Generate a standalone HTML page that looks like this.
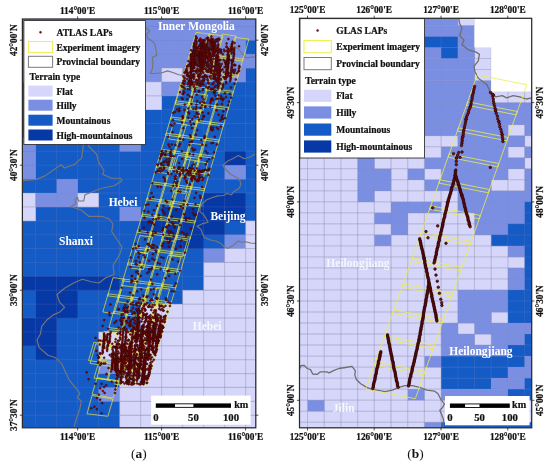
<!DOCTYPE html>
<html lang="en">
<head>
<meta charset="utf-8">
<title>Terrain type maps with ATLAS and GLAS LAPs</title>
<style>
html,body{margin:0;padding:0;background:#ffffff;}
body{width:550px;height:465px;overflow:hidden;font-family:"Liberation Serif",serif;}
svg{display:block;}
</style>
</head>
<body>
<svg width="550" height="465" viewBox="0 0 550 465">
<rect x="0" y="0" width="550" height="465" fill="#ffffff"/>
<defs><clipPath id="ca"><rect x="22.4" y="19" width="233.4" height="408.8"/></clipPath>
<clipPath id="cb"><rect x="299.5" y="18.3" width="232.2" height="409.5"/></clipPath></defs>
<g clip-path="url(#ca)">
<rect x="22.4" y="19" width="233.4" height="408.8" fill="#155bc6"/>
<rect x="22.4" y="19" width="233.7" height="7.6" fill="#7a8ee2"/>
<rect x="22.4" y="26.3" width="233.7" height="14.2" fill="#7a8ee2"/>
<rect x="22.4" y="40.2" width="223.5" height="14.2" fill="#7a8ee2"/>
<rect x="22.4" y="54.1" width="233.7" height="14.2" fill="#7a8ee2"/>
<rect x="22.4" y="68" width="139.5" height="14.2" fill="#7a8ee2"/>
<rect x="161.6" y="68" width="21.3" height="14.2" fill="#d6d6fa"/>
<rect x="182.6" y="68" width="63.3" height="14.2" fill="#7a8ee2"/>
<rect x="140.6" y="81.9" width="21.3" height="14.2" fill="#d6d6fa"/>
<rect x="161.6" y="81.9" width="21.3" height="14.2" fill="#7a8ee2"/>
<rect x="140.6" y="95.8" width="21.3" height="14.2" fill="#d6d6fa"/>
<rect x="22.4" y="137.4" width="13.5" height="14.2" fill="#7a8ee2"/>
<rect x="119.6" y="137.4" width="21.3" height="14.2" fill="#7a8ee2"/>
<rect x="22.4" y="151.3" width="13.5" height="14.2" fill="#7a8ee2"/>
<rect x="224.6" y="151.3" width="21.3" height="14.2" fill="#0638a6"/>
<rect x="22.4" y="165.2" width="13.5" height="14.2" fill="#7a8ee2"/>
<rect x="224.6" y="165.2" width="21.3" height="14.2" fill="#7a8ee2"/>
<rect x="56.6" y="179.1" width="21.3" height="14.2" fill="#7a8ee2"/>
<rect x="22.4" y="193" width="13.5" height="14.2" fill="#d6d6fa"/>
<rect x="35.6" y="193" width="42.3" height="14.2" fill="#7a8ee2"/>
<rect x="77.6" y="193" width="21.3" height="14.2" fill="#d6d6fa"/>
<rect x="203.6" y="193" width="42.3" height="14.2" fill="#0638a6"/>
<rect x="22.4" y="206.9" width="13.5" height="14.2" fill="#d6d6fa"/>
<rect x="119.6" y="206.9" width="21.3" height="14.2" fill="#7a8ee2"/>
<rect x="161.6" y="206.9" width="84.3" height="14.2" fill="#0638a6"/>
<rect x="140.6" y="220.8" width="84.3" height="14.2" fill="#0638a6"/>
<rect x="245.6" y="220.8" width="10.5" height="14.2" fill="#d6d6fa"/>
<rect x="161.6" y="234.7" width="42.3" height="14.2" fill="#0638a6"/>
<rect x="224.6" y="234.7" width="21.3" height="14.2" fill="#7a8ee2"/>
<rect x="245.6" y="234.7" width="10.5" height="14.2" fill="#d6d6fa"/>
<rect x="203.6" y="248.5" width="21.3" height="14.2" fill="#7a8ee2"/>
<rect x="224.6" y="248.5" width="31.5" height="14.2" fill="#d6d6fa"/>
<rect x="203.6" y="262.4" width="52.5" height="14.2" fill="#d6d6fa"/>
<rect x="22.4" y="276.3" width="97.5" height="14.2" fill="#0638a6"/>
<rect x="203.6" y="276.3" width="52.5" height="14.2" fill="#d6d6fa"/>
<rect x="35.6" y="290.2" width="42.3" height="14.2" fill="#0638a6"/>
<rect x="182.6" y="290.2" width="73.5" height="14.2" fill="#d6d6fa"/>
<rect x="35.6" y="304.1" width="42.3" height="14.2" fill="#0638a6"/>
<rect x="140.6" y="304.1" width="115.5" height="14.2" fill="#d6d6fa"/>
<rect x="22.4" y="318" width="34.5" height="14.2" fill="#0638a6"/>
<rect x="140.6" y="318" width="115.5" height="14.2" fill="#d6d6fa"/>
<rect x="22.4" y="331.9" width="34.5" height="14.2" fill="#0638a6"/>
<rect x="98.6" y="331.9" width="157.5" height="14.2" fill="#d6d6fa"/>
<rect x="35.6" y="345.8" width="21.3" height="14.2" fill="#0638a6"/>
<rect x="98.6" y="345.8" width="157.5" height="14.2" fill="#d6d6fa"/>
<rect x="98.6" y="359.7" width="21.3" height="14.2" fill="#7a8ee2"/>
<rect x="119.6" y="359.7" width="136.5" height="14.2" fill="#d6d6fa"/>
<rect x="119.6" y="373.6" width="136.5" height="14.2" fill="#d6d6fa"/>
<rect x="98.6" y="387.4" width="21.3" height="14.2" fill="#7a8ee2"/>
<rect x="119.6" y="387.4" width="136.5" height="14.2" fill="#d6d6fa"/>
<rect x="119.6" y="401.3" width="136.5" height="14.2" fill="#d6d6fa"/>
<rect x="119.6" y="415.2" width="136.5" height="12.9" fill="#d6d6fa"/>
<path d="M35.6 19V427.8M56.6 19V427.8M77.6 19V427.8M98.6 19V427.8M119.6 19V427.8M140.6 19V427.8M161.6 19V427.8M182.6 19V427.8M203.6 19V427.8M224.6 19V427.8M245.6 19V427.8M22.4 26.3H255.8M22.4 40.2H255.8M22.4 54.1H255.8M22.4 68H255.8M22.4 81.9H255.8M22.4 95.8H255.8M22.4 109.6H255.8M22.4 123.5H255.8M22.4 137.4H255.8M22.4 151.3H255.8M22.4 165.2H255.8M22.4 179.1H255.8M22.4 193H255.8M22.4 206.9H255.8M22.4 220.8H255.8M22.4 234.7H255.8M22.4 248.5H255.8M22.4 262.4H255.8M22.4 276.3H255.8M22.4 290.2H255.8M22.4 304.1H255.8M22.4 318H255.8M22.4 331.9H255.8M22.4 345.8H255.8M22.4 359.7H255.8M22.4 373.6H255.8M22.4 387.4H255.8M22.4 401.3H255.8M22.4 415.2H255.8" fill="none" stroke="#8e8eb0" stroke-opacity="0.28" stroke-width="0.7"/>
<path d="M161.6 68H182.6V81.9H161.6ZM140.6 81.9H161.6V95.8H140.6ZM140.6 95.8H161.6V109.6H140.6ZM22.4 193H35.6V206.9H22.4ZM77.6 193H98.6V206.9H77.6ZM22.4 206.9H35.6V220.8H22.4ZM245.6 220.8H255.8V234.7H245.6ZM245.6 234.7H255.8V248.5H245.6ZM224.6 248.5H245.6V262.4H224.6ZM245.6 248.5H255.8V262.4H245.6ZM203.6 262.4H224.6V276.3H203.6ZM224.6 262.4H245.6V276.3H224.6ZM245.6 262.4H255.8V276.3H245.6ZM203.6 276.3H224.6V290.2H203.6ZM224.6 276.3H245.6V290.2H224.6ZM245.6 276.3H255.8V290.2H245.6ZM182.6 290.2H203.6V304.1H182.6ZM203.6 290.2H224.6V304.1H203.6ZM224.6 290.2H245.6V304.1H224.6ZM245.6 290.2H255.8V304.1H245.6ZM140.6 304.1H161.6V318H140.6ZM161.6 304.1H182.6V318H161.6ZM182.6 304.1H203.6V318H182.6ZM203.6 304.1H224.6V318H203.6ZM224.6 304.1H245.6V318H224.6ZM245.6 304.1H255.8V318H245.6ZM140.6 318H161.6V331.9H140.6ZM161.6 318H182.6V331.9H161.6ZM182.6 318H203.6V331.9H182.6ZM203.6 318H224.6V331.9H203.6ZM224.6 318H245.6V331.9H224.6ZM245.6 318H255.8V331.9H245.6ZM98.6 331.9H119.6V345.8H98.6ZM119.6 331.9H140.6V345.8H119.6ZM140.6 331.9H161.6V345.8H140.6ZM161.6 331.9H182.6V345.8H161.6ZM182.6 331.9H203.6V345.8H182.6ZM203.6 331.9H224.6V345.8H203.6ZM224.6 331.9H245.6V345.8H224.6ZM245.6 331.9H255.8V345.8H245.6ZM98.6 345.8H119.6V359.7H98.6ZM119.6 345.8H140.6V359.7H119.6ZM140.6 345.8H161.6V359.7H140.6ZM161.6 345.8H182.6V359.7H161.6ZM182.6 345.8H203.6V359.7H182.6ZM203.6 345.8H224.6V359.7H203.6ZM224.6 345.8H245.6V359.7H224.6ZM245.6 345.8H255.8V359.7H245.6ZM119.6 359.7H140.6V373.6H119.6ZM140.6 359.7H161.6V373.6H140.6ZM161.6 359.7H182.6V373.6H161.6ZM182.6 359.7H203.6V373.6H182.6ZM203.6 359.7H224.6V373.6H203.6ZM224.6 359.7H245.6V373.6H224.6ZM245.6 359.7H255.8V373.6H245.6ZM119.6 373.6H140.6V387.4H119.6ZM140.6 373.6H161.6V387.4H140.6ZM161.6 373.6H182.6V387.4H161.6ZM182.6 373.6H203.6V387.4H182.6ZM203.6 373.6H224.6V387.4H203.6ZM224.6 373.6H245.6V387.4H224.6ZM245.6 373.6H255.8V387.4H245.6ZM119.6 387.4H140.6V401.3H119.6ZM140.6 387.4H161.6V401.3H140.6ZM161.6 387.4H182.6V401.3H161.6ZM182.6 387.4H203.6V401.3H182.6ZM203.6 387.4H224.6V401.3H203.6ZM224.6 387.4H245.6V401.3H224.6ZM245.6 387.4H255.8V401.3H245.6ZM119.6 401.3H140.6V415.2H119.6ZM140.6 401.3H161.6V415.2H140.6ZM161.6 401.3H182.6V415.2H161.6ZM182.6 401.3H203.6V415.2H182.6ZM203.6 401.3H224.6V415.2H203.6ZM224.6 401.3H245.6V415.2H224.6ZM245.6 401.3H255.8V415.2H245.6ZM119.6 415.2H140.6V427.8H119.6ZM140.6 415.2H161.6V427.8H140.6ZM161.6 415.2H182.6V427.8H161.6ZM182.6 415.2H203.6V427.8H182.6ZM203.6 415.2H224.6V427.8H203.6ZM224.6 415.2H245.6V427.8H224.6ZM245.6 415.2H255.8V427.8H245.6Z" fill="none" stroke="#9a9aba" stroke-opacity="0.36" stroke-width="0.6"/>
<polyline points="83.2,143 83.2,146.4 81.7,157.8 74.8,164.2 64.6,168 60.8,164.7 45.5,175.6 36.6,179.4 22,180.7" fill="none" stroke="#777777" stroke-width="1.15" stroke-linejoin="round"/>
<polyline points="88.8,143 88.8,146.4 96.4,154 99,162.9 104,170.5 102.8,174.4 111.7,178.2 120.6,178.2 121.9,180.7 114.2,185.8 101.5,188.3 91.3,192.2 85,194.7 83.7,201 78.6,201 77.3,197.3 74.8,199.8 76,203.6 71,206.7 81.2,210 88.8,216.3 101.5,216.3 109.1,218.9 113,224 111.7,231.6 116.8,239.2 121.9,246.9 120.6,252 118,257.6 113,265.3 114.2,274.2 105.3,278 99,283 91.3,281.8 82.4,279.3 73.5,283 64.6,288.2 57,294.5 59.5,302.2 64.6,307.3 59.5,312.3 53.2,314.9 46.8,320 41.7,326.3 40.4,334 37,340 39.2,347.6 48,355.3 55.7,357.8 62,364.2 65.9,373 69.7,380.7 76,388.3 79.9,393.4 77.3,397.3 81.2,401 79.9,408.7 77.3,416.3 74.8,424 74,428" fill="none" stroke="#777777" stroke-width="1.15" stroke-linejoin="round"/>
<polyline points="144,26 145.8,27.7 149.7,30.9 146.5,34.8 147.7,38.6 151.6,40.6 154.8,43.8 156.1,50.3 156.8,55.4 152.3,57.4 152.9,63.2 152.3,69.6 150.3,73.5 155.5,73.5 161.9,72.8 167.7,70.9 173.5,72.8 178.7,74.8 183.9,75.4 192,78 202,80 212,74 222,64 229,52 234,46 238.5,49 242.6,54 245.8,57.6 250,57.4 257,56.6" fill="none" stroke="#777777" stroke-width="1.15" stroke-linejoin="round"/>
<polyline points="257,153 255.8,153.5 250.6,156.8 244.2,158.7 238.4,155.5 232.6,158.7 227.4,161.3 222.9,165.2 224.2,167.7 227.4,171 231.3,174.8 236.5,177.4 239.7,180 241,184.5 239,188.4 233.9,191.6 231.3,194.8 226.8,193.5 223.5,195.5 217.7,195.9 211.9,197.8 206.8,199.7 202.3,203.6 200.3,207.5 199.7,211.4 203.5,214.6 206.1,218.5 208.1,222.3 202.9,223.6 197.1,226.2 201,229.4 202.3,233.3 204.2,237.2 209.4,239.7 215.8,241 221,243.6 224.8,247.5 228.7,248.1 233.9,244.9 238.4,241 241.6,242.3 245.5,241.7 250.6,243 257,243.6" fill="none" stroke="#777777" stroke-width="1.15" stroke-linejoin="round"/>
<polygon points="113,277.6 124.4,279.1 119,297.3 107.6,295.8" fill="none" stroke="#e6e63c" stroke-width="0.7"/>
<polygon points="108.2,293.8 119.6,295.3 114.2,313.5 102.8,312" fill="none" stroke="#e6e63c" stroke-width="0.7"/>
<polygon points="93.8,342.4 105.2,343.9 99.9,362.1 88.5,360.6" fill="none" stroke="#e6e63c" stroke-width="0.7"/>
<polygon points="196,32.3 210.1,34.1 203.6,55.9 189.6,54.1" fill="none" stroke="#e6e63c" stroke-width="0.7"/>
<polygon points="190.2,52.2 204.2,54 198.9,72.1 184.8,70.3" fill="none" stroke="#e6e63c" stroke-width="0.7"/>
<polygon points="185.4,68.4 199.4,70.2 194.1,88.3 180,86.5" fill="none" stroke="#e6e63c" stroke-width="0.7"/>
<polygon points="180.6,84.6 194.7,86.4 189.3,104.5 175.2,102.7" fill="none" stroke="#e6e63c" stroke-width="0.7"/>
<polygon points="180,88 192.9,89.7 188.2,105.9 175.2,104.2" fill="none" stroke="#e6e63c" stroke-width="0.7"/>
<polygon points="175.8,100.8 189.9,102.6 184.5,120.7 170.5,118.9" fill="none" stroke="#e6e63c" stroke-width="0.7"/>
<polygon points="171,117 185.1,118.8 179.7,136.9 165.7,135.1" fill="none" stroke="#e6e63c" stroke-width="0.7"/>
<polygon points="173.5,122.8 186.4,124.5 181.7,140.7 168.7,139" fill="none" stroke="#e6e63c" stroke-width="0.7"/>
<polygon points="166.3,133.2 180.3,135 175,153.1 160.9,151.3" fill="none" stroke="#e6e63c" stroke-width="0.7"/>
<polygon points="161.5,149.4 175.5,151.2 170.2,169.3 156.1,167.5" fill="none" stroke="#e6e63c" stroke-width="0.7"/>
<polygon points="162.4,156.1 175.4,157.7 170.6,173.9 157.7,172.3" fill="none" stroke="#e6e63c" stroke-width="0.7"/>
<polygon points="156.7,165.6 170.8,167.4 165.4,185.5 151.3,183.7" fill="none" stroke="#e6e63c" stroke-width="0.7"/>
<polygon points="151.9,181.8 166,183.6 160.6,201.7 146.6,199.9" fill="none" stroke="#e6e63c" stroke-width="0.7"/>
<polygon points="147.1,198 161.2,199.8 155.8,217.9 141.8,216.1" fill="none" stroke="#e6e63c" stroke-width="0.7"/>
<polygon points="142.4,214.2 156.4,216 151.1,234.1 137,232.3" fill="none" stroke="#e6e63c" stroke-width="0.7"/>
<polygon points="137.6,230.4 151.6,232.2 146.3,250.3 132.2,248.5" fill="none" stroke="#e6e63c" stroke-width="0.7"/>
<polygon points="139.8,235.5 152.7,237.2 147.9,253.4 135,251.7" fill="none" stroke="#e6e63c" stroke-width="0.7"/>
<polygon points="132.8,246.6 146.9,248.4 141.5,266.5 127.5,264.7" fill="none" stroke="#e6e63c" stroke-width="0.7"/>
<polygon points="135.2,251.8 148.1,253.5 143.4,269.7 130.4,268" fill="none" stroke="#e6e63c" stroke-width="0.7"/>
<polygon points="128,262.8 142.1,264.6 136.7,282.7 122.7,280.9" fill="none" stroke="#e6e63c" stroke-width="0.7"/>
<polygon points="123.3,279 137.3,280.8 131.9,298.9 117.9,297.1" fill="none" stroke="#e6e63c" stroke-width="0.7"/>
<polygon points="122.4,285.5 135.4,287.2 130.6,303.4 117.7,301.7" fill="none" stroke="#e6e63c" stroke-width="0.7"/>
<polygon points="118.5,295.2 132.5,297 127.2,315.1 113.1,313.3" fill="none" stroke="#e6e63c" stroke-width="0.7"/>
<polygon points="113.7,311.4 127.7,313.2 122.4,331.3 108.3,329.5" fill="none" stroke="#e6e63c" stroke-width="0.7"/>
<polygon points="108.9,327.6 123,329.4 117.6,347.5 103.6,345.7" fill="none" stroke="#e6e63c" stroke-width="0.7"/>
<polygon points="104,331.3 117,333 112.2,349.2 99.3,347.5" fill="none" stroke="#e6e63c" stroke-width="0.7"/>
<polygon points="104.1,343.8 118.2,345.6 112.8,363.7 98.8,361.9" fill="none" stroke="#e6e63c" stroke-width="0.7"/>
<polygon points="99.4,360 113.4,361.8 108.1,379.9 94,378.1" fill="none" stroke="#e6e63c" stroke-width="0.7"/>
<polygon points="209,33.9 223,35.8 216.6,57.6 202.5,55.8" fill="none" stroke="#e6e63c" stroke-width="0.7"/>
<polygon points="203.1,53.8 217.2,55.7 211.8,73.8 197.8,72" fill="none" stroke="#e6e63c" stroke-width="0.7"/>
<polygon points="198.3,70 212.4,71.9 207,90 193,88.2" fill="none" stroke="#e6e63c" stroke-width="0.7"/>
<polygon points="193.6,86.2 207.6,88.1 202.2,106.2 188.2,104.4" fill="none" stroke="#e6e63c" stroke-width="0.7"/>
<polygon points="194.6,93.3 207.5,95 202.7,111.2 189.8,109.5" fill="none" stroke="#e6e63c" stroke-width="0.7"/>
<polygon points="188.8,102.4 202.8,104.3 197.5,122.4 183.4,120.6" fill="none" stroke="#e6e63c" stroke-width="0.7"/>
<polygon points="188.1,108.4 201,110.1 196.2,126.3 183.3,124.6" fill="none" stroke="#e6e63c" stroke-width="0.7"/>
<polygon points="184,118.6 198,120.5 192.7,138.6 178.6,136.8" fill="none" stroke="#e6e63c" stroke-width="0.7"/>
<polygon points="179.2,134.8 193.3,136.7 187.9,154.8 173.9,153" fill="none" stroke="#e6e63c" stroke-width="0.7"/>
<polygon points="174.4,151 188.5,152.9 183.1,171 169.1,169.2" fill="none" stroke="#e6e63c" stroke-width="0.7"/>
<polygon points="178,155.4 190.9,157.1 186.1,173.3 173.2,171.6" fill="none" stroke="#e6e63c" stroke-width="0.7"/>
<polygon points="169.7,167.2 183.7,169.1 178.3,187.2 164.3,185.4" fill="none" stroke="#e6e63c" stroke-width="0.7"/>
<polygon points="164.9,183.4 178.9,185.3 173.6,203.4 159.5,201.6" fill="none" stroke="#e6e63c" stroke-width="0.7"/>
<polygon points="160.1,199.6 174.1,201.5 168.8,219.6 154.7,217.8" fill="none" stroke="#e6e63c" stroke-width="0.7"/>
<polygon points="159.3,203.1 172.3,204.8 167.5,221 154.5,219.3" fill="none" stroke="#e6e63c" stroke-width="0.7"/>
<polygon points="155.3,215.8 169.4,217.7 164,235.8 150,234" fill="none" stroke="#e6e63c" stroke-width="0.7"/>
<polygon points="150.5,232 164.6,233.9 159.2,252 145.2,250.2" fill="none" stroke="#e6e63c" stroke-width="0.7"/>
<polygon points="145.8,248.2 159.8,250.1 154.5,268.2 140.4,266.4" fill="none" stroke="#e6e63c" stroke-width="0.7"/>
<polygon points="141,264.4 155,266.3 149.7,284.4 135.6,282.6" fill="none" stroke="#e6e63c" stroke-width="0.7"/>
<polygon points="136.2,280.6 150.3,282.5 144.9,300.6 130.8,298.8" fill="none" stroke="#e6e63c" stroke-width="0.7"/>
<polygon points="136.5,287.1 149.4,288.8 144.6,305 131.7,303.3" fill="none" stroke="#e6e63c" stroke-width="0.7"/>
<polygon points="131.4,296.8 145.5,298.7 140.1,316.8 126.1,315" fill="none" stroke="#e6e63c" stroke-width="0.7"/>
<polygon points="126.6,313 140.7,314.9 135.3,333 121.3,331.2" fill="none" stroke="#e6e63c" stroke-width="0.7"/>
<polygon points="121.9,329.2 135.9,331.1 130.6,349.2 116.5,347.4" fill="none" stroke="#e6e63c" stroke-width="0.7"/>
<polygon points="117.1,345.4 131.1,347.3 125.8,365.4 111.7,363.6" fill="none" stroke="#e6e63c" stroke-width="0.7"/>
<polygon points="112.3,361.6 126.4,363.5 121,381.6 107,379.8" fill="none" stroke="#e6e63c" stroke-width="0.7"/>
<polygon points="222.4,34.1 236.4,36 229.5,59.3 215.5,57.5" fill="none" stroke="#e6e63c" stroke-width="0.7"/>
<polygon points="216.1,55.5 230.1,57.4 224.8,75.5 210.7,73.7" fill="none" stroke="#e6e63c" stroke-width="0.7"/>
<polygon points="211.3,71.7 225.3,73.6 220,91.7 205.9,89.9" fill="none" stroke="#e6e63c" stroke-width="0.7"/>
<polygon points="206.5,87.9 220.6,89.8 215.2,107.9 201.1,106.1" fill="none" stroke="#e6e63c" stroke-width="0.7"/>
<polygon points="201.7,104.1 215.8,106 210.4,124.1 196.4,122.3" fill="none" stroke="#e6e63c" stroke-width="0.7"/>
<polygon points="196.9,120.3 211,122.2 205.6,140.3 191.6,138.5" fill="none" stroke="#e6e63c" stroke-width="0.7"/>
<polygon points="192.2,136.5 206.2,138.4 200.9,156.5 186.8,154.7" fill="none" stroke="#e6e63c" stroke-width="0.7"/>
<polygon points="189.5,143 202.5,144.7 197.7,160.9 184.8,159.2" fill="none" stroke="#e6e63c" stroke-width="0.7"/>
<polygon points="187.4,152.7 201.4,154.6 196.1,172.7 182,170.9" fill="none" stroke="#e6e63c" stroke-width="0.7"/>
<polygon points="186.2,156.8 199.1,158.4 194.3,174.6 181.4,173" fill="none" stroke="#e6e63c" stroke-width="0.7"/>
<polygon points="182.6,168.9 196.7,170.8 191.3,188.9 177.2,187.1" fill="none" stroke="#e6e63c" stroke-width="0.7"/>
<polygon points="176.9,175.5 189.8,177.2 185.1,193.4 172.1,191.7" fill="none" stroke="#e6e63c" stroke-width="0.7"/>
<polygon points="177.8,185.1 191.9,187 186.5,205.1 172.5,203.3" fill="none" stroke="#e6e63c" stroke-width="0.7"/>
<polygon points="174.4,190 187.3,191.7 182.5,207.9 169.6,206.2" fill="none" stroke="#e6e63c" stroke-width="0.7"/>
<polygon points="173,201.3 187.1,203.2 181.7,221.3 167.7,219.5" fill="none" stroke="#e6e63c" stroke-width="0.7"/>
<polygon points="168.3,217.5 182.3,219.4 177,237.5 162.9,235.7" fill="none" stroke="#e6e63c" stroke-width="0.7"/>
<polygon points="166.4,223.5 179.3,225.1 174.6,241.3 161.6,239.7" fill="none" stroke="#e6e63c" stroke-width="0.7"/>
<polygon points="163.5,233.7 177.5,235.6 172.2,253.7 158.1,251.9" fill="none" stroke="#e6e63c" stroke-width="0.7"/>
<polygon points="158.7,249.9 172.8,251.8 167.4,269.9 153.4,268.1" fill="none" stroke="#e6e63c" stroke-width="0.7"/>
<polygon points="153.9,266.1 168,268 162.6,286.1 148.6,284.3" fill="none" stroke="#e6e63c" stroke-width="0.7"/>
<polygon points="149.2,282.3 163.2,284.2 157.8,302.3 143.8,300.5" fill="none" stroke="#e6e63c" stroke-width="0.7"/>
<polygon points="147.2,287.3 160.2,288.9 155.4,305.1 142.5,303.5" fill="none" stroke="#e6e63c" stroke-width="0.7"/>
<polygon points="144.4,298.5 158.4,300.4 153.1,318.5 139,316.7" fill="none" stroke="#e6e63c" stroke-width="0.7"/>
<polygon points="139.6,314.7 153.6,316.6 148.3,334.7 134.2,332.9" fill="none" stroke="#e6e63c" stroke-width="0.7"/>
<polygon points="134.8,330.9 148.9,332.8 143.5,350.9 129.5,349.1" fill="none" stroke="#e6e63c" stroke-width="0.7"/>
<polygon points="130.9,334.9 143.9,336.6 139.1,352.8 126.2,351.1" fill="none" stroke="#e6e63c" stroke-width="0.7"/>
<polygon points="130,347.1 144.1,349 138.7,367.1 124.7,365.3" fill="none" stroke="#e6e63c" stroke-width="0.7"/>
<polygon points="128.4,353.3 141.4,355 136.6,371.2 123.6,369.5" fill="none" stroke="#e6e63c" stroke-width="0.7"/>
<polygon points="125.3,363.3 139.3,365.2 134,383.3 119.9,381.5" fill="none" stroke="#e6e63c" stroke-width="0.7"/>
<polygon points="119.6,368.1 132.5,369.8 127.7,386 114.8,384.3" fill="none" stroke="#e6e63c" stroke-width="0.7"/>
<polygon points="234.9,37.3 248.9,39.1 242.5,61 228.4,59.2" fill="none" stroke="#e6e63c" stroke-width="0.7"/>
<polygon points="229,57.2 243.1,59 237.7,77.2 223.7,75.4" fill="none" stroke="#e6e63c" stroke-width="0.7"/>
<polygon points="224.2,73.4 238.3,75.2 232.9,93.4 218.9,91.6" fill="none" stroke="#e6e63c" stroke-width="0.7"/>
<polygon points="219.5,89.6 233.5,91.4 228.1,109.6 214.1,107.8" fill="none" stroke="#e6e63c" stroke-width="0.7"/>
<polygon points="214.7,105.8 228.7,107.6 223.4,125.8 209.3,124" fill="none" stroke="#e6e63c" stroke-width="0.7"/>
<polygon points="209.9,122 223.9,123.8 218.6,142 204.5,140.2" fill="none" stroke="#e6e63c" stroke-width="0.7"/>
<polygon points="205.1,138.2 219.2,140 213.8,158.2 199.8,156.4" fill="none" stroke="#e6e63c" stroke-width="0.7"/>
<polygon points="200.3,154.4 214.4,156.2 209,174.4 195,172.6" fill="none" stroke="#e6e63c" stroke-width="0.7"/>
<polygon points="195,161.1 207.9,162.8 203.1,179 190.2,177.3" fill="none" stroke="#e6e63c" stroke-width="0.7"/>
<polygon points="195.6,170.6 209.6,172.4 204.2,190.6 190.2,188.8" fill="none" stroke="#e6e63c" stroke-width="0.7"/>
<polygon points="190.8,186.8 204.8,188.6 199.5,206.8 185.4,205" fill="none" stroke="#e6e63c" stroke-width="0.7"/>
<polygon points="186,203 200,204.8 194.7,223 180.6,221.2" fill="none" stroke="#e6e63c" stroke-width="0.7"/>
<polygon points="181.2,219.2 195.3,221 189.9,239.2 175.9,237.4" fill="none" stroke="#e6e63c" stroke-width="0.7"/>
<polygon points="176.4,235.4 190.5,237.2 185.1,255.4 171.1,253.6" fill="none" stroke="#e6e63c" stroke-width="0.7"/>
<polygon points="174.5,238.8 187.5,240.5 182.7,256.7 169.7,255" fill="none" stroke="#e6e63c" stroke-width="0.7"/>
<polygon points="171.7,251.6 185.7,253.4 180.4,271.6 166.3,269.8" fill="none" stroke="#e6e63c" stroke-width="0.7"/>
<polygon points="168.2,255.3 181.1,257 176.4,273.2 163.4,271.5" fill="none" stroke="#e6e63c" stroke-width="0.7"/>
<polygon points="166.9,267.8 180.9,269.6 175.6,287.8 161.5,286" fill="none" stroke="#e6e63c" stroke-width="0.7"/>
<polygon points="162.1,284 176.2,285.8 170.8,304 156.7,302.2" fill="none" stroke="#e6e63c" stroke-width="0.7"/>
<polygon points="156.8,287.4 169.7,289.1 164.9,305.3 152,303.6" fill="none" stroke="#e6e63c" stroke-width="0.7"/>
<polygon points="157.3,300.2 171.4,302 166,320.2 152,318.4" fill="none" stroke="#e6e63c" stroke-width="0.7"/>
<polygon points="155.4,303.4 168.4,305.1 163.6,321.3 150.7,319.6" fill="none" stroke="#e6e63c" stroke-width="0.7"/>
<polygon points="152.5,316.4 166.6,318.2 161.2,336.4 147.2,334.6" fill="none" stroke="#e6e63c" stroke-width="0.7"/>
<polygon points="147.8,332.6 161.8,334.4 156.5,352.6 142.4,350.8" fill="none" stroke="#e6e63c" stroke-width="0.7"/>
<polygon points="143,348.8 157,350.6 151.7,368.8 137.6,367" fill="none" stroke="#e6e63c" stroke-width="0.7"/>
<polygon points="139.6,353.5 152.6,355.2 147.8,371.4 134.9,369.7" fill="none" stroke="#e6e63c" stroke-width="0.7"/>
<polygon points="138.2,365 152.3,366.8 146.9,385 132.9,383.2" fill="none" stroke="#e6e63c" stroke-width="0.7"/>
<polygon points="92,395.5 113,399 107.9,416.3 87,413.8" fill="none" stroke="#e6e63c" stroke-width="0.7"/>
<polygon points="97,378.2 118.8,382 113,398 92.1,394.2" fill="none" stroke="#e6e63c" stroke-width="0.7"/>
<polygon points="101.6,361.6 121.9,365.4 118.8,380.7 97,377.7" fill="none" stroke="#e6e63c" stroke-width="0.7"/>
<polygon points="95.9,343.8 116.8,347.6 113,366.7 90.1,363.4" fill="none" stroke="#e6e63c" stroke-width="0.7"/>
<g fill="#8a0c0c" stroke="#2c0404" stroke-width="0.55">
<circle cx="167" cy="202" r="0.95"/>
<circle cx="196.3" cy="70.9" r="0.95"/>
<circle cx="108.2" cy="328.8" r="0.95"/>
<circle cx="118.8" cy="375.5" r="0.95"/>
<circle cx="146.3" cy="329.9" r="0.95"/>
<circle cx="153.4" cy="219.3" r="0.95"/>
<circle cx="200.1" cy="43.9" r="0.95"/>
<circle cx="160.9" cy="163.6" r="0.95"/>
<circle cx="144.1" cy="360" r="0.95"/>
<circle cx="167.6" cy="271.3" r="0.95"/>
<circle cx="136.7" cy="303.3" r="0.95"/>
<circle cx="131.8" cy="375.6" r="0.95"/>
<circle cx="124.5" cy="383.6" r="0.95"/>
<circle cx="163.5" cy="310.5" r="0.95"/>
<circle cx="153.1" cy="352.3" r="0.95"/>
<circle cx="192.9" cy="59.5" r="0.95"/>
<circle cx="162" cy="154.3" r="0.95"/>
<circle cx="152.2" cy="258.6" r="0.95"/>
<circle cx="191.1" cy="71.2" r="0.95"/>
<circle cx="169.9" cy="241.1" r="0.95"/>
<circle cx="192.8" cy="51.2" r="0.95"/>
<circle cx="199.3" cy="40.1" r="0.95"/>
<circle cx="142.7" cy="334.6" r="0.95"/>
<circle cx="164.8" cy="178.9" r="0.95"/>
<circle cx="152.3" cy="339.1" r="0.95"/>
<circle cx="175.4" cy="145" r="0.95"/>
<circle cx="196.3" cy="107.5" r="0.95"/>
<circle cx="117.5" cy="348.6" r="0.95"/>
<circle cx="131.4" cy="355.2" r="0.95"/>
<circle cx="161.3" cy="257.2" r="0.95"/>
<circle cx="189.4" cy="145" r="0.95"/>
<circle cx="196" cy="55.5" r="0.95"/>
<circle cx="229.9" cy="81.3" r="0.95"/>
<circle cx="136.8" cy="354" r="0.95"/>
<circle cx="121.7" cy="356.1" r="0.95"/>
<circle cx="205.6" cy="151.4" r="0.95"/>
<circle cx="159.8" cy="306.6" r="0.95"/>
<circle cx="157.7" cy="186.7" r="0.95"/>
<circle cx="227.9" cy="74.8" r="0.95"/>
<circle cx="173.4" cy="233.6" r="0.95"/>
<circle cx="135.6" cy="264" r="0.95"/>
<circle cx="121.6" cy="359.1" r="0.95"/>
<circle cx="182.8" cy="83" r="0.95"/>
<circle cx="132.6" cy="302.6" r="0.95"/>
<circle cx="204.1" cy="80.7" r="0.95"/>
<circle cx="172.3" cy="199.4" r="0.95"/>
<circle cx="136.6" cy="264.5" r="0.95"/>
<circle cx="122.5" cy="351" r="0.95"/>
<circle cx="203.2" cy="46.6" r="0.95"/>
<circle cx="151.2" cy="331.7" r="0.95"/>
<circle cx="210.3" cy="53.1" r="0.95"/>
<circle cx="148.7" cy="327.8" r="0.95"/>
<circle cx="169.5" cy="146.8" r="0.95"/>
<circle cx="160.5" cy="171.6" r="0.95"/>
<circle cx="142.6" cy="312.5" r="0.95"/>
<circle cx="155.3" cy="355.2" r="0.95"/>
<circle cx="226.2" cy="81.8" r="0.95"/>
<circle cx="122.7" cy="344.5" r="0.95"/>
<circle cx="163.8" cy="317.1" r="0.95"/>
<circle cx="121.7" cy="350.6" r="0.95"/>
<circle cx="178.4" cy="168.2" r="0.95"/>
<circle cx="148.3" cy="376.4" r="0.95"/>
<circle cx="218.6" cy="95.3" r="0.95"/>
<circle cx="132.3" cy="313.8" r="0.95"/>
<circle cx="152.3" cy="214.9" r="0.95"/>
<circle cx="194.7" cy="179" r="0.95"/>
<circle cx="132.9" cy="308.2" r="0.95"/>
<circle cx="230.9" cy="87.5" r="0.95"/>
<circle cx="143.5" cy="349.1" r="0.95"/>
<circle cx="216.8" cy="127.8" r="0.95"/>
<circle cx="228.9" cy="58.9" r="0.95"/>
<circle cx="171.8" cy="144.5" r="0.95"/>
<circle cx="141.6" cy="355.6" r="0.95"/>
<circle cx="202.5" cy="48.2" r="0.95"/>
<circle cx="135.6" cy="317.4" r="0.95"/>
<circle cx="202.7" cy="112.4" r="0.95"/>
<circle cx="98.5" cy="357.9" r="0.95"/>
<circle cx="149.3" cy="365.9" r="0.95"/>
<circle cx="147.8" cy="341" r="0.95"/>
<circle cx="138.7" cy="331.4" r="0.95"/>
<circle cx="199.4" cy="41.2" r="0.95"/>
<circle cx="167.5" cy="311.8" r="0.95"/>
<circle cx="142.5" cy="317.7" r="0.95"/>
<circle cx="232.9" cy="69.7" r="0.95"/>
<circle cx="169.4" cy="158.7" r="0.95"/>
<circle cx="138.7" cy="338.1" r="0.95"/>
<circle cx="148.4" cy="321.4" r="0.95"/>
<circle cx="205.3" cy="106.9" r="0.95"/>
<circle cx="188.3" cy="108.5" r="0.95"/>
<circle cx="208.9" cy="87.2" r="0.95"/>
<circle cx="192.4" cy="148.5" r="0.95"/>
<circle cx="195.9" cy="214.6" r="0.95"/>
<circle cx="119.3" cy="371.7" r="0.95"/>
<circle cx="119.9" cy="371.5" r="0.95"/>
<circle cx="125.8" cy="321" r="0.95"/>
<circle cx="126.9" cy="376.8" r="0.95"/>
<circle cx="125.6" cy="311.6" r="0.95"/>
<circle cx="140.6" cy="360.9" r="0.95"/>
<circle cx="130.2" cy="354.8" r="0.95"/>
<circle cx="127.7" cy="351.3" r="0.95"/>
<circle cx="208.9" cy="56.3" r="0.95"/>
<circle cx="120.6" cy="334.8" r="0.95"/>
<circle cx="170.6" cy="152.3" r="0.95"/>
<circle cx="128.5" cy="361.5" r="0.95"/>
<circle cx="130.9" cy="363.4" r="0.95"/>
<circle cx="148.9" cy="331.8" r="0.95"/>
<circle cx="208.4" cy="39.8" r="0.95"/>
<circle cx="149.2" cy="374.5" r="0.95"/>
<circle cx="228.4" cy="39" r="0.95"/>
<circle cx="141.8" cy="343.1" r="0.95"/>
<circle cx="168.9" cy="270.7" r="0.95"/>
<circle cx="125.6" cy="343" r="0.95"/>
<circle cx="183.2" cy="167.6" r="0.95"/>
<circle cx="135.9" cy="375.4" r="0.95"/>
<circle cx="155.2" cy="328.6" r="0.95"/>
<circle cx="182.1" cy="159" r="0.95"/>
<circle cx="143.6" cy="377.3" r="0.95"/>
<circle cx="197.5" cy="47.5" r="0.95"/>
<circle cx="180.1" cy="270.6" r="0.95"/>
<circle cx="182.7" cy="93.7" r="0.95"/>
<circle cx="184.3" cy="84.4" r="0.95"/>
<circle cx="216.9" cy="144.5" r="0.95"/>
<circle cx="122" cy="322.5" r="0.95"/>
<circle cx="198.7" cy="114.2" r="0.95"/>
<circle cx="137" cy="326.2" r="0.95"/>
<circle cx="225.1" cy="61.1" r="0.95"/>
<circle cx="154.5" cy="330.3" r="0.95"/>
<circle cx="173.3" cy="112.9" r="0.95"/>
<circle cx="211.1" cy="127.8" r="0.95"/>
<circle cx="219.7" cy="71.8" r="0.95"/>
<circle cx="139.5" cy="348" r="0.95"/>
<circle cx="203.8" cy="79.6" r="0.95"/>
<circle cx="125" cy="311.7" r="0.95"/>
<circle cx="144.1" cy="381.3" r="0.95"/>
<circle cx="117.3" cy="377.2" r="0.95"/>
<circle cx="121.6" cy="346.3" r="0.95"/>
<circle cx="148.2" cy="341.8" r="0.95"/>
<circle cx="179.6" cy="175.7" r="0.95"/>
<circle cx="154.2" cy="353.7" r="0.95"/>
<circle cx="131" cy="330.7" r="0.95"/>
<circle cx="134" cy="337.1" r="0.95"/>
<circle cx="104.2" cy="320" r="0.95"/>
<circle cx="189.8" cy="96.5" r="0.95"/>
<circle cx="207.2" cy="77" r="0.95"/>
<circle cx="120.7" cy="329.3" r="0.95"/>
<circle cx="224" cy="49.6" r="0.95"/>
<circle cx="213.9" cy="93.1" r="0.95"/>
<circle cx="117.3" cy="375.3" r="0.95"/>
<circle cx="218.6" cy="114.7" r="0.95"/>
<circle cx="188.9" cy="81.1" r="0.95"/>
<circle cx="130.6" cy="257.6" r="0.95"/>
<circle cx="136" cy="363.5" r="0.95"/>
<circle cx="200.9" cy="48.2" r="0.95"/>
<circle cx="135.4" cy="278.8" r="0.95"/>
<circle cx="147" cy="335.9" r="0.95"/>
<circle cx="195.8" cy="50.5" r="0.95"/>
<circle cx="220.5" cy="83.5" r="0.95"/>
<circle cx="143.8" cy="227.8" r="0.95"/>
<circle cx="206.3" cy="86.9" r="0.95"/>
<circle cx="134.4" cy="327.2" r="0.95"/>
<circle cx="191.6" cy="74.8" r="0.95"/>
<circle cx="194" cy="74.6" r="0.95"/>
<circle cx="174.4" cy="123.4" r="0.95"/>
<circle cx="155.4" cy="341.2" r="0.95"/>
<circle cx="155.7" cy="318.6" r="0.95"/>
<circle cx="199.5" cy="170.3" r="0.95"/>
<circle cx="220.7" cy="65.9" r="0.95"/>
<circle cx="200.5" cy="197.9" r="0.95"/>
<circle cx="209.1" cy="49.5" r="0.95"/>
<circle cx="145.4" cy="343.5" r="0.95"/>
<circle cx="196.9" cy="64.6" r="0.95"/>
<circle cx="194.3" cy="43.1" r="0.95"/>
<circle cx="183.1" cy="169.2" r="0.95"/>
<circle cx="197.9" cy="117.2" r="0.95"/>
<circle cx="168.8" cy="219.7" r="0.95"/>
<circle cx="129.5" cy="344.4" r="0.95"/>
<circle cx="219.2" cy="52.1" r="0.95"/>
<circle cx="130.9" cy="367.5" r="0.95"/>
<circle cx="224.8" cy="77.7" r="0.95"/>
<circle cx="142.5" cy="329.4" r="0.95"/>
<circle cx="198.2" cy="61.4" r="0.95"/>
<circle cx="128.7" cy="355.6" r="0.95"/>
<circle cx="153.3" cy="351" r="0.95"/>
<circle cx="153.1" cy="231.6" r="0.95"/>
<circle cx="182.8" cy="118.3" r="0.95"/>
<circle cx="172.6" cy="132.2" r="0.95"/>
<circle cx="114.8" cy="347" r="0.95"/>
<circle cx="205.6" cy="55.5" r="0.95"/>
<circle cx="130" cy="292.8" r="0.95"/>
<circle cx="154.4" cy="310.5" r="0.95"/>
<circle cx="210.9" cy="57.2" r="0.95"/>
<circle cx="98.5" cy="361.9" r="0.95"/>
<circle cx="130.3" cy="321.2" r="0.95"/>
<circle cx="219.6" cy="60.3" r="0.95"/>
<circle cx="235.8" cy="79.5" r="0.95"/>
<circle cx="188.3" cy="117.8" r="0.95"/>
<circle cx="198.3" cy="83.6" r="0.95"/>
<circle cx="160.9" cy="168.2" r="0.95"/>
<circle cx="214.1" cy="152.3" r="0.95"/>
<circle cx="149.9" cy="335.4" r="0.95"/>
<circle cx="185" cy="88.6" r="0.95"/>
<circle cx="173.7" cy="156.2" r="0.95"/>
<circle cx="200.5" cy="108" r="0.95"/>
<circle cx="143.9" cy="255.2" r="0.95"/>
<circle cx="122.3" cy="324" r="0.95"/>
<circle cx="128.4" cy="384.3" r="0.95"/>
<circle cx="136.1" cy="271.9" r="0.95"/>
<circle cx="153.4" cy="312.6" r="0.95"/>
<circle cx="141.2" cy="289.4" r="0.95"/>
<circle cx="130.3" cy="342.8" r="0.95"/>
<circle cx="171" cy="125" r="0.95"/>
<circle cx="194.5" cy="197.7" r="0.95"/>
<circle cx="180.4" cy="191.7" r="0.95"/>
<circle cx="163.4" cy="319.5" r="0.95"/>
<circle cx="205" cy="68.8" r="0.95"/>
<circle cx="220.4" cy="120.4" r="0.95"/>
<circle cx="127.7" cy="374.2" r="0.95"/>
<circle cx="152" cy="248" r="0.95"/>
<circle cx="208.2" cy="83.5" r="0.95"/>
<circle cx="188.1" cy="170.9" r="0.95"/>
<circle cx="152.3" cy="339.5" r="0.95"/>
<circle cx="204.6" cy="77.5" r="0.95"/>
<circle cx="202.7" cy="77.4" r="0.95"/>
<circle cx="189.3" cy="218.1" r="0.95"/>
<circle cx="207.1" cy="45.9" r="0.95"/>
<circle cx="211.4" cy="143.2" r="0.95"/>
<circle cx="148.1" cy="317.4" r="0.95"/>
<circle cx="195.5" cy="204.1" r="0.95"/>
<circle cx="191.5" cy="65" r="0.95"/>
<circle cx="183.1" cy="83.3" r="0.95"/>
<circle cx="161.2" cy="317.3" r="0.95"/>
<circle cx="146.4" cy="340" r="0.95"/>
<circle cx="126.5" cy="381.9" r="0.95"/>
<circle cx="138.5" cy="322.9" r="0.95"/>
<circle cx="153.4" cy="318" r="0.95"/>
<circle cx="138.8" cy="374.6" r="0.95"/>
<circle cx="163.5" cy="153.1" r="0.95"/>
<circle cx="135.8" cy="338.2" r="0.95"/>
<circle cx="193.2" cy="65.2" r="0.95"/>
<circle cx="216.1" cy="80.3" r="0.95"/>
<circle cx="127.2" cy="343.7" r="0.95"/>
<circle cx="144.6" cy="370.5" r="0.95"/>
<circle cx="209.3" cy="169.5" r="0.95"/>
<circle cx="141" cy="335.3" r="0.95"/>
<circle cx="156.4" cy="298" r="0.95"/>
<circle cx="143.7" cy="324.5" r="0.95"/>
<circle cx="129.2" cy="381.3" r="0.95"/>
<circle cx="149" cy="333" r="0.95"/>
<circle cx="215.3" cy="95.6" r="0.95"/>
<circle cx="190.4" cy="72.4" r="0.95"/>
<circle cx="137.8" cy="335.7" r="0.95"/>
<circle cx="122.4" cy="363.5" r="0.95"/>
<circle cx="149.2" cy="306.3" r="0.95"/>
<circle cx="133.6" cy="373.5" r="0.95"/>
<circle cx="195.4" cy="178.4" r="0.95"/>
<circle cx="192.8" cy="82.1" r="0.95"/>
<circle cx="155.8" cy="320" r="0.95"/>
<circle cx="148.1" cy="359.8" r="0.95"/>
<circle cx="138.3" cy="252.5" r="0.95"/>
<circle cx="177" cy="109.5" r="0.95"/>
<circle cx="192" cy="165.8" r="0.95"/>
<circle cx="117.6" cy="333.7" r="0.95"/>
<circle cx="207.5" cy="56.4" r="0.95"/>
<circle cx="187.9" cy="72.9" r="0.95"/>
<circle cx="170.5" cy="155.7" r="0.95"/>
<circle cx="148.5" cy="338" r="0.95"/>
<circle cx="231.7" cy="48.9" r="0.95"/>
<circle cx="159.1" cy="215.3" r="0.95"/>
<circle cx="175.8" cy="178.7" r="0.95"/>
<circle cx="162" cy="326.7" r="0.95"/>
<circle cx="200.1" cy="83.1" r="0.95"/>
<circle cx="144.2" cy="377.8" r="0.95"/>
<circle cx="179.2" cy="108.4" r="0.95"/>
<circle cx="147.8" cy="243.7" r="0.95"/>
<circle cx="148" cy="334.5" r="0.95"/>
<circle cx="198.4" cy="59.6" r="0.95"/>
<circle cx="184.7" cy="78.3" r="0.95"/>
<circle cx="209.6" cy="54.7" r="0.95"/>
<circle cx="139" cy="330.9" r="0.95"/>
<circle cx="231.7" cy="44.4" r="0.95"/>
<circle cx="179.9" cy="138.7" r="0.95"/>
<circle cx="129" cy="325.1" r="0.95"/>
<circle cx="150" cy="342" r="0.95"/>
<circle cx="142.9" cy="336.4" r="0.95"/>
<circle cx="174.4" cy="285.9" r="0.95"/>
<circle cx="200.4" cy="38.6" r="0.95"/>
<circle cx="226.5" cy="47.2" r="0.95"/>
<circle cx="131.4" cy="282.2" r="0.95"/>
<circle cx="127" cy="383.4" r="0.95"/>
<circle cx="146.5" cy="343.5" r="0.95"/>
<circle cx="186.6" cy="173.7" r="0.95"/>
<circle cx="202.4" cy="76.8" r="0.95"/>
<circle cx="191.9" cy="59" r="0.95"/>
<circle cx="107.7" cy="342" r="0.95"/>
<circle cx="146" cy="205" r="0.95"/>
<circle cx="149.3" cy="269" r="0.95"/>
<circle cx="204.2" cy="170.4" r="0.95"/>
<circle cx="190.4" cy="62.6" r="0.95"/>
<circle cx="186.3" cy="180.7" r="0.95"/>
<circle cx="221.1" cy="96.3" r="0.95"/>
<circle cx="180.7" cy="246.5" r="0.95"/>
<circle cx="201.8" cy="40.2" r="0.95"/>
<circle cx="139" cy="384" r="0.95"/>
<circle cx="149.2" cy="269.1" r="0.95"/>
<circle cx="173.3" cy="224.2" r="0.95"/>
<circle cx="165.5" cy="278.2" r="0.95"/>
<circle cx="141.5" cy="382.3" r="0.95"/>
<circle cx="179.5" cy="110.5" r="0.95"/>
<circle cx="196.8" cy="83.5" r="0.95"/>
<circle cx="226.6" cy="43.5" r="0.95"/>
<circle cx="138.3" cy="335.2" r="0.95"/>
<circle cx="123.7" cy="307.6" r="0.95"/>
<circle cx="130.7" cy="348.9" r="0.95"/>
<circle cx="217.8" cy="41.4" r="0.95"/>
<circle cx="211.4" cy="99.2" r="0.95"/>
<circle cx="148.8" cy="373.3" r="0.95"/>
<circle cx="123.2" cy="367.9" r="0.95"/>
<circle cx="202.1" cy="105.2" r="0.95"/>
<circle cx="228.3" cy="48.6" r="0.95"/>
<circle cx="121.3" cy="317.7" r="0.95"/>
<circle cx="135.9" cy="261.2" r="0.95"/>
<circle cx="236.9" cy="73.2" r="0.95"/>
<circle cx="165.3" cy="154.6" r="0.95"/>
<circle cx="115.7" cy="339.3" r="0.95"/>
<circle cx="198.8" cy="174.5" r="0.95"/>
<circle cx="158.4" cy="318.1" r="0.95"/>
<circle cx="165.3" cy="155.2" r="0.95"/>
<circle cx="135" cy="351.4" r="0.95"/>
<circle cx="137.1" cy="291.3" r="0.95"/>
<circle cx="160.7" cy="309.9" r="0.95"/>
<circle cx="101.1" cy="363.2" r="0.95"/>
<circle cx="144.6" cy="321.7" r="0.95"/>
<circle cx="168.5" cy="301.9" r="0.95"/>
<circle cx="120.8" cy="373.4" r="0.95"/>
<circle cx="128.2" cy="368.7" r="0.95"/>
<circle cx="195.2" cy="40.9" r="0.95"/>
<circle cx="196" cy="54.3" r="0.95"/>
<circle cx="186.1" cy="235.9" r="0.95"/>
<circle cx="115.5" cy="365.4" r="0.95"/>
<circle cx="161.3" cy="305.8" r="0.95"/>
<circle cx="184.8" cy="252.8" r="0.95"/>
<circle cx="150.9" cy="289.7" r="0.95"/>
<circle cx="138.7" cy="318.7" r="0.95"/>
<circle cx="130.8" cy="351.2" r="0.95"/>
<circle cx="124.7" cy="362.8" r="0.95"/>
<circle cx="144" cy="380.4" r="0.95"/>
<circle cx="140.7" cy="360.8" r="0.95"/>
<circle cx="127.1" cy="360.3" r="0.95"/>
<circle cx="192" cy="70.6" r="0.95"/>
<circle cx="206.5" cy="70.5" r="0.95"/>
<circle cx="148.6" cy="326.5" r="0.95"/>
<circle cx="213.4" cy="89" r="0.95"/>
<circle cx="212.1" cy="83.7" r="0.95"/>
<circle cx="211.1" cy="127.3" r="0.95"/>
<circle cx="222.9" cy="87.1" r="0.95"/>
<circle cx="200.8" cy="84.4" r="0.95"/>
<circle cx="142.6" cy="308.5" r="0.95"/>
<circle cx="190.3" cy="78.2" r="0.95"/>
<circle cx="196" cy="109.3" r="0.95"/>
<circle cx="139.8" cy="335.9" r="0.95"/>
<circle cx="196.8" cy="37.9" r="0.95"/>
<circle cx="176.5" cy="183.4" r="0.95"/>
<circle cx="206.1" cy="55.8" r="0.95"/>
<circle cx="133.1" cy="248.7" r="0.95"/>
<circle cx="197.7" cy="63.7" r="0.95"/>
<circle cx="134.5" cy="362.3" r="0.95"/>
<circle cx="137.4" cy="339.5" r="0.95"/>
<circle cx="233.3" cy="71.7" r="0.95"/>
<circle cx="206.8" cy="71.4" r="0.95"/>
<circle cx="129.7" cy="326.3" r="0.95"/>
<circle cx="193.9" cy="74.5" r="0.95"/>
<circle cx="134.8" cy="345.6" r="0.95"/>
<circle cx="139.2" cy="348.9" r="0.95"/>
<circle cx="188" cy="173" r="0.95"/>
<circle cx="157.7" cy="319.4" r="0.95"/>
<circle cx="164.2" cy="167.9" r="0.95"/>
<circle cx="167.1" cy="161.9" r="0.95"/>
<circle cx="152.6" cy="307.1" r="0.95"/>
<circle cx="182.6" cy="116.2" r="0.95"/>
<circle cx="148.5" cy="321.8" r="0.95"/>
<circle cx="163.5" cy="165.6" r="0.95"/>
<circle cx="118.7" cy="353.1" r="0.95"/>
<circle cx="127.7" cy="310.6" r="0.95"/>
<circle cx="118.2" cy="357.5" r="0.95"/>
<circle cx="138.8" cy="246.2" r="0.95"/>
<circle cx="168.3" cy="174" r="0.95"/>
<circle cx="194.7" cy="170.6" r="0.95"/>
<circle cx="145.2" cy="239.4" r="0.95"/>
<circle cx="147.4" cy="244.4" r="0.95"/>
<circle cx="153.1" cy="322.6" r="0.95"/>
<circle cx="203.8" cy="54.1" r="0.95"/>
<circle cx="150.1" cy="198.2" r="0.95"/>
<circle cx="201.1" cy="171.5" r="0.95"/>
<circle cx="115.6" cy="347.9" r="0.95"/>
<circle cx="127.7" cy="380.2" r="0.95"/>
<circle cx="141.8" cy="333.7" r="0.95"/>
<circle cx="146.6" cy="327.1" r="0.95"/>
<circle cx="179" cy="167.3" r="0.95"/>
<circle cx="115.7" cy="347.2" r="0.95"/>
<circle cx="182.5" cy="170.9" r="0.95"/>
<circle cx="118.7" cy="344.2" r="0.95"/>
<circle cx="202.8" cy="101.7" r="0.95"/>
<circle cx="185.7" cy="218.4" r="0.95"/>
<circle cx="100" cy="365.2" r="0.95"/>
<circle cx="195.7" cy="51.7" r="0.95"/>
<circle cx="187.4" cy="74.2" r="0.95"/>
<circle cx="229.7" cy="51" r="0.95"/>
<circle cx="128.1" cy="332.1" r="0.95"/>
<circle cx="155" cy="354.1" r="0.95"/>
<circle cx="211.1" cy="43.1" r="0.95"/>
<circle cx="219.8" cy="78.9" r="0.95"/>
<circle cx="157.8" cy="164.7" r="0.95"/>
<circle cx="143.7" cy="374.1" r="0.95"/>
<circle cx="152.7" cy="235.3" r="0.95"/>
<circle cx="168.9" cy="246.7" r="0.95"/>
<circle cx="202.1" cy="80.7" r="0.95"/>
<circle cx="183.5" cy="87.4" r="0.95"/>
<circle cx="188.1" cy="65.5" r="0.95"/>
<circle cx="227.7" cy="54.5" r="0.95"/>
<circle cx="100.7" cy="340.6" r="0.95"/>
<circle cx="232" cy="67.1" r="0.95"/>
<circle cx="160.7" cy="269.1" r="0.95"/>
<circle cx="146.9" cy="378.5" r="0.95"/>
<circle cx="150.5" cy="339.5" r="0.95"/>
<circle cx="184.4" cy="110.1" r="0.95"/>
<circle cx="214.7" cy="92.8" r="0.95"/>
<circle cx="211.8" cy="39.5" r="0.95"/>
<circle cx="226.3" cy="83.1" r="0.95"/>
<circle cx="143.3" cy="315" r="0.95"/>
<circle cx="140.1" cy="367.5" r="0.95"/>
<circle cx="195.7" cy="70.8" r="0.95"/>
<circle cx="128.4" cy="369.4" r="0.95"/>
<circle cx="136.2" cy="372.7" r="0.95"/>
<circle cx="229.1" cy="101.6" r="0.95"/>
<circle cx="206.1" cy="62.5" r="0.95"/>
<circle cx="137" cy="383.4" r="0.95"/>
<circle cx="197.3" cy="130.1" r="0.95"/>
<circle cx="139.1" cy="322.3" r="0.95"/>
<circle cx="155.4" cy="333.9" r="0.95"/>
<circle cx="144.4" cy="308.5" r="0.95"/>
<circle cx="211.5" cy="45.8" r="0.95"/>
<circle cx="171.5" cy="291.1" r="0.95"/>
<circle cx="207.5" cy="153.2" r="0.95"/>
<circle cx="200.5" cy="40.5" r="0.95"/>
<circle cx="199.5" cy="57.2" r="0.95"/>
<circle cx="190.5" cy="81.9" r="0.95"/>
<circle cx="114.5" cy="322.8" r="0.95"/>
<circle cx="146.7" cy="348.1" r="0.95"/>
<circle cx="160.5" cy="337" r="0.95"/>
<circle cx="156.3" cy="336.9" r="0.95"/>
<circle cx="124.1" cy="307.7" r="0.95"/>
<circle cx="225.6" cy="64" r="0.95"/>
<circle cx="196.4" cy="80.2" r="0.95"/>
<circle cx="148.2" cy="368.4" r="0.95"/>
<circle cx="153.8" cy="338.7" r="0.95"/>
<circle cx="130.2" cy="366.7" r="0.95"/>
<circle cx="198.8" cy="172.1" r="0.95"/>
<circle cx="135.9" cy="304.1" r="0.95"/>
<circle cx="238.4" cy="71.5" r="0.95"/>
<circle cx="151.9" cy="357.3" r="0.95"/>
<circle cx="162.7" cy="227.9" r="0.95"/>
<circle cx="130.6" cy="267" r="0.95"/>
<circle cx="148.7" cy="316.9" r="0.95"/>
<circle cx="208.4" cy="174.9" r="0.95"/>
<circle cx="193.5" cy="176.6" r="0.95"/>
<circle cx="136.9" cy="305.4" r="0.95"/>
<circle cx="145.4" cy="309.7" r="0.95"/>
<circle cx="197.4" cy="68.7" r="0.95"/>
<circle cx="220.9" cy="79.5" r="0.95"/>
<circle cx="191.1" cy="68.1" r="0.95"/>
<circle cx="137.8" cy="318.7" r="0.95"/>
<circle cx="198.4" cy="48.6" r="0.95"/>
<circle cx="203.3" cy="89.1" r="0.95"/>
<circle cx="144.7" cy="304.1" r="0.95"/>
<circle cx="190" cy="184.4" r="0.95"/>
<circle cx="147.3" cy="296.3" r="0.95"/>
<circle cx="105.2" cy="363.5" r="0.95"/>
<circle cx="202.2" cy="187" r="0.95"/>
<circle cx="119.8" cy="347.8" r="0.95"/>
<circle cx="204.4" cy="40.2" r="0.95"/>
<circle cx="198.9" cy="79.3" r="0.95"/>
<circle cx="163" cy="326.9" r="0.95"/>
<circle cx="198.8" cy="81.2" r="0.95"/>
<circle cx="88.6" cy="379.3" r="0.95"/>
<circle cx="131.3" cy="319.9" r="0.95"/>
<circle cx="199.8" cy="74.5" r="0.95"/>
<circle cx="139.9" cy="262.2" r="0.95"/>
<circle cx="207.9" cy="80.6" r="0.95"/>
<circle cx="180" cy="92.2" r="0.95"/>
<circle cx="162.4" cy="170" r="0.95"/>
<circle cx="136.1" cy="329.9" r="0.95"/>
<circle cx="212.4" cy="130" r="0.95"/>
<circle cx="162.9" cy="327.3" r="0.95"/>
<circle cx="239" cy="70.7" r="0.95"/>
<circle cx="184.6" cy="72.6" r="0.95"/>
<circle cx="233.9" cy="53.5" r="0.95"/>
<circle cx="139.6" cy="341.1" r="0.95"/>
<circle cx="196.4" cy="80.1" r="0.95"/>
<circle cx="153.1" cy="347.8" r="0.95"/>
<circle cx="189.1" cy="75.7" r="0.95"/>
<circle cx="113.6" cy="346.7" r="0.95"/>
<circle cx="121.4" cy="324.3" r="0.95"/>
<circle cx="143.1" cy="345.4" r="0.95"/>
<circle cx="120.3" cy="320" r="0.95"/>
<circle cx="226.3" cy="109.2" r="0.95"/>
<circle cx="234.5" cy="71.4" r="0.95"/>
<circle cx="138.1" cy="359.4" r="0.95"/>
<circle cx="146.3" cy="316.6" r="0.95"/>
<circle cx="190.9" cy="228.5" r="0.95"/>
<circle cx="136.4" cy="357.8" r="0.95"/>
<circle cx="158.6" cy="337.4" r="0.95"/>
<circle cx="213" cy="56.1" r="0.95"/>
<circle cx="170.5" cy="303.1" r="0.95"/>
<circle cx="175.9" cy="248.9" r="0.95"/>
<circle cx="234" cy="73.2" r="0.95"/>
<circle cx="121.7" cy="366.7" r="0.95"/>
<circle cx="150.3" cy="246.3" r="0.95"/>
<circle cx="221.1" cy="70.5" r="0.95"/>
<circle cx="103.5" cy="347.8" r="0.95"/>
<circle cx="144" cy="305.8" r="0.95"/>
<circle cx="210.8" cy="41.8" r="0.95"/>
<circle cx="221.7" cy="64.1" r="0.95"/>
<circle cx="138.3" cy="273.8" r="0.95"/>
<circle cx="130.1" cy="369.1" r="0.95"/>
<circle cx="216" cy="45.6" r="0.95"/>
<circle cx="124.3" cy="350.7" r="0.95"/>
<circle cx="223.5" cy="77" r="0.95"/>
<circle cx="152.5" cy="300.1" r="0.95"/>
<circle cx="122.2" cy="364.7" r="0.95"/>
<circle cx="171.6" cy="156" r="0.95"/>
<circle cx="211.4" cy="36.6" r="0.95"/>
<circle cx="109.5" cy="315.2" r="0.95"/>
<circle cx="193.3" cy="77.2" r="0.95"/>
<circle cx="224.5" cy="67.1" r="0.95"/>
<circle cx="206.6" cy="56.7" r="0.95"/>
<circle cx="198.3" cy="55.2" r="0.95"/>
<circle cx="203.9" cy="116.4" r="0.95"/>
<circle cx="214.7" cy="42.8" r="0.95"/>
<circle cx="138.9" cy="299.2" r="0.95"/>
<circle cx="204.4" cy="79.4" r="0.95"/>
<circle cx="193.2" cy="76.1" r="0.95"/>
<circle cx="226.4" cy="65.1" r="0.95"/>
<circle cx="152.2" cy="330.9" r="0.95"/>
<circle cx="225.6" cy="74" r="0.95"/>
<circle cx="188.6" cy="82.4" r="0.95"/>
<circle cx="182.8" cy="94.1" r="0.95"/>
<circle cx="156.8" cy="247.2" r="0.95"/>
<circle cx="226.1" cy="66.7" r="0.95"/>
<circle cx="212.5" cy="44.7" r="0.95"/>
<circle cx="184.1" cy="214.3" r="0.95"/>
<circle cx="184.4" cy="80.6" r="0.95"/>
<circle cx="166.1" cy="227.2" r="0.95"/>
<circle cx="122.8" cy="377" r="0.95"/>
<circle cx="203.5" cy="84.7" r="0.95"/>
<circle cx="140.1" cy="384.4" r="0.95"/>
<circle cx="203.3" cy="72.7" r="0.95"/>
<circle cx="193.7" cy="164.2" r="0.95"/>
<circle cx="141.9" cy="333.8" r="0.95"/>
<circle cx="95.5" cy="337.9" r="0.95"/>
<circle cx="126.7" cy="356.4" r="0.95"/>
<circle cx="137.1" cy="311.1" r="0.95"/>
<circle cx="203.5" cy="116.5" r="0.95"/>
<circle cx="180.9" cy="206.5" r="0.95"/>
<circle cx="150.9" cy="279.5" r="0.95"/>
<circle cx="178.7" cy="111.2" r="0.95"/>
<circle cx="117.7" cy="370.1" r="0.95"/>
<circle cx="110.4" cy="304.5" r="0.95"/>
<circle cx="135.7" cy="334.8" r="0.95"/>
<circle cx="187.3" cy="99.2" r="0.95"/>
<circle cx="118" cy="369.9" r="0.95"/>
<circle cx="176.3" cy="209.8" r="0.95"/>
<circle cx="123.4" cy="309.7" r="0.95"/>
<circle cx="210.4" cy="102.7" r="0.95"/>
<circle cx="180.1" cy="173.3" r="0.95"/>
<circle cx="131.4" cy="361.1" r="0.95"/>
<circle cx="159.2" cy="308.8" r="0.95"/>
<circle cx="165" cy="181.2" r="0.95"/>
<circle cx="136.8" cy="349.9" r="0.95"/>
<circle cx="184" cy="233.6" r="0.95"/>
<circle cx="152.3" cy="361.6" r="0.95"/>
<circle cx="128.1" cy="306.8" r="0.95"/>
<circle cx="111.8" cy="353.9" r="0.95"/>
<circle cx="144.6" cy="314.9" r="0.95"/>
<circle cx="205.3" cy="106.5" r="0.95"/>
<circle cx="162.5" cy="321.7" r="0.95"/>
<circle cx="199" cy="177.3" r="0.95"/>
<circle cx="133.4" cy="304.9" r="0.95"/>
<circle cx="224.3" cy="51.3" r="0.95"/>
<circle cx="143.1" cy="326.5" r="0.95"/>
<circle cx="186.7" cy="170.2" r="0.95"/>
<circle cx="158.9" cy="315.1" r="0.95"/>
<circle cx="178.8" cy="168.7" r="0.95"/>
<circle cx="132.5" cy="348.6" r="0.95"/>
<circle cx="147.6" cy="232.4" r="0.95"/>
<circle cx="173.2" cy="185.8" r="0.95"/>
<circle cx="129.3" cy="351.6" r="0.95"/>
<circle cx="139.8" cy="230.5" r="0.95"/>
<circle cx="149.1" cy="271.6" r="0.95"/>
<circle cx="188.3" cy="112.3" r="0.95"/>
<circle cx="147.1" cy="332.5" r="0.95"/>
<circle cx="228.8" cy="73.3" r="0.95"/>
<circle cx="149.1" cy="306.3" r="0.95"/>
<circle cx="118.9" cy="344.3" r="0.95"/>
<circle cx="191.6" cy="56.1" r="0.95"/>
<circle cx="128.6" cy="339.8" r="0.95"/>
<circle cx="198.8" cy="119.8" r="0.95"/>
<circle cx="171.9" cy="222.6" r="0.95"/>
<circle cx="221.1" cy="98.7" r="0.95"/>
<circle cx="207.5" cy="170.4" r="0.95"/>
<circle cx="206.4" cy="65.6" r="0.95"/>
<circle cx="127.1" cy="355.7" r="0.95"/>
<circle cx="187.8" cy="94.9" r="0.95"/>
<circle cx="182.9" cy="208" r="0.95"/>
<circle cx="206.5" cy="76.1" r="0.95"/>
<circle cx="151" cy="346" r="0.95"/>
<circle cx="174.9" cy="178.6" r="0.95"/>
<circle cx="140.7" cy="339.4" r="0.95"/>
<circle cx="193.4" cy="108.9" r="0.95"/>
<circle cx="211" cy="129.5" r="0.95"/>
<circle cx="139.4" cy="317.4" r="0.95"/>
<circle cx="143.3" cy="300.4" r="0.95"/>
<circle cx="190.2" cy="121.5" r="0.95"/>
<circle cx="209.2" cy="51.3" r="0.95"/>
<circle cx="191" cy="124.9" r="0.95"/>
<circle cx="157.2" cy="324.4" r="0.95"/>
<circle cx="154.4" cy="325.8" r="0.95"/>
<circle cx="206.1" cy="145.4" r="0.95"/>
<circle cx="137" cy="364.6" r="0.95"/>
<circle cx="216.6" cy="70.7" r="0.95"/>
<circle cx="139.7" cy="305.7" r="0.95"/>
<circle cx="144.5" cy="217.7" r="0.95"/>
<circle cx="146.1" cy="317.2" r="0.95"/>
<circle cx="121" cy="321.2" r="0.95"/>
<circle cx="126.8" cy="322.9" r="0.95"/>
<circle cx="137.7" cy="365.2" r="0.95"/>
<circle cx="160.7" cy="154.5" r="0.95"/>
<circle cx="213.1" cy="84.1" r="0.95"/>
<circle cx="151.4" cy="269.4" r="0.95"/>
<circle cx="207.8" cy="88.2" r="0.95"/>
<circle cx="216.3" cy="50.2" r="0.95"/>
<circle cx="210.9" cy="49.3" r="0.95"/>
<circle cx="216.7" cy="47.9" r="0.95"/>
<circle cx="209.7" cy="76.7" r="0.95"/>
<circle cx="133.9" cy="354.8" r="0.95"/>
<circle cx="204.2" cy="61.5" r="0.95"/>
<circle cx="223" cy="85.5" r="0.95"/>
<circle cx="133.8" cy="381" r="0.95"/>
<circle cx="190.6" cy="173.6" r="0.95"/>
<circle cx="239" cy="46.3" r="0.95"/>
<circle cx="145.8" cy="378.8" r="0.95"/>
<circle cx="156.9" cy="339.4" r="0.95"/>
<circle cx="209.9" cy="65.7" r="0.95"/>
<circle cx="127" cy="380.2" r="0.95"/>
<circle cx="195.2" cy="60.5" r="0.95"/>
<circle cx="221.4" cy="52.1" r="0.95"/>
<circle cx="148" cy="340.2" r="0.95"/>
<circle cx="187.2" cy="75.4" r="0.95"/>
<circle cx="223.6" cy="98.8" r="0.95"/>
<circle cx="209.2" cy="159.3" r="0.95"/>
<circle cx="189.7" cy="80.5" r="0.95"/>
<circle cx="135.9" cy="368.5" r="0.95"/>
<circle cx="146.5" cy="382.9" r="0.95"/>
<circle cx="122.2" cy="321.1" r="0.95"/>
<circle cx="148.5" cy="222.2" r="0.95"/>
<circle cx="198.3" cy="180.3" r="0.95"/>
<circle cx="131.7" cy="382.8" r="0.95"/>
<circle cx="180.1" cy="225.1" r="0.95"/>
<circle cx="179.9" cy="167.8" r="0.95"/>
<circle cx="185.6" cy="177.1" r="0.95"/>
<circle cx="152.7" cy="245" r="0.95"/>
<circle cx="146" cy="304.6" r="0.95"/>
<circle cx="202.5" cy="119.1" r="0.95"/>
<circle cx="152.4" cy="283.9" r="0.95"/>
<circle cx="148.2" cy="378.1" r="0.95"/>
<circle cx="134.8" cy="359.3" r="0.95"/>
<circle cx="217.6" cy="60.7" r="0.95"/>
<circle cx="161.6" cy="329.5" r="0.95"/>
<circle cx="131.2" cy="384.5" r="0.95"/>
<circle cx="154" cy="224.6" r="0.95"/>
<circle cx="152.4" cy="222.6" r="0.95"/>
<circle cx="127.6" cy="312.4" r="0.95"/>
<circle cx="178.2" cy="191.3" r="0.95"/>
<circle cx="187.1" cy="234" r="0.95"/>
<circle cx="138.9" cy="350.7" r="0.95"/>
<circle cx="154.7" cy="335.5" r="0.95"/>
<circle cx="120.8" cy="331.6" r="0.95"/>
<circle cx="168.4" cy="165.3" r="0.95"/>
<circle cx="137.7" cy="318.5" r="0.95"/>
<circle cx="176.9" cy="172.1" r="0.95"/>
<circle cx="129" cy="356.2" r="0.95"/>
<circle cx="168.5" cy="144.5" r="0.95"/>
<circle cx="191.1" cy="71.9" r="0.95"/>
<circle cx="186.8" cy="170.1" r="0.95"/>
<circle cx="222.9" cy="54.3" r="0.95"/>
<circle cx="131.9" cy="367.8" r="0.95"/>
<circle cx="196.8" cy="180.5" r="0.95"/>
<circle cx="143.8" cy="350.2" r="0.95"/>
<circle cx="178.1" cy="261.5" r="0.95"/>
<circle cx="194.9" cy="88.8" r="0.95"/>
<circle cx="113.6" cy="347" r="0.95"/>
<circle cx="145" cy="358.9" r="0.95"/>
<circle cx="145.3" cy="376.2" r="0.95"/>
<circle cx="141.1" cy="303.7" r="0.95"/>
<circle cx="203.6" cy="115.7" r="0.95"/>
<circle cx="152.3" cy="332.3" r="0.95"/>
<circle cx="126.5" cy="367.2" r="0.95"/>
<circle cx="130.9" cy="372.4" r="0.95"/>
<circle cx="191" cy="170.4" r="0.95"/>
<circle cx="196.8" cy="94.8" r="0.95"/>
<circle cx="222.6" cy="115.4" r="0.95"/>
<circle cx="158.6" cy="218.4" r="0.95"/>
<circle cx="183.3" cy="139.5" r="0.95"/>
<circle cx="184.7" cy="104.6" r="0.95"/>
<circle cx="194.2" cy="76.7" r="0.95"/>
<circle cx="213.3" cy="70.8" r="0.95"/>
<circle cx="151.3" cy="307.2" r="0.95"/>
<circle cx="142.1" cy="353.8" r="0.95"/>
<circle cx="171.4" cy="232.1" r="0.95"/>
<circle cx="138.7" cy="302.7" r="0.95"/>
<circle cx="180.1" cy="174.6" r="0.95"/>
<circle cx="221.9" cy="104.1" r="0.95"/>
<circle cx="112.5" cy="349.6" r="0.95"/>
<circle cx="130.7" cy="304" r="0.95"/>
<circle cx="214.6" cy="76" r="0.95"/>
<circle cx="115.5" cy="360.9" r="0.95"/>
<circle cx="162.1" cy="209.8" r="0.95"/>
<circle cx="143.9" cy="353.1" r="0.95"/>
<circle cx="238.9" cy="68.5" r="0.95"/>
<circle cx="134" cy="312.9" r="0.95"/>
<circle cx="184.9" cy="176.4" r="0.95"/>
<circle cx="190" cy="168.3" r="0.95"/>
<circle cx="138.5" cy="308.4" r="0.95"/>
<circle cx="141.3" cy="337.2" r="0.95"/>
<circle cx="142.5" cy="380.2" r="0.95"/>
<circle cx="171.4" cy="191" r="0.95"/>
<circle cx="144.7" cy="355.9" r="0.95"/>
<circle cx="187.5" cy="204.6" r="0.95"/>
<circle cx="194.2" cy="67.5" r="0.95"/>
<circle cx="168.3" cy="136.7" r="0.95"/>
<circle cx="150.4" cy="328.7" r="0.95"/>
<circle cx="139.1" cy="334.9" r="0.95"/>
<circle cx="162.2" cy="305.9" r="0.95"/>
<circle cx="153.8" cy="359.7" r="0.95"/>
<circle cx="194.7" cy="176.4" r="0.95"/>
<circle cx="97.9" cy="363.1" r="0.95"/>
<circle cx="147.2" cy="382.8" r="0.95"/>
<circle cx="183.3" cy="128.2" r="0.95"/>
<circle cx="191.8" cy="178.4" r="0.95"/>
<circle cx="167.7" cy="164.1" r="0.95"/>
<circle cx="151.3" cy="310" r="0.95"/>
<circle cx="130.8" cy="366.3" r="0.95"/>
<circle cx="161.1" cy="156.2" r="0.95"/>
<circle cx="148.4" cy="204.2" r="0.95"/>
<circle cx="117.6" cy="343.2" r="0.95"/>
<circle cx="215" cy="87.1" r="0.95"/>
<circle cx="225" cy="93.3" r="0.95"/>
<circle cx="156.3" cy="336.8" r="0.95"/>
<circle cx="120.2" cy="346.5" r="0.95"/>
<circle cx="156.1" cy="252" r="0.95"/>
<circle cx="199.2" cy="77.4" r="0.95"/>
<circle cx="130.8" cy="352.7" r="0.95"/>
<circle cx="210.5" cy="41.8" r="0.95"/>
<circle cx="118.7" cy="309.4" r="0.95"/>
<circle cx="210.9" cy="78.5" r="0.95"/>
<circle cx="169.1" cy="233.6" r="0.95"/>
<circle cx="190.2" cy="64.6" r="0.95"/>
<circle cx="233.5" cy="71.5" r="0.95"/>
<circle cx="142.1" cy="358.2" r="0.95"/>
<circle cx="132" cy="276.2" r="0.95"/>
<circle cx="182.7" cy="99.1" r="0.95"/>
<circle cx="116.4" cy="347.7" r="0.95"/>
<circle cx="219.5" cy="39.5" r="0.95"/>
<circle cx="149.2" cy="372.4" r="0.95"/>
<circle cx="208.3" cy="70.1" r="0.95"/>
<circle cx="147.1" cy="379.7" r="0.95"/>
<circle cx="210" cy="71.8" r="0.95"/>
<circle cx="160" cy="158.4" r="0.95"/>
<circle cx="194" cy="65.8" r="0.95"/>
<circle cx="207.5" cy="79.3" r="0.95"/>
<circle cx="218.3" cy="129.1" r="0.95"/>
<circle cx="165.1" cy="319" r="0.95"/>
<circle cx="190" cy="63.5" r="0.95"/>
<circle cx="148.9" cy="244.5" r="0.95"/>
<circle cx="193.1" cy="53.4" r="0.95"/>
<circle cx="193.9" cy="64.3" r="0.95"/>
<circle cx="136.6" cy="355.2" r="0.95"/>
<circle cx="135.7" cy="349" r="0.95"/>
<circle cx="184.3" cy="92.3" r="0.95"/>
<circle cx="187.2" cy="79.2" r="0.95"/>
<circle cx="136.8" cy="370.8" r="0.95"/>
<circle cx="151.7" cy="222.8" r="0.95"/>
<circle cx="161.9" cy="328.1" r="0.95"/>
<circle cx="222.6" cy="69.5" r="0.95"/>
<circle cx="129.7" cy="360.2" r="0.95"/>
<circle cx="138.9" cy="322.9" r="0.95"/>
<circle cx="158.2" cy="170.6" r="0.95"/>
<circle cx="132.4" cy="280.7" r="0.95"/>
<circle cx="192.8" cy="168.4" r="0.95"/>
<circle cx="95.5" cy="383.8" r="0.95"/>
<circle cx="157" cy="321.4" r="0.95"/>
<circle cx="147.2" cy="363.9" r="0.95"/>
<circle cx="225.4" cy="77.5" r="0.95"/>
<circle cx="207.1" cy="161.6" r="0.95"/>
<circle cx="137.8" cy="311.1" r="0.95"/>
<circle cx="107.2" cy="337.7" r="0.95"/>
<circle cx="213.6" cy="75.7" r="0.95"/>
<circle cx="166.6" cy="159.4" r="0.95"/>
<circle cx="162.1" cy="245.8" r="0.95"/>
<circle cx="151.3" cy="299.5" r="0.95"/>
<circle cx="174.6" cy="181.9" r="0.95"/>
<circle cx="181.6" cy="240.3" r="0.95"/>
<circle cx="159.3" cy="168.5" r="0.95"/>
<circle cx="202.5" cy="180" r="0.95"/>
<circle cx="215.7" cy="90.6" r="0.95"/>
<circle cx="141.3" cy="364.8" r="0.95"/>
<circle cx="137.9" cy="322.3" r="0.95"/>
<circle cx="141.4" cy="341.4" r="0.95"/>
<circle cx="191.3" cy="67.6" r="0.95"/>
<circle cx="126.6" cy="382" r="0.95"/>
<circle cx="195.8" cy="134.9" r="0.95"/>
<circle cx="121.4" cy="344.7" r="0.95"/>
<circle cx="208.1" cy="72.1" r="0.95"/>
<circle cx="134.4" cy="336.6" r="0.95"/>
<circle cx="218.1" cy="39.4" r="0.95"/>
<circle cx="142.8" cy="329.5" r="0.95"/>
<circle cx="146.3" cy="378.2" r="0.95"/>
<circle cx="124.8" cy="310.7" r="0.95"/>
<circle cx="157.9" cy="262.9" r="0.95"/>
<circle cx="147.2" cy="303.2" r="0.95"/>
<circle cx="157.9" cy="171.3" r="0.95"/>
<circle cx="144.9" cy="338.2" r="0.95"/>
<circle cx="191.4" cy="104" r="0.95"/>
<circle cx="148.2" cy="356.1" r="0.95"/>
<circle cx="137.3" cy="336.6" r="0.95"/>
<circle cx="204.6" cy="136" r="0.95"/>
<circle cx="193.3" cy="154.6" r="0.95"/>
<circle cx="137.6" cy="271.5" r="0.95"/>
<circle cx="191.1" cy="50.3" r="0.95"/>
<circle cx="148.1" cy="323" r="0.95"/>
<circle cx="122" cy="365.4" r="0.95"/>
<circle cx="148.8" cy="326.9" r="0.95"/>
<circle cx="125.7" cy="377.5" r="0.95"/>
<circle cx="129.6" cy="354.4" r="0.95"/>
<circle cx="196.1" cy="38.1" r="0.95"/>
<circle cx="192.3" cy="119.2" r="0.95"/>
<circle cx="136.9" cy="345.2" r="0.95"/>
<circle cx="135" cy="335.7" r="0.95"/>
<circle cx="183.3" cy="91.2" r="0.95"/>
<circle cx="198.5" cy="74.5" r="0.95"/>
<circle cx="144.3" cy="357.8" r="0.95"/>
<circle cx="135.7" cy="243.8" r="0.95"/>
<circle cx="175" cy="111.9" r="0.95"/>
<circle cx="98.9" cy="340.5" r="0.95"/>
<circle cx="118.8" cy="340.8" r="0.95"/>
<circle cx="138.7" cy="257.3" r="0.95"/>
<circle cx="152.5" cy="316.9" r="0.95"/>
<circle cx="147.6" cy="335.5" r="0.95"/>
<circle cx="153.4" cy="348.7" r="0.95"/>
<circle cx="184.6" cy="178.4" r="0.95"/>
<circle cx="154.2" cy="336.7" r="0.95"/>
<circle cx="203.3" cy="47" r="0.95"/>
<circle cx="173.9" cy="171.2" r="0.95"/>
<circle cx="137.1" cy="281.6" r="0.95"/>
<circle cx="160.7" cy="186.8" r="0.95"/>
<circle cx="151.6" cy="193.1" r="0.95"/>
<circle cx="153.6" cy="347.4" r="0.95"/>
<circle cx="113.8" cy="355" r="0.95"/>
<circle cx="125.1" cy="363.7" r="0.95"/>
<circle cx="189.7" cy="168.4" r="0.95"/>
<circle cx="186.8" cy="68.5" r="0.95"/>
<circle cx="193.9" cy="86.7" r="0.95"/>
<circle cx="202.4" cy="144.7" r="0.95"/>
<circle cx="118.9" cy="361.7" r="0.95"/>
<circle cx="102.6" cy="326" r="0.95"/>
<circle cx="199.9" cy="56.9" r="0.95"/>
<circle cx="191.4" cy="56.6" r="0.95"/>
<circle cx="182.2" cy="232.3" r="0.95"/>
<circle cx="209.8" cy="44.3" r="0.95"/>
<circle cx="156.6" cy="346.3" r="0.95"/>
<circle cx="144.9" cy="322.5" r="0.95"/>
<circle cx="222.7" cy="118.8" r="0.95"/>
<circle cx="200.2" cy="53.6" r="0.95"/>
<circle cx="212.6" cy="73.6" r="0.95"/>
<circle cx="174.6" cy="227.3" r="0.95"/>
<circle cx="193.1" cy="213.1" r="0.95"/>
<circle cx="189.3" cy="113.5" r="0.95"/>
<circle cx="212.8" cy="41.5" r="0.95"/>
<circle cx="189.8" cy="89.2" r="0.95"/>
<circle cx="196.2" cy="173.6" r="0.95"/>
<circle cx="211.3" cy="58.5" r="0.95"/>
<circle cx="117" cy="371.2" r="0.95"/>
<circle cx="214.7" cy="48.2" r="0.95"/>
<circle cx="203.3" cy="76.8" r="0.95"/>
<circle cx="127.9" cy="367.9" r="0.95"/>
<circle cx="146.2" cy="314.2" r="0.95"/>
<circle cx="130" cy="354.3" r="0.95"/>
<circle cx="112.2" cy="354.1" r="0.95"/>
<circle cx="205" cy="75.6" r="0.95"/>
<circle cx="142.3" cy="329.9" r="0.95"/>
<circle cx="136.3" cy="309.4" r="0.95"/>
<circle cx="196.1" cy="62.4" r="0.95"/>
<circle cx="202.7" cy="89.9" r="0.95"/>
<circle cx="150.2" cy="367.4" r="0.95"/>
<circle cx="199.8" cy="174.6" r="0.95"/>
<circle cx="163.4" cy="205.9" r="0.95"/>
<circle cx="181.9" cy="151.3" r="0.95"/>
<circle cx="150.6" cy="354.8" r="0.95"/>
<circle cx="154.4" cy="245.5" r="0.95"/>
<circle cx="143.8" cy="372.5" r="0.95"/>
<circle cx="161.2" cy="163.6" r="0.95"/>
<circle cx="164" cy="162.4" r="0.95"/>
<circle cx="193.4" cy="70.9" r="0.95"/>
<circle cx="112.6" cy="347.8" r="0.95"/>
<circle cx="182.4" cy="87" r="0.95"/>
<circle cx="191.9" cy="178.4" r="0.95"/>
<circle cx="200.3" cy="67.2" r="0.95"/>
<circle cx="158.8" cy="340.7" r="0.95"/>
<circle cx="179.1" cy="221" r="0.95"/>
<circle cx="138.6" cy="364.7" r="0.95"/>
<circle cx="210.2" cy="55.3" r="0.95"/>
<circle cx="151.5" cy="349.6" r="0.95"/>
<circle cx="139.3" cy="310.8" r="0.95"/>
<circle cx="164.6" cy="213.7" r="0.95"/>
<circle cx="220.4" cy="60" r="0.95"/>
<circle cx="198.4" cy="71.8" r="0.95"/>
<circle cx="213.4" cy="127.6" r="0.95"/>
<circle cx="131.4" cy="279.9" r="0.95"/>
<circle cx="221.9" cy="98.6" r="0.95"/>
<circle cx="152.5" cy="304.9" r="0.95"/>
<circle cx="143.5" cy="333.8" r="0.95"/>
<circle cx="148.2" cy="340" r="0.95"/>
<circle cx="190.5" cy="66.2" r="0.95"/>
<circle cx="157.1" cy="274.4" r="0.95"/>
<circle cx="127.7" cy="365.9" r="0.95"/>
<circle cx="142" cy="329.4" r="0.95"/>
<circle cx="151.8" cy="329.9" r="0.95"/>
<circle cx="151.6" cy="322.3" r="0.95"/>
<circle cx="231.2" cy="97.7" r="0.95"/>
<circle cx="163.2" cy="234.6" r="0.95"/>
<circle cx="128.8" cy="340.6" r="0.95"/>
<circle cx="204.6" cy="102.9" r="0.95"/>
<circle cx="219.5" cy="63.5" r="0.95"/>
<circle cx="225.9" cy="62.4" r="0.95"/>
<circle cx="166.3" cy="300" r="0.95"/>
<circle cx="214.6" cy="74.1" r="0.95"/>
<circle cx="213.5" cy="58.7" r="0.95"/>
<circle cx="138.4" cy="365.8" r="0.95"/>
<circle cx="183" cy="173.3" r="0.95"/>
<circle cx="134.8" cy="375.3" r="0.95"/>
<circle cx="183.5" cy="204.6" r="0.95"/>
<circle cx="153.1" cy="331.9" r="0.95"/>
<circle cx="147.3" cy="273.1" r="0.95"/>
<circle cx="195.1" cy="82.1" r="0.95"/>
<circle cx="135.6" cy="358.2" r="0.95"/>
<circle cx="139.6" cy="253.6" r="0.95"/>
<circle cx="158.5" cy="340.7" r="0.95"/>
<circle cx="221.9" cy="88.9" r="0.95"/>
<circle cx="195.8" cy="39.2" r="0.95"/>
<circle cx="140" cy="335.6" r="0.95"/>
<circle cx="146.7" cy="297.2" r="0.95"/>
<circle cx="109.7" cy="355" r="0.95"/>
<circle cx="138.5" cy="366" r="0.95"/>
<circle cx="156.4" cy="316.4" r="0.95"/>
<circle cx="170.1" cy="153.5" r="0.95"/>
<circle cx="226.6" cy="46.5" r="0.95"/>
<circle cx="141.7" cy="329.2" r="0.95"/>
<circle cx="209.3" cy="68" r="0.95"/>
<circle cx="149.1" cy="327.7" r="0.95"/>
<circle cx="145.3" cy="310.6" r="0.95"/>
<circle cx="126.3" cy="337.3" r="0.95"/>
<circle cx="191.4" cy="82.3" r="0.95"/>
<circle cx="186" cy="220.3" r="0.95"/>
<circle cx="143.3" cy="295.7" r="0.95"/>
<circle cx="142.3" cy="356.1" r="0.95"/>
<circle cx="120.8" cy="379.6" r="0.95"/>
<circle cx="121.6" cy="287.7" r="0.95"/>
<circle cx="129.9" cy="346.2" r="0.95"/>
<circle cx="198.5" cy="54" r="0.95"/>
<circle cx="146.7" cy="326.6" r="0.95"/>
<circle cx="203.4" cy="64.1" r="0.95"/>
<circle cx="145.9" cy="334.7" r="0.95"/>
<circle cx="156.2" cy="219.2" r="0.95"/>
<circle cx="164.1" cy="168.6" r="0.95"/>
<circle cx="186.3" cy="70.7" r="0.95"/>
<circle cx="205.3" cy="56.2" r="0.95"/>
<circle cx="198" cy="54.7" r="0.95"/>
<circle cx="130.9" cy="358.3" r="0.95"/>
<circle cx="120.7" cy="383.2" r="0.95"/>
<circle cx="163.2" cy="327.5" r="0.95"/>
<circle cx="193.4" cy="150.5" r="0.95"/>
<circle cx="151.8" cy="346.6" r="0.95"/>
<circle cx="153.6" cy="351.5" r="0.95"/>
<circle cx="190.6" cy="80.3" r="0.95"/>
<circle cx="124.7" cy="372" r="0.95"/>
<circle cx="134.2" cy="383.6" r="0.95"/>
<circle cx="139.5" cy="313.4" r="0.95"/>
<circle cx="219.4" cy="49.4" r="0.95"/>
<circle cx="200.4" cy="171.8" r="0.95"/>
<circle cx="194.7" cy="55.4" r="0.95"/>
<circle cx="154.6" cy="332.4" r="0.95"/>
<circle cx="210.8" cy="100.6" r="0.95"/>
<circle cx="142.8" cy="376.2" r="0.95"/>
<circle cx="199.6" cy="85.6" r="0.95"/>
<circle cx="209.6" cy="53.5" r="0.95"/>
<circle cx="152.6" cy="327.7" r="0.95"/>
<circle cx="150.8" cy="368.6" r="0.95"/>
<circle cx="118.5" cy="309.1" r="0.95"/>
<circle cx="143.9" cy="327.6" r="0.95"/>
<circle cx="234.3" cy="64.7" r="0.95"/>
<circle cx="170.4" cy="231.5" r="0.95"/>
<circle cx="129" cy="317.5" r="0.95"/>
<circle cx="143" cy="325.4" r="0.95"/>
<circle cx="208.7" cy="82.6" r="0.95"/>
<circle cx="143.7" cy="306" r="0.95"/>
<circle cx="165.3" cy="316.9" r="0.95"/>
<circle cx="111.8" cy="381.6" r="0.95"/>
<circle cx="139.3" cy="372.7" r="0.95"/>
<circle cx="169.3" cy="160.9" r="0.95"/>
<circle cx="217" cy="39.2" r="0.95"/>
<circle cx="115.4" cy="341.9" r="0.95"/>
<circle cx="145.9" cy="349.8" r="0.95"/>
<circle cx="201.3" cy="66.8" r="0.95"/>
<circle cx="153" cy="254.2" r="0.95"/>
<circle cx="206.5" cy="63.8" r="0.95"/>
<circle cx="222.7" cy="100.2" r="0.95"/>
<circle cx="168.6" cy="242.5" r="0.95"/>
<circle cx="132.5" cy="325.9" r="0.95"/>
<circle cx="124.2" cy="318" r="0.95"/>
<circle cx="86.7" cy="372.4" r="0.95"/>
<circle cx="164.2" cy="316.6" r="0.95"/>
<circle cx="194.6" cy="62.7" r="0.95"/>
<circle cx="198.3" cy="66" r="0.95"/>
<circle cx="200" cy="177.7" r="0.95"/>
<circle cx="181.8" cy="98.1" r="0.95"/>
<circle cx="143.8" cy="326.3" r="0.95"/>
<circle cx="222.1" cy="118.9" r="0.95"/>
<circle cx="135.4" cy="329.1" r="0.95"/>
<circle cx="213.9" cy="76.5" r="0.95"/>
<circle cx="149.6" cy="331" r="0.95"/>
<circle cx="140.5" cy="354" r="0.95"/>
<circle cx="115.2" cy="359" r="0.95"/>
<circle cx="204.2" cy="65.6" r="0.95"/>
<circle cx="190.7" cy="55.1" r="0.95"/>
<circle cx="189.1" cy="173" r="0.95"/>
<circle cx="134.9" cy="320.8" r="0.95"/>
<circle cx="132.7" cy="365.3" r="0.95"/>
<circle cx="121.6" cy="381.9" r="0.95"/>
<circle cx="143.1" cy="370.6" r="0.95"/>
<circle cx="191.7" cy="141.8" r="0.95"/>
<circle cx="188.4" cy="65.7" r="0.95"/>
<circle cx="206.5" cy="45" r="0.95"/>
<circle cx="152.3" cy="183.2" r="0.95"/>
<circle cx="205.5" cy="169.7" r="0.95"/>
<circle cx="141.9" cy="340.4" r="0.95"/>
<circle cx="213.9" cy="55.9" r="0.95"/>
<circle cx="212.8" cy="88.8" r="0.95"/>
<circle cx="130.1" cy="325.8" r="0.95"/>
<circle cx="191.7" cy="62.8" r="0.95"/>
<circle cx="187.8" cy="84.4" r="0.95"/>
<circle cx="145.7" cy="363.7" r="0.95"/>
<circle cx="150.7" cy="359.5" r="0.95"/>
<circle cx="147.9" cy="325.1" r="0.95"/>
<circle cx="234.5" cy="42.9" r="0.95"/>
<circle cx="157.4" cy="298.1" r="0.95"/>
<circle cx="213.7" cy="91.8" r="0.95"/>
<circle cx="123" cy="382.1" r="0.95"/>
<circle cx="196.3" cy="48.5" r="0.95"/>
<circle cx="191.9" cy="84.3" r="0.95"/>
<circle cx="224.6" cy="78.7" r="0.95"/>
<circle cx="199" cy="91.5" r="0.95"/>
<circle cx="144.4" cy="346.7" r="0.95"/>
<circle cx="144" cy="314.9" r="0.95"/>
<circle cx="200.9" cy="81.5" r="0.95"/>
<circle cx="126.5" cy="381.9" r="0.95"/>
<circle cx="126.2" cy="362.6" r="0.95"/>
<circle cx="218.4" cy="52.1" r="0.95"/>
<circle cx="123.8" cy="374.4" r="0.95"/>
<circle cx="215.3" cy="51.8" r="0.95"/>
<circle cx="142.8" cy="346.6" r="0.95"/>
<circle cx="199.9" cy="77.2" r="0.95"/>
<circle cx="229.3" cy="76" r="0.95"/>
<circle cx="221.1" cy="49.8" r="0.95"/>
<circle cx="169.9" cy="306" r="0.95"/>
<circle cx="156.3" cy="340.9" r="0.95"/>
<circle cx="141.5" cy="321.5" r="0.95"/>
<circle cx="132.8" cy="360.1" r="0.95"/>
<circle cx="115.6" cy="369.9" r="0.95"/>
<circle cx="155.1" cy="352.5" r="0.95"/>
<circle cx="200.9" cy="107.5" r="0.95"/>
<circle cx="182.1" cy="122.6" r="0.95"/>
<circle cx="161.8" cy="320.9" r="0.95"/>
<circle cx="202.6" cy="171.6" r="0.95"/>
<circle cx="174.3" cy="167.5" r="0.95"/>
<circle cx="199.2" cy="45.9" r="0.95"/>
<circle cx="187.7" cy="75.5" r="0.95"/>
<circle cx="189.9" cy="142.1" r="0.95"/>
<circle cx="216.6" cy="110.2" r="0.95"/>
<circle cx="157.1" cy="205.8" r="0.95"/>
<circle cx="147.4" cy="337.8" r="0.95"/>
<circle cx="135.1" cy="313.4" r="0.95"/>
<circle cx="118" cy="351.4" r="0.95"/>
<circle cx="197.1" cy="101.2" r="0.95"/>
<circle cx="162" cy="327.8" r="0.95"/>
<circle cx="119.9" cy="337.5" r="0.95"/>
<circle cx="129.4" cy="322.8" r="0.95"/>
<circle cx="144.8" cy="257.3" r="0.95"/>
<circle cx="165.8" cy="151.4" r="0.95"/>
<circle cx="145.9" cy="331.9" r="0.95"/>
<circle cx="162.3" cy="331.5" r="0.95"/>
<circle cx="146.4" cy="319.1" r="0.95"/>
<circle cx="141.8" cy="343.5" r="0.95"/>
<circle cx="122.2" cy="318.2" r="0.95"/>
<circle cx="138" cy="358" r="0.95"/>
<circle cx="128.6" cy="318.4" r="0.95"/>
<circle cx="120.1" cy="377.3" r="0.95"/>
<circle cx="192.2" cy="97.3" r="0.95"/>
<circle cx="191.9" cy="140.8" r="0.95"/>
<circle cx="216.4" cy="80.9" r="0.95"/>
<circle cx="146.1" cy="315.3" r="0.95"/>
<circle cx="164.5" cy="322.3" r="0.95"/>
<circle cx="153.8" cy="294.4" r="0.95"/>
<circle cx="150.7" cy="319.5" r="0.95"/>
<circle cx="129.2" cy="364.2" r="0.95"/>
<circle cx="197.7" cy="181.2" r="0.95"/>
<circle cx="133.5" cy="318.9" r="0.95"/>
<circle cx="125.4" cy="307.5" r="0.95"/>
<circle cx="214.8" cy="136.7" r="0.95"/>
<circle cx="201.2" cy="64.4" r="0.95"/>
<circle cx="140.8" cy="275.9" r="0.95"/>
<circle cx="154.1" cy="338.6" r="0.95"/>
<circle cx="134" cy="338.6" r="0.95"/>
<circle cx="135.2" cy="349" r="0.95"/>
<circle cx="208.8" cy="70" r="0.95"/>
<circle cx="171.2" cy="155.9" r="0.95"/>
<circle cx="193.8" cy="78.7" r="0.95"/>
<circle cx="203.4" cy="178.1" r="0.95"/>
<circle cx="163.7" cy="307.1" r="0.95"/>
<circle cx="185.5" cy="170.4" r="0.95"/>
<circle cx="215.7" cy="78.2" r="0.95"/>
<circle cx="196.1" cy="192.9" r="0.95"/>
<circle cx="155.7" cy="172.3" r="0.95"/>
<circle cx="228.9" cy="51" r="0.95"/>
<circle cx="146.1" cy="320.8" r="0.95"/>
<circle cx="163.1" cy="211.7" r="0.95"/>
<circle cx="156.8" cy="340.6" r="0.95"/>
<circle cx="128.4" cy="355.8" r="0.95"/>
<circle cx="140.7" cy="311.7" r="0.95"/>
<circle cx="215.8" cy="80.1" r="0.95"/>
<circle cx="214.1" cy="82.1" r="0.95"/>
<circle cx="186.3" cy="218" r="0.95"/>
<circle cx="141.1" cy="330.2" r="0.95"/>
<circle cx="193.4" cy="176.4" r="0.95"/>
<circle cx="196.9" cy="73.1" r="0.95"/>
<circle cx="231.1" cy="46.7" r="0.95"/>
<circle cx="187.6" cy="75.1" r="0.95"/>
<circle cx="150.1" cy="221.3" r="0.95"/>
<circle cx="195.8" cy="71.6" r="0.95"/>
<circle cx="208" cy="53.4" r="0.95"/>
<circle cx="151.6" cy="366" r="0.95"/>
<circle cx="183.5" cy="80.8" r="0.95"/>
<circle cx="203.5" cy="46.6" r="0.95"/>
<circle cx="198.1" cy="171.1" r="0.95"/>
<circle cx="212.2" cy="98.6" r="0.95"/>
<circle cx="156" cy="343.3" r="0.95"/>
<circle cx="204.6" cy="137" r="0.95"/>
<circle cx="163.4" cy="310.7" r="0.95"/>
<circle cx="118.9" cy="371.2" r="0.95"/>
<circle cx="137.5" cy="345.1" r="0.95"/>
<circle cx="147.3" cy="348.7" r="0.95"/>
<circle cx="147.6" cy="375.4" r="0.95"/>
<circle cx="201.8" cy="177.1" r="0.95"/>
<circle cx="159.4" cy="305.1" r="0.95"/>
<circle cx="139.4" cy="364.8" r="0.95"/>
<circle cx="143" cy="340.6" r="0.95"/>
<circle cx="208.2" cy="57.7" r="0.95"/>
<circle cx="147.4" cy="358.8" r="0.95"/>
<circle cx="148.2" cy="340.4" r="0.95"/>
<circle cx="109.4" cy="312.8" r="0.95"/>
<circle cx="149.3" cy="327.9" r="0.95"/>
<circle cx="127.8" cy="368.3" r="0.95"/>
<circle cx="211.9" cy="50.2" r="0.95"/>
<circle cx="130.2" cy="334.4" r="0.95"/>
<circle cx="155.9" cy="352.4" r="0.95"/>
<circle cx="191.1" cy="83.9" r="0.95"/>
<circle cx="138.7" cy="349.3" r="0.95"/>
<circle cx="199.1" cy="90.7" r="0.95"/>
<circle cx="129.2" cy="381.6" r="0.95"/>
<circle cx="139.8" cy="298.2" r="0.95"/>
<circle cx="201.1" cy="48.5" r="0.95"/>
<circle cx="151.9" cy="321.9" r="0.95"/>
<circle cx="200.1" cy="195.9" r="0.95"/>
<circle cx="135.3" cy="361.4" r="0.95"/>
<circle cx="214.4" cy="91.6" r="0.95"/>
<circle cx="214.9" cy="77.5" r="0.95"/>
<circle cx="191.9" cy="128" r="0.95"/>
<circle cx="170.7" cy="153.3" r="0.95"/>
<circle cx="210.9" cy="56" r="0.95"/>
<circle cx="139" cy="366.2" r="0.95"/>
<circle cx="207.7" cy="37.6" r="0.95"/>
<circle cx="194.2" cy="84.6" r="0.95"/>
<circle cx="156.9" cy="349.5" r="0.95"/>
<circle cx="146.1" cy="320.3" r="0.95"/>
<circle cx="228.6" cy="59.9" r="0.95"/>
<circle cx="179.1" cy="163" r="0.95"/>
<circle cx="121.6" cy="314.8" r="0.95"/>
<circle cx="201.8" cy="43.6" r="0.95"/>
<circle cx="127.5" cy="301.7" r="0.95"/>
<circle cx="135.7" cy="371.1" r="0.95"/>
<circle cx="202.5" cy="40.6" r="0.95"/>
<circle cx="205.7" cy="68.4" r="0.95"/>
<circle cx="145.8" cy="350.2" r="0.95"/>
<circle cx="149.6" cy="305" r="0.95"/>
<circle cx="191.3" cy="80.7" r="0.95"/>
<circle cx="212.9" cy="42.8" r="0.95"/>
<circle cx="197.4" cy="55.4" r="0.95"/>
<circle cx="134.8" cy="350.3" r="0.95"/>
<circle cx="101.3" cy="363.8" r="0.95"/>
<circle cx="143.5" cy="373.4" r="0.95"/>
<circle cx="225.2" cy="62.4" r="0.95"/>
<circle cx="142.6" cy="308.3" r="0.95"/>
<circle cx="122.2" cy="364" r="0.95"/>
<circle cx="126" cy="329.9" r="0.95"/>
<circle cx="148.8" cy="333.5" r="0.95"/>
<circle cx="196.5" cy="104.7" r="0.95"/>
<circle cx="148.3" cy="350.2" r="0.95"/>
<circle cx="146.7" cy="326.3" r="0.95"/>
<circle cx="128.9" cy="347" r="0.95"/>
<circle cx="167.8" cy="172.7" r="0.95"/>
<circle cx="211.3" cy="59.4" r="0.95"/>
<circle cx="147" cy="313.8" r="0.95"/>
<circle cx="192.3" cy="180.7" r="0.95"/>
<circle cx="135.9" cy="248.2" r="0.95"/>
<circle cx="175.3" cy="273.7" r="0.95"/>
<circle cx="197.1" cy="54.3" r="0.95"/>
<circle cx="133.8" cy="351" r="0.95"/>
<circle cx="151" cy="337.8" r="0.95"/>
<circle cx="125.6" cy="373" r="0.95"/>
<circle cx="207.7" cy="58.6" r="0.95"/>
<circle cx="194.7" cy="116.4" r="0.95"/>
<circle cx="209.5" cy="168.6" r="0.95"/>
<circle cx="127.2" cy="351.1" r="0.95"/>
<circle cx="148.3" cy="211.8" r="0.95"/>
<circle cx="212.7" cy="50.2" r="0.95"/>
<circle cx="114.5" cy="363.2" r="0.95"/>
<circle cx="131.4" cy="310.8" r="0.95"/>
<circle cx="104.1" cy="334.9" r="0.95"/>
<circle cx="172.5" cy="125.6" r="0.95"/>
<circle cx="118.6" cy="327.6" r="0.95"/>
<circle cx="187" cy="66.4" r="0.95"/>
<circle cx="135.6" cy="332.9" r="0.95"/>
<circle cx="134.2" cy="328.5" r="0.95"/>
<circle cx="193.1" cy="65.7" r="0.95"/>
<circle cx="192" cy="168.5" r="0.95"/>
<circle cx="223.4" cy="111.3" r="0.95"/>
<circle cx="206.6" cy="38.4" r="0.95"/>
<circle cx="231.1" cy="60.3" r="0.95"/>
<circle cx="161.6" cy="164.9" r="0.95"/>
<circle cx="144.3" cy="371.4" r="0.95"/>
<circle cx="158.1" cy="339.5" r="0.95"/>
<circle cx="149.6" cy="356.1" r="0.95"/>
<circle cx="146.8" cy="357.9" r="0.95"/>
<circle cx="192.8" cy="178.2" r="0.95"/>
<circle cx="147.8" cy="328.4" r="0.95"/>
<circle cx="137.9" cy="347.6" r="0.95"/>
<circle cx="168.7" cy="225.3" r="0.95"/>
<circle cx="215.4" cy="51.6" r="0.95"/>
<circle cx="199.3" cy="70.5" r="0.95"/>
<circle cx="202.8" cy="170.5" r="0.95"/>
<circle cx="208" cy="65" r="0.95"/>
<circle cx="148.8" cy="318.2" r="0.95"/>
<circle cx="217.2" cy="104.5" r="0.95"/>
<circle cx="201.3" cy="140" r="0.95"/>
<circle cx="144.8" cy="332.5" r="0.95"/>
<circle cx="133.3" cy="318.6" r="0.95"/>
<circle cx="144.1" cy="349.3" r="0.95"/>
<circle cx="155.6" cy="232.5" r="0.95"/>
<circle cx="123.4" cy="328.8" r="0.95"/>
<circle cx="165.6" cy="315.6" r="0.95"/>
<circle cx="188.2" cy="61.1" r="0.95"/>
<circle cx="150.3" cy="300.8" r="0.95"/>
<circle cx="202.8" cy="68.9" r="0.95"/>
<circle cx="169" cy="208.8" r="0.95"/>
<circle cx="165.2" cy="161.3" r="0.95"/>
<circle cx="195.8" cy="61.9" r="0.95"/>
<circle cx="219.8" cy="69.5" r="0.95"/>
<circle cx="126.4" cy="311.9" r="0.95"/>
<circle cx="181.4" cy="85.7" r="0.95"/>
<circle cx="191.7" cy="53.9" r="0.95"/>
<circle cx="141.2" cy="348.7" r="0.95"/>
<circle cx="131.5" cy="345.9" r="0.95"/>
<circle cx="198.1" cy="76.3" r="0.95"/>
<circle cx="194.3" cy="46.6" r="0.95"/>
<circle cx="189.4" cy="171.5" r="0.95"/>
<circle cx="112.5" cy="356.2" r="0.95"/>
<circle cx="135.7" cy="323.9" r="0.95"/>
<circle cx="173.8" cy="236.4" r="0.95"/>
<circle cx="195.2" cy="61.1" r="0.95"/>
<circle cx="155.9" cy="350.5" r="0.95"/>
<circle cx="145.1" cy="332.9" r="0.95"/>
<circle cx="223.3" cy="84.3" r="0.95"/>
<circle cx="144.2" cy="331.4" r="0.95"/>
<circle cx="221" cy="52.9" r="0.95"/>
<circle cx="123.6" cy="372.2" r="0.95"/>
<circle cx="121.5" cy="324.5" r="0.95"/>
<circle cx="185" cy="72.3" r="0.95"/>
<circle cx="213.4" cy="55.2" r="0.95"/>
<circle cx="133" cy="337.9" r="0.95"/>
<circle cx="163.6" cy="162" r="0.95"/>
<circle cx="146.8" cy="334.7" r="0.95"/>
<circle cx="160.1" cy="263.8" r="0.95"/>
<circle cx="162.1" cy="320.7" r="0.95"/>
<circle cx="129.7" cy="378.6" r="0.95"/>
<circle cx="127.4" cy="365.5" r="0.95"/>
<circle cx="239.6" cy="66.9" r="0.95"/>
<circle cx="208.4" cy="113.3" r="0.95"/>
<circle cx="209.8" cy="60.7" r="0.95"/>
<circle cx="152.5" cy="325.6" r="0.95"/>
<circle cx="130.9" cy="324.1" r="0.95"/>
<circle cx="157.5" cy="164.4" r="0.95"/>
<circle cx="193.7" cy="70.9" r="0.95"/>
<circle cx="132.4" cy="342.5" r="0.95"/>
<circle cx="200" cy="102.7" r="0.95"/>
<circle cx="137.1" cy="337.7" r="0.95"/>
<circle cx="126.8" cy="375.2" r="0.95"/>
<circle cx="177.4" cy="181.6" r="0.95"/>
<circle cx="142.3" cy="347.5" r="0.95"/>
<circle cx="135.9" cy="356.1" r="0.95"/>
<circle cx="220.3" cy="75.2" r="0.95"/>
<circle cx="147.2" cy="377.6" r="0.95"/>
<circle cx="132.3" cy="351.9" r="0.95"/>
<circle cx="196.6" cy="113.1" r="0.95"/>
<circle cx="140" cy="375.5" r="0.95"/>
<circle cx="142.4" cy="380" r="0.95"/>
<circle cx="205.1" cy="75.3" r="0.95"/>
<circle cx="120.1" cy="333.2" r="0.95"/>
<circle cx="234.4" cy="65.2" r="0.95"/>
<circle cx="117.3" cy="374.9" r="0.95"/>
<circle cx="215" cy="52.6" r="0.95"/>
<circle cx="199.6" cy="177.8" r="0.95"/>
<circle cx="168.7" cy="163" r="0.95"/>
<circle cx="158.2" cy="342.9" r="0.95"/>
<circle cx="191.2" cy="175.5" r="0.95"/>
<circle cx="144.3" cy="210.9" r="0.95"/>
<circle cx="171.4" cy="174" r="0.95"/>
<circle cx="146.5" cy="357.2" r="0.95"/>
<circle cx="194.5" cy="64.4" r="0.95"/>
<circle cx="192.1" cy="77.3" r="0.95"/>
<circle cx="165.7" cy="200.7" r="0.95"/>
<circle cx="164.7" cy="321.2" r="0.95"/>
<circle cx="132" cy="275.8" r="0.95"/>
<circle cx="161.5" cy="151.5" r="0.95"/>
<circle cx="139.9" cy="334.8" r="0.95"/>
<circle cx="148.4" cy="358.4" r="0.95"/>
<circle cx="166.6" cy="226.8" r="0.95"/>
<circle cx="201.5" cy="44.6" r="0.95"/>
<circle cx="122.9" cy="364.5" r="0.95"/>
<circle cx="194.6" cy="63.7" r="0.95"/>
<circle cx="198.2" cy="179.1" r="0.95"/>
<circle cx="163.5" cy="258" r="0.95"/>
<circle cx="218.2" cy="98.6" r="0.95"/>
<circle cx="202.4" cy="83.6" r="0.95"/>
<circle cx="160.4" cy="330.8" r="0.95"/>
<circle cx="189.7" cy="81.3" r="0.95"/>
<circle cx="125.7" cy="369.5" r="0.95"/>
<circle cx="195.1" cy="149.6" r="0.95"/>
<circle cx="181.5" cy="170.2" r="0.95"/>
<circle cx="139" cy="364.2" r="0.95"/>
<circle cx="223.5" cy="59.8" r="0.95"/>
<circle cx="186.6" cy="72.7" r="0.95"/>
<circle cx="152.3" cy="350.3" r="0.95"/>
<circle cx="190.8" cy="136.9" r="0.95"/>
<circle cx="216.4" cy="99" r="0.95"/>
<circle cx="199.2" cy="52.2" r="0.95"/>
<circle cx="201.8" cy="62.8" r="0.95"/>
<circle cx="147.8" cy="250.3" r="0.95"/>
<circle cx="142.3" cy="339.3" r="0.95"/>
<circle cx="180.1" cy="144" r="0.95"/>
<circle cx="178.9" cy="146" r="0.95"/>
<circle cx="221.6" cy="117.1" r="0.95"/>
<circle cx="148.1" cy="350.3" r="0.95"/>
<circle cx="135.2" cy="369.1" r="0.95"/>
<circle cx="99.9" cy="353" r="0.95"/>
<circle cx="152" cy="267.8" r="0.95"/>
<circle cx="210" cy="59.4" r="0.95"/>
<circle cx="172.5" cy="259.4" r="0.95"/>
<circle cx="136.2" cy="357.1" r="0.95"/>
<circle cx="193.1" cy="209.2" r="0.95"/>
<circle cx="147" cy="331.1" r="0.95"/>
<circle cx="138.8" cy="360.8" r="0.95"/>
<circle cx="117.7" cy="347.2" r="0.95"/>
<circle cx="150.5" cy="358.2" r="0.95"/>
<circle cx="217.6" cy="85.5" r="0.95"/>
<circle cx="199.2" cy="180.3" r="0.95"/>
<circle cx="213" cy="100.1" r="0.95"/>
<circle cx="194.1" cy="68.1" r="0.95"/>
<circle cx="149.3" cy="335.1" r="0.95"/>
<circle cx="153.9" cy="210.3" r="0.95"/>
<circle cx="211.2" cy="89.5" r="0.95"/>
<circle cx="194.3" cy="215.2" r="0.95"/>
<circle cx="163" cy="327.7" r="0.95"/>
<circle cx="116.3" cy="321" r="0.95"/>
<circle cx="129.5" cy="358.3" r="0.95"/>
<circle cx="123.4" cy="370.9" r="0.95"/>
<circle cx="199.1" cy="45.9" r="0.95"/>
<circle cx="201.7" cy="52.5" r="0.95"/>
<circle cx="130.4" cy="347.5" r="0.95"/>
<circle cx="118" cy="340.8" r="0.95"/>
<circle cx="186.9" cy="182.8" r="0.95"/>
<circle cx="158.7" cy="326.3" r="0.95"/>
<circle cx="120.4" cy="339.3" r="0.95"/>
<circle cx="226.3" cy="50.9" r="0.95"/>
<circle cx="184.1" cy="200.8" r="0.95"/>
<circle cx="117.7" cy="368.8" r="0.95"/>
<circle cx="127.6" cy="373" r="0.95"/>
<circle cx="109" cy="334.2" r="0.95"/>
<circle cx="189.9" cy="135.3" r="0.95"/>
<circle cx="175.8" cy="283.4" r="0.95"/>
<circle cx="131.3" cy="378.8" r="0.95"/>
<circle cx="167.2" cy="239.2" r="0.95"/>
<circle cx="122.6" cy="353.4" r="0.95"/>
<circle cx="226" cy="62.8" r="0.95"/>
<circle cx="239.3" cy="66" r="0.95"/>
<circle cx="190.9" cy="178.6" r="0.95"/>
<circle cx="112.3" cy="343.8" r="0.95"/>
<circle cx="157.6" cy="314.4" r="0.95"/>
<circle cx="131" cy="352.6" r="0.95"/>
<circle cx="235.4" cy="65.2" r="0.95"/>
<circle cx="160.8" cy="335.8" r="0.95"/>
<circle cx="139.4" cy="317.9" r="0.95"/>
<circle cx="215.4" cy="86.1" r="0.95"/>
<circle cx="117.7" cy="361.6" r="0.95"/>
<circle cx="149.5" cy="345.8" r="0.95"/>
<circle cx="128.3" cy="374.4" r="0.95"/>
<circle cx="203.7" cy="48.1" r="0.95"/>
<circle cx="197.1" cy="113.6" r="0.95"/>
<circle cx="203.6" cy="99.3" r="0.95"/>
<circle cx="205.6" cy="75.8" r="0.95"/>
<circle cx="189.1" cy="77.4" r="0.95"/>
<circle cx="160.4" cy="325" r="0.95"/>
<circle cx="225.2" cy="118.2" r="0.95"/>
<circle cx="159" cy="328" r="0.95"/>
<circle cx="125.9" cy="376.1" r="0.95"/>
<circle cx="192.8" cy="75" r="0.95"/>
<circle cx="146" cy="357.5" r="0.95"/>
<circle cx="210.2" cy="40.7" r="0.95"/>
<circle cx="207.9" cy="48.5" r="0.95"/>
<circle cx="132.9" cy="295.4" r="0.95"/>
<circle cx="202.8" cy="42.5" r="0.95"/>
<circle cx="210.8" cy="61.9" r="0.95"/>
<circle cx="212.6" cy="157.9" r="0.95"/>
<circle cx="146.7" cy="369.4" r="0.95"/>
<circle cx="202.3" cy="97" r="0.95"/>
<circle cx="141.7" cy="368.8" r="0.95"/>
<circle cx="210.9" cy="88.8" r="0.95"/>
<circle cx="183.4" cy="76.5" r="0.95"/>
<circle cx="102.9" cy="341.3" r="0.95"/>
<circle cx="125.1" cy="365.9" r="0.95"/>
<circle cx="145.4" cy="318.4" r="0.95"/>
<circle cx="196.6" cy="83.7" r="0.95"/>
<circle cx="163.5" cy="177.2" r="0.95"/>
<circle cx="199.5" cy="69.4" r="0.95"/>
<circle cx="213.9" cy="49.2" r="0.95"/>
<circle cx="210.1" cy="63.6" r="0.95"/>
<circle cx="153.7" cy="288.9" r="0.95"/>
<circle cx="122.8" cy="366.5" r="0.95"/>
<circle cx="187.8" cy="89.2" r="0.95"/>
<circle cx="220.6" cy="50.8" r="0.95"/>
<circle cx="230" cy="93.8" r="0.95"/>
<circle cx="141.4" cy="267.1" r="0.95"/>
<circle cx="197.1" cy="80.9" r="0.95"/>
<circle cx="121.7" cy="348.9" r="0.95"/>
<circle cx="217.1" cy="51" r="0.95"/>
<circle cx="149.2" cy="260.8" r="0.95"/>
<circle cx="154.4" cy="259.9" r="0.95"/>
<circle cx="126.6" cy="383.3" r="0.95"/>
<circle cx="230.8" cy="49.1" r="0.95"/>
<circle cx="111.4" cy="356.5" r="0.95"/>
<circle cx="124.4" cy="360.1" r="0.95"/>
<circle cx="148.6" cy="370.2" r="0.95"/>
<circle cx="127.1" cy="320.9" r="0.95"/>
<circle cx="153.5" cy="248.1" r="0.95"/>
<circle cx="103.6" cy="363.5" r="0.95"/>
<circle cx="204.4" cy="138" r="0.95"/>
<circle cx="200.6" cy="158.1" r="0.95"/>
<circle cx="196.8" cy="168.4" r="0.95"/>
<circle cx="123.8" cy="344.5" r="0.95"/>
<circle cx="161.5" cy="155.4" r="0.95"/>
<circle cx="200.7" cy="85.9" r="0.95"/>
<circle cx="220.8" cy="126.4" r="0.95"/>
<circle cx="125.4" cy="305" r="0.95"/>
<circle cx="162.5" cy="230" r="0.95"/>
<circle cx="140.6" cy="363.6" r="0.95"/>
<circle cx="211.7" cy="66.6" r="0.95"/>
<circle cx="228.5" cy="62.8" r="0.95"/>
<circle cx="170.4" cy="239.6" r="0.95"/>
<circle cx="208" cy="67.3" r="0.95"/>
<circle cx="162.4" cy="325.6" r="0.95"/>
<circle cx="157.2" cy="299" r="0.95"/>
<circle cx="140.8" cy="381.9" r="0.95"/>
<circle cx="138.6" cy="365.4" r="0.95"/>
<circle cx="143.1" cy="361.5" r="0.95"/>
<circle cx="197.5" cy="70.3" r="0.95"/>
<circle cx="220.6" cy="49.9" r="0.95"/>
<circle cx="213.5" cy="66.4" r="0.95"/>
<circle cx="99.8" cy="344.4" r="0.95"/>
<circle cx="235.1" cy="69.6" r="0.95"/>
<circle cx="126.6" cy="379.1" r="0.95"/>
<circle cx="189.6" cy="82.7" r="0.95"/>
<circle cx="162.1" cy="150.8" r="0.95"/>
<circle cx="210.8" cy="76" r="0.95"/>
<circle cx="171.3" cy="149.7" r="0.95"/>
<circle cx="156.7" cy="343.7" r="0.95"/>
<circle cx="183.1" cy="117" r="0.95"/>
<circle cx="127.3" cy="340.6" r="0.95"/>
<circle cx="155.4" cy="326.9" r="0.95"/>
<circle cx="189.5" cy="153.8" r="0.95"/>
<circle cx="147.4" cy="340.9" r="0.95"/>
<circle cx="155.9" cy="351.1" r="0.95"/>
<circle cx="228.2" cy="105.2" r="0.95"/>
<circle cx="119.3" cy="373.4" r="0.95"/>
<circle cx="144.7" cy="310.3" r="0.95"/>
<circle cx="143.9" cy="332.4" r="0.95"/>
<circle cx="142.9" cy="330.8" r="0.95"/>
<circle cx="123.1" cy="314.5" r="0.95"/>
<circle cx="142.6" cy="369" r="0.95"/>
<circle cx="196.4" cy="65.3" r="0.95"/>
<circle cx="189" cy="175.1" r="0.95"/>
<circle cx="148.1" cy="306.7" r="0.95"/>
<circle cx="137.7" cy="327.3" r="0.95"/>
<circle cx="141.8" cy="310.3" r="0.95"/>
<circle cx="132.4" cy="356.9" r="0.95"/>
<circle cx="119.3" cy="359.1" r="0.95"/>
<circle cx="121.6" cy="356.2" r="0.95"/>
<circle cx="234.6" cy="83.8" r="0.95"/>
<circle cx="155" cy="340.9" r="0.95"/>
<circle cx="212.6" cy="129.8" r="0.95"/>
<circle cx="200.6" cy="51.4" r="0.95"/>
<circle cx="192.2" cy="84.3" r="0.95"/>
<circle cx="183.5" cy="171.1" r="0.95"/>
<circle cx="140.3" cy="299.4" r="0.95"/>
<circle cx="205.3" cy="62.8" r="0.95"/>
<circle cx="225.9" cy="97.1" r="0.95"/>
<circle cx="138.5" cy="309.7" r="0.95"/>
<circle cx="147.2" cy="376.3" r="0.95"/>
<circle cx="123.2" cy="352.7" r="0.95"/>
<circle cx="215.5" cy="67.1" r="0.95"/>
<circle cx="142.5" cy="344.2" r="0.95"/>
<circle cx="142.8" cy="315.9" r="0.95"/>
<circle cx="142.8" cy="333.4" r="0.95"/>
<circle cx="145" cy="340.3" r="0.95"/>
<circle cx="149.4" cy="316.5" r="0.95"/>
<circle cx="123.1" cy="368.5" r="0.95"/>
<circle cx="155.5" cy="346" r="0.95"/>
<circle cx="201" cy="53.4" r="0.95"/>
<circle cx="175.9" cy="176.1" r="0.95"/>
<circle cx="213.2" cy="142.7" r="0.95"/>
<circle cx="202.9" cy="82.1" r="0.95"/>
<circle cx="124.6" cy="327.3" r="0.95"/>
<circle cx="210.7" cy="41.3" r="0.95"/>
<circle cx="173" cy="120" r="0.95"/>
<circle cx="149.6" cy="354.8" r="0.95"/>
<circle cx="162.7" cy="243.8" r="0.95"/>
<circle cx="165.9" cy="298.3" r="0.95"/>
<circle cx="135.5" cy="337.7" r="0.95"/>
<circle cx="218.8" cy="38.5" r="0.95"/>
<circle cx="197.9" cy="55.9" r="0.95"/>
<circle cx="195.9" cy="36.3" r="0.95"/>
<circle cx="149.4" cy="324.3" r="0.95"/>
<circle cx="187" cy="70.8" r="0.95"/>
<circle cx="216.9" cy="41.2" r="0.95"/>
<circle cx="171.6" cy="216.7" r="0.95"/>
<circle cx="184.9" cy="81.5" r="0.95"/>
<circle cx="223.8" cy="72.1" r="0.95"/>
<circle cx="201.7" cy="58" r="0.95"/>
<circle cx="154.6" cy="304.9" r="0.95"/>
<circle cx="150.5" cy="315.3" r="0.95"/>
<circle cx="134" cy="312.4" r="0.95"/>
<circle cx="228.8" cy="51.3" r="0.95"/>
<circle cx="217.8" cy="70.5" r="0.95"/>
<circle cx="176.7" cy="171.2" r="0.95"/>
<circle cx="155.5" cy="250.2" r="0.95"/>
<circle cx="130.4" cy="322.1" r="0.95"/>
<circle cx="213.2" cy="78.5" r="0.95"/>
<circle cx="175.1" cy="176.6" r="0.95"/>
<circle cx="122.5" cy="349.9" r="0.95"/>
<circle cx="198.2" cy="75.9" r="0.95"/>
<circle cx="119.4" cy="332.7" r="0.95"/>
<circle cx="114.5" cy="359.5" r="0.95"/>
<circle cx="215.3" cy="77" r="0.95"/>
<circle cx="190.5" cy="172" r="0.95"/>
<circle cx="202" cy="43.4" r="0.95"/>
<circle cx="125.4" cy="337" r="0.95"/>
<circle cx="185.8" cy="70" r="0.95"/>
<circle cx="143.4" cy="313.3" r="0.95"/>
<circle cx="131.7" cy="379.1" r="0.95"/>
<circle cx="204.3" cy="54.3" r="0.95"/>
<circle cx="176.8" cy="185.7" r="0.95"/>
<circle cx="138.7" cy="377.5" r="0.95"/>
<circle cx="137.4" cy="346" r="0.95"/>
<circle cx="210.9" cy="38.9" r="0.95"/>
<circle cx="197.7" cy="171.7" r="0.95"/>
<circle cx="158.3" cy="320.8" r="0.95"/>
<circle cx="104.9" cy="340" r="0.95"/>
<circle cx="141.3" cy="357.8" r="0.95"/>
<circle cx="133.9" cy="323" r="0.95"/>
<circle cx="210.2" cy="106.6" r="0.95"/>
<circle cx="127.2" cy="308.3" r="0.95"/>
<circle cx="168.5" cy="231.3" r="0.95"/>
<circle cx="165.5" cy="305.9" r="0.95"/>
<circle cx="141.9" cy="357.2" r="0.95"/>
<circle cx="148.9" cy="306.8" r="0.95"/>
<circle cx="194.7" cy="91.3" r="0.95"/>
<circle cx="142.4" cy="319" r="0.95"/>
<circle cx="134.8" cy="340.9" r="0.95"/>
<circle cx="148.7" cy="375.9" r="0.95"/>
<circle cx="134.7" cy="379.7" r="0.95"/>
<circle cx="153.2" cy="197" r="0.95"/>
<circle cx="210.8" cy="69.4" r="0.95"/>
<circle cx="162.2" cy="308.9" r="0.95"/>
<circle cx="104.4" cy="347.9" r="0.95"/>
<circle cx="193.8" cy="123.8" r="0.95"/>
<circle cx="149" cy="375.1" r="0.95"/>
<circle cx="174.1" cy="291.4" r="0.95"/>
<circle cx="169.1" cy="275.9" r="0.95"/>
<circle cx="136.7" cy="363.2" r="0.95"/>
<circle cx="131.3" cy="330.9" r="0.95"/>
<circle cx="205.9" cy="164.4" r="0.95"/>
<circle cx="158.3" cy="328.6" r="0.95"/>
<circle cx="158.5" cy="330.1" r="0.95"/>
<circle cx="158.2" cy="331.6" r="0.95"/>
<circle cx="158.2" cy="333.1" r="0.95"/>
<circle cx="157.8" cy="334.5" r="0.95"/>
<circle cx="157.8" cy="336" r="0.95"/>
<circle cx="157.8" cy="337.5" r="0.95"/>
<circle cx="157.4" cy="339" r="0.95"/>
<circle cx="157.4" cy="340.5" r="0.95"/>
<circle cx="157.4" cy="342" r="0.95"/>
<circle cx="157.2" cy="343.5" r="0.95"/>
<circle cx="156.9" cy="345" r="0.95"/>
<circle cx="156.8" cy="346.4" r="0.95"/>
<circle cx="137.2" cy="332.3" r="0.95"/>
<circle cx="136.9" cy="333.8" r="0.95"/>
<circle cx="136.9" cy="335.3" r="0.95"/>
<circle cx="136.7" cy="336.8" r="0.95"/>
<circle cx="136.3" cy="338.2" r="0.95"/>
<circle cx="136.3" cy="339.7" r="0.95"/>
<circle cx="136.1" cy="341.2" r="0.95"/>
<circle cx="136" cy="342.7" r="0.95"/>
<circle cx="145.7" cy="354.3" r="0.95"/>
<circle cx="145.2" cy="355.8" r="0.95"/>
<circle cx="145.1" cy="357.3" r="0.95"/>
<circle cx="145.3" cy="358.8" r="0.95"/>
<circle cx="144.8" cy="360.3" r="0.95"/>
<circle cx="144.9" cy="361.8" r="0.95"/>
<circle cx="144.8" cy="363.3" r="0.95"/>
<circle cx="113.8" cy="353.1" r="0.95"/>
<circle cx="113.6" cy="354.6" r="0.95"/>
<circle cx="113.4" cy="356" r="0.95"/>
<circle cx="113.3" cy="357.5" r="0.95"/>
<circle cx="113.1" cy="359" r="0.95"/>
<circle cx="112.8" cy="360.5" r="0.95"/>
<circle cx="112.9" cy="362" r="0.95"/>
<circle cx="112.7" cy="363.5" r="0.95"/>
<circle cx="112.4" cy="365" r="0.95"/>
<circle cx="112.4" cy="366.5" r="0.95"/>
<circle cx="112.2" cy="367.9" r="0.95"/>
<circle cx="112.1" cy="369.4" r="0.95"/>
<circle cx="148.8" cy="323.9" r="0.95"/>
<circle cx="148.9" cy="325.4" r="0.95"/>
<circle cx="148.8" cy="326.9" r="0.95"/>
<circle cx="148.7" cy="328.3" r="0.95"/>
<circle cx="148.4" cy="329.8" r="0.95"/>
<circle cx="148.2" cy="331.3" r="0.95"/>
<circle cx="148.1" cy="332.8" r="0.95"/>
<circle cx="148" cy="334.3" r="0.95"/>
<circle cx="147.9" cy="335.8" r="0.95"/>
<circle cx="147.5" cy="337.3" r="0.95"/>
<circle cx="147.6" cy="338.8" r="0.95"/>
<circle cx="147.6" cy="340.2" r="0.95"/>
<circle cx="131.3" cy="342.4" r="0.95"/>
<circle cx="131.5" cy="343.9" r="0.95"/>
<circle cx="131.1" cy="345.4" r="0.95"/>
<circle cx="131" cy="346.9" r="0.95"/>
<circle cx="130.8" cy="348.4" r="0.95"/>
<circle cx="130.6" cy="349.9" r="0.95"/>
<circle cx="130.6" cy="351.3" r="0.95"/>
<circle cx="130.5" cy="352.8" r="0.95"/>
<circle cx="130.3" cy="354.3" r="0.95"/>
<circle cx="130" cy="355.8" r="0.95"/>
<circle cx="130.1" cy="357.3" r="0.95"/>
<circle cx="129.9" cy="358.8" r="0.95"/>
<circle cx="129.6" cy="360.3" r="0.95"/>
<circle cx="129.6" cy="361.8" r="0.95"/>
<circle cx="129.7" cy="363.2" r="0.95"/>
<circle cx="129.4" cy="364.7" r="0.95"/>
<circle cx="129.4" cy="366.2" r="0.95"/>
<circle cx="129" cy="367.7" r="0.95"/>
<circle cx="128.8" cy="369.2" r="0.95"/>
<circle cx="128.6" cy="370.7" r="0.95"/>
<circle cx="128.6" cy="372.2" r="0.95"/>
<circle cx="128.7" cy="373.7" r="0.95"/>
<circle cx="128.2" cy="375.1" r="0.95"/>
<circle cx="155.9" cy="310.3" r="0.95"/>
<circle cx="155.6" cy="311.7" r="0.95"/>
<circle cx="155.6" cy="313.2" r="0.95"/>
<circle cx="155.2" cy="314.7" r="0.95"/>
<circle cx="155" cy="316.2" r="0.95"/>
<circle cx="155.1" cy="317.7" r="0.95"/>
<circle cx="154.5" cy="323.8" r="0.95"/>
<circle cx="154.1" cy="325.3" r="0.95"/>
<circle cx="154.3" cy="326.8" r="0.95"/>
<circle cx="153.9" cy="328.3" r="0.95"/>
<circle cx="153.9" cy="329.8" r="0.95"/>
<circle cx="153.7" cy="331.3" r="0.95"/>
<circle cx="153.6" cy="332.7" r="0.95"/>
<circle cx="153.6" cy="334.2" r="0.95"/>
<circle cx="153.2" cy="335.7" r="0.95"/>
<circle cx="153.1" cy="337.2" r="0.95"/>
<circle cx="153" cy="338.7" r="0.95"/>
<circle cx="152.8" cy="340.2" r="0.95"/>
<circle cx="152.8" cy="341.7" r="0.95"/>
<circle cx="152.8" cy="343.2" r="0.95"/>
<circle cx="152.6" cy="344.6" r="0.95"/>
<circle cx="152.4" cy="346.1" r="0.95"/>
<circle cx="152.2" cy="347.6" r="0.95"/>
<circle cx="152.1" cy="349.1" r="0.95"/>
<circle cx="128.8" cy="347.6" r="0.95"/>
<circle cx="128.6" cy="349.1" r="0.95"/>
<circle cx="128.4" cy="350.6" r="0.95"/>
<circle cx="128.2" cy="352.1" r="0.95"/>
<circle cx="128.1" cy="353.6" r="0.95"/>
<circle cx="127.9" cy="355.1" r="0.95"/>
<circle cx="127.9" cy="356.6" r="0.95"/>
<circle cx="127.5" cy="358.1" r="0.95"/>
<circle cx="127.5" cy="359.5" r="0.95"/>
<circle cx="130.9" cy="358.7" r="0.95"/>
<circle cx="130.8" cy="360.2" r="0.95"/>
<circle cx="130.7" cy="361.7" r="0.95"/>
<circle cx="130.3" cy="363.1" r="0.95"/>
<circle cx="130.2" cy="364.6" r="0.95"/>
<circle cx="130" cy="366.1" r="0.95"/>
<circle cx="130.1" cy="367.6" r="0.95"/>
<circle cx="129.9" cy="369.1" r="0.95"/>
<circle cx="126" cy="347.2" r="0.95"/>
<circle cx="125.6" cy="348.7" r="0.95"/>
<circle cx="125.8" cy="350.2" r="0.95"/>
<circle cx="125.4" cy="351.7" r="0.95"/>
<circle cx="125.5" cy="353.2" r="0.95"/>
<circle cx="125.2" cy="354.7" r="0.95"/>
<circle cx="124.9" cy="356.2" r="0.95"/>
<circle cx="125" cy="357.7" r="0.95"/>
<circle cx="124.9" cy="359.1" r="0.95"/>
<circle cx="124.4" cy="360.6" r="0.95"/>
<circle cx="124.4" cy="362.1" r="0.95"/>
<circle cx="126.5" cy="329.3" r="0.95"/>
<circle cx="126.5" cy="330.8" r="0.95"/>
<circle cx="126.2" cy="332.3" r="0.95"/>
<circle cx="126.1" cy="333.8" r="0.95"/>
<circle cx="126" cy="335.2" r="0.95"/>
<circle cx="126" cy="336.7" r="0.95"/>
<circle cx="125.8" cy="338.2" r="0.95"/>
<circle cx="125.5" cy="339.7" r="0.95"/>
<circle cx="125.3" cy="341.2" r="0.95"/>
<circle cx="125.1" cy="342.7" r="0.95"/>
<circle cx="125" cy="344.2" r="0.95"/>
<circle cx="124.8" cy="345.7" r="0.95"/>
<circle cx="124.8" cy="347.1" r="0.95"/>
<circle cx="124.7" cy="348.6" r="0.95"/>
<circle cx="124.4" cy="350.1" r="0.95"/>
<circle cx="135.3" cy="359.1" r="0.95"/>
<circle cx="135.1" cy="360.6" r="0.95"/>
<circle cx="134.9" cy="362.1" r="0.95"/>
<circle cx="134.7" cy="363.6" r="0.95"/>
<circle cx="134.4" cy="365.1" r="0.95"/>
<circle cx="134.7" cy="366.5" r="0.95"/>
<circle cx="134.3" cy="368" r="0.95"/>
<circle cx="134" cy="369.5" r="0.95"/>
<circle cx="134.2" cy="371" r="0.95"/>
<circle cx="134" cy="372.5" r="0.95"/>
<circle cx="133.8" cy="374" r="0.95"/>
<circle cx="133.5" cy="375.5" r="0.95"/>
<circle cx="133.3" cy="377" r="0.95"/>
<circle cx="133.4" cy="378.4" r="0.95"/>
<circle cx="133.1" cy="379.9" r="0.95"/>
<circle cx="133.1" cy="381.4" r="0.95"/>
<circle cx="133" cy="382.9" r="0.95"/>
<circle cx="132.8" cy="384.4" r="0.95"/>
<circle cx="145.5" cy="360.5" r="0.95"/>
<circle cx="145.5" cy="362" r="0.95"/>
<circle cx="145.5" cy="363.5" r="0.95"/>
<circle cx="145.2" cy="365" r="0.95"/>
<circle cx="145.2" cy="366.5" r="0.95"/>
<circle cx="144.8" cy="368" r="0.95"/>
<circle cx="144.8" cy="369.4" r="0.95"/>
<circle cx="144.9" cy="370.9" r="0.95"/>
<circle cx="144.5" cy="372.4" r="0.95"/>
<circle cx="144.2" cy="373.9" r="0.95"/>
<circle cx="144.3" cy="375.4" r="0.95"/>
<circle cx="144" cy="376.9" r="0.95"/>
<circle cx="144" cy="378.4" r="0.95"/>
<circle cx="144" cy="379.9" r="0.95"/>
<circle cx="143.9" cy="381.3" r="0.95"/>
<circle cx="143.7" cy="382.8" r="0.95"/>
<circle cx="143.5" cy="384.3" r="0.95"/>
<circle cx="135.2" cy="345.2" r="0.95"/>
<circle cx="135" cy="346.7" r="0.95"/>
<circle cx="135" cy="348.2" r="0.95"/>
<circle cx="134.6" cy="349.7" r="0.95"/>
<circle cx="134.8" cy="351.2" r="0.95"/>
<circle cx="134.6" cy="352.7" r="0.95"/>
<circle cx="134.4" cy="354.1" r="0.95"/>
<circle cx="134.4" cy="355.6" r="0.95"/>
<circle cx="134.2" cy="357.1" r="0.95"/>
<circle cx="134" cy="358.6" r="0.95"/>
<circle cx="133.9" cy="360.1" r="0.95"/>
<circle cx="133.6" cy="361.6" r="0.95"/>
<circle cx="133.4" cy="363.1" r="0.95"/>
<circle cx="133.6" cy="364.6" r="0.95"/>
<circle cx="133.2" cy="366" r="0.95"/>
<circle cx="151" cy="332.2" r="0.95"/>
<circle cx="150.5" cy="333.7" r="0.95"/>
<circle cx="150.4" cy="335.2" r="0.95"/>
<circle cx="150.4" cy="336.6" r="0.95"/>
<circle cx="150.1" cy="338.1" r="0.95"/>
<circle cx="149.9" cy="339.6" r="0.95"/>
<circle cx="150" cy="341.1" r="0.95"/>
<circle cx="149.7" cy="342.6" r="0.95"/>
<circle cx="149.9" cy="344.1" r="0.95"/>
<circle cx="149.7" cy="345.6" r="0.95"/>
<circle cx="149.3" cy="347.1" r="0.95"/>
<circle cx="149.4" cy="348.5" r="0.95"/>
<circle cx="149.3" cy="350" r="0.95"/>
<circle cx="148.9" cy="351.5" r="0.95"/>
<circle cx="148.7" cy="353" r="0.95"/>
<circle cx="148.6" cy="354.5" r="0.95"/>
<circle cx="148.7" cy="356" r="0.95"/>
<circle cx="148.3" cy="357.5" r="0.95"/>
<circle cx="148.2" cy="359" r="0.95"/>
<circle cx="149.1" cy="335.6" r="0.95"/>
<circle cx="149" cy="337" r="0.95"/>
<circle cx="149" cy="338.5" r="0.95"/>
<circle cx="148.9" cy="340" r="0.95"/>
<circle cx="148.7" cy="341.5" r="0.95"/>
<circle cx="148.7" cy="343" r="0.95"/>
<circle cx="148.6" cy="344.5" r="0.95"/>
<circle cx="148.4" cy="346" r="0.95"/>
<circle cx="148.3" cy="347.5" r="0.95"/>
<circle cx="148" cy="348.9" r="0.95"/>
<circle cx="148" cy="350.4" r="0.95"/>
<circle cx="147.7" cy="351.9" r="0.95"/>
<circle cx="147.8" cy="353.4" r="0.95"/>
<circle cx="147.5" cy="354.9" r="0.95"/>
<circle cx="147.4" cy="356.4" r="0.95"/>
<circle cx="145.2" cy="350.9" r="0.95"/>
<circle cx="145.2" cy="352.4" r="0.95"/>
<circle cx="145.1" cy="353.9" r="0.95"/>
<circle cx="144.9" cy="355.4" r="0.95"/>
<circle cx="144.7" cy="356.9" r="0.95"/>
<circle cx="144.8" cy="358.4" r="0.95"/>
<circle cx="144.4" cy="359.9" r="0.95"/>
<circle cx="144.3" cy="361.3" r="0.95"/>
<circle cx="144.3" cy="362.8" r="0.95"/>
<circle cx="117.6" cy="353.8" r="0.95"/>
<circle cx="117.2" cy="355.2" r="0.95"/>
<circle cx="117.1" cy="356.7" r="0.95"/>
<circle cx="117" cy="358.2" r="0.95"/>
<circle cx="117" cy="359.7" r="0.95"/>
<circle cx="116.7" cy="361.2" r="0.95"/>
<circle cx="116.6" cy="362.7" r="0.95"/>
<circle cx="116.6" cy="364.2" r="0.95"/>
<circle cx="116.3" cy="365.7" r="0.95"/>
<circle cx="116" cy="367.1" r="0.95"/>
<circle cx="116.1" cy="368.6" r="0.95"/>
<circle cx="115.8" cy="370.1" r="0.95"/>
<circle cx="115.8" cy="371.6" r="0.95"/>
<circle cx="150.5" cy="362.6" r="0.95"/>
<circle cx="150.7" cy="364.1" r="0.95"/>
<circle cx="150.3" cy="365.6" r="0.95"/>
<circle cx="150.1" cy="367.1" r="0.95"/>
<circle cx="150.1" cy="368.6" r="0.95"/>
<circle cx="149.8" cy="370.1" r="0.95"/>
<circle cx="149.8" cy="371.6" r="0.95"/>
<circle cx="149.6" cy="373.1" r="0.95"/>
<circle cx="143.9" cy="361.5" r="0.95"/>
<circle cx="143.5" cy="363" r="0.95"/>
<circle cx="143.4" cy="364.5" r="0.95"/>
<circle cx="143.3" cy="365.9" r="0.95"/>
<circle cx="143" cy="367.4" r="0.95"/>
<circle cx="143.1" cy="368.9" r="0.95"/>
<circle cx="142.8" cy="370.4" r="0.95"/>
<circle cx="142.9" cy="371.9" r="0.95"/>
<circle cx="142.5" cy="373.4" r="0.95"/>
<circle cx="142.4" cy="374.9" r="0.95"/>
<circle cx="142.2" cy="376.4" r="0.95"/>
<circle cx="142.3" cy="377.9" r="0.95"/>
<circle cx="142.1" cy="379.3" r="0.95"/>
<circle cx="141.9" cy="380.8" r="0.95"/>
<circle cx="141.8" cy="382.3" r="0.95"/>
<circle cx="141.7" cy="383.8" r="0.95"/>
<circle cx="160.6" cy="316.2" r="0.95"/>
<circle cx="160.5" cy="317.7" r="0.95"/>
<circle cx="160.6" cy="319.1" r="0.95"/>
<circle cx="160.4" cy="320.6" r="0.95"/>
<circle cx="160.1" cy="322.1" r="0.95"/>
<circle cx="160.2" cy="323.6" r="0.95"/>
<circle cx="159.8" cy="325.1" r="0.95"/>
<circle cx="159.6" cy="326.6" r="0.95"/>
<circle cx="159.5" cy="328.1" r="0.95"/>
<circle cx="159.7" cy="329.6" r="0.95"/>
<circle cx="159.5" cy="331" r="0.95"/>
<circle cx="159.3" cy="332.5" r="0.95"/>
<circle cx="159" cy="334" r="0.95"/>
<circle cx="159.1" cy="335.5" r="0.95"/>
<circle cx="158.9" cy="337" r="0.95"/>
<circle cx="118.3" cy="359.5" r="0.95"/>
<circle cx="117.8" cy="361" r="0.95"/>
<circle cx="118" cy="362.5" r="0.95"/>
<circle cx="117.6" cy="364" r="0.95"/>
<circle cx="117.7" cy="365.5" r="0.95"/>
<circle cx="117.5" cy="367" r="0.95"/>
<circle cx="117.1" cy="368.5" r="0.95"/>
<circle cx="117.1" cy="369.9" r="0.95"/>
<circle cx="117" cy="371.4" r="0.95"/>
<circle cx="117" cy="372.9" r="0.95"/>
<circle cx="116.8" cy="374.4" r="0.95"/>
<circle cx="123.6" cy="328.4" r="0.95"/>
<circle cx="123.4" cy="329.9" r="0.95"/>
<circle cx="123.1" cy="331.4" r="0.95"/>
<circle cx="123.3" cy="332.9" r="0.95"/>
<circle cx="122.8" cy="334.3" r="0.95"/>
<circle cx="122.8" cy="335.8" r="0.95"/>
<circle cx="122.7" cy="337.3" r="0.95"/>
<circle cx="122.6" cy="338.8" r="0.95"/>
<circle cx="122.6" cy="340.3" r="0.95"/>
<circle cx="122.4" cy="341.8" r="0.95"/>
<circle cx="122.2" cy="343.3" r="0.95"/>
<circle cx="122.1" cy="344.8" r="0.95"/>
<circle cx="122" cy="346.2" r="0.95"/>
<circle cx="121.6" cy="347.7" r="0.95"/>
<circle cx="121.4" cy="349.2" r="0.95"/>
<circle cx="121.6" cy="350.7" r="0.95"/>
<circle cx="121.4" cy="352.2" r="0.95"/>
<circle cx="121.1" cy="353.7" r="0.95"/>
<circle cx="121.1" cy="355.2" r="0.95"/>
<circle cx="120.9" cy="356.7" r="0.95"/>
<circle cx="120.7" cy="358.1" r="0.95"/>
<circle cx="120.5" cy="359.6" r="0.95"/>
<circle cx="120.6" cy="361.1" r="0.95"/>
<circle cx="138.5" cy="310.2" r="0.95"/>
<circle cx="138.5" cy="311.7" r="0.95"/>
<circle cx="138.1" cy="313.2" r="0.95"/>
<circle cx="137.9" cy="314.7" r="0.95"/>
<circle cx="138.2" cy="316.2" r="0.95"/>
<circle cx="137.8" cy="317.7" r="0.95"/>
<circle cx="137.6" cy="319.1" r="0.95"/>
<circle cx="137.7" cy="320.6" r="0.95"/>
<circle cx="137.4" cy="322.1" r="0.95"/>
<circle cx="137.3" cy="323.6" r="0.95"/>
<circle cx="137.2" cy="325.1" r="0.95"/>
<circle cx="137.1" cy="326.6" r="0.95"/>
<circle cx="136.7" cy="328.1" r="0.95"/>
<circle cx="157.6" cy="336.3" r="0.95"/>
<circle cx="157.4" cy="337.7" r="0.95"/>
<circle cx="157" cy="339.2" r="0.95"/>
<circle cx="157.2" cy="340.7" r="0.95"/>
<circle cx="156.9" cy="342.2" r="0.95"/>
<circle cx="156.8" cy="343.7" r="0.95"/>
<circle cx="156.8" cy="345.2" r="0.95"/>
<circle cx="156.4" cy="346.7" r="0.95"/>
<circle cx="156.3" cy="348.2" r="0.95"/>
<circle cx="156.2" cy="349.6" r="0.95"/>
<circle cx="156.3" cy="351.1" r="0.95"/>
<circle cx="142.8" cy="340.7" r="0.95"/>
<circle cx="142.7" cy="342.2" r="0.95"/>
<circle cx="142.2" cy="343.7" r="0.95"/>
<circle cx="142.4" cy="345.2" r="0.95"/>
<circle cx="142.3" cy="346.7" r="0.95"/>
<circle cx="141.9" cy="348.2" r="0.95"/>
<circle cx="141.6" cy="349.7" r="0.95"/>
<circle cx="141.7" cy="351.2" r="0.95"/>
<circle cx="141.4" cy="352.6" r="0.95"/>
<circle cx="141.2" cy="354.1" r="0.95"/>
<circle cx="141.2" cy="355.6" r="0.95"/>
<circle cx="141.3" cy="357.1" r="0.95"/>
<circle cx="140.8" cy="358.6" r="0.95"/>
<circle cx="140.8" cy="360.1" r="0.95"/>
<circle cx="140.8" cy="361.6" r="0.95"/>
<circle cx="140.6" cy="363.1" r="0.95"/>
<circle cx="140.6" cy="364.5" r="0.95"/>
<circle cx="140.4" cy="366" r="0.95"/>
<circle cx="140" cy="367.5" r="0.95"/>
<circle cx="126" cy="348.7" r="0.95"/>
<circle cx="126" cy="350.2" r="0.95"/>
<circle cx="125.6" cy="351.7" r="0.95"/>
<circle cx="125.6" cy="353.1" r="0.95"/>
<circle cx="125.6" cy="354.6" r="0.95"/>
<circle cx="125.6" cy="356.1" r="0.95"/>
<circle cx="125.2" cy="357.6" r="0.95"/>
<circle cx="124.9" cy="359.1" r="0.95"/>
<circle cx="124.8" cy="360.6" r="0.95"/>
<circle cx="116.8" cy="344.2" r="0.95"/>
<circle cx="116.7" cy="345.7" r="0.95"/>
<circle cx="116.7" cy="347.2" r="0.95"/>
<circle cx="116.3" cy="348.7" r="0.95"/>
<circle cx="116.3" cy="350.2" r="0.95"/>
<circle cx="116.1" cy="351.7" r="0.95"/>
<circle cx="115.9" cy="353.2" r="0.95"/>
<circle cx="115.7" cy="354.7" r="0.95"/>
<circle cx="115.8" cy="356.1" r="0.95"/>
<circle cx="115.6" cy="357.6" r="0.95"/>
<circle cx="115.6" cy="359.1" r="0.95"/>
<circle cx="115.2" cy="360.6" r="0.95"/>
<circle cx="115.1" cy="362.1" r="0.95"/>
<circle cx="115.1" cy="363.6" r="0.95"/>
<circle cx="115" cy="365.1" r="0.95"/>
<circle cx="114.8" cy="366.6" r="0.95"/>
<circle cx="114.8" cy="368" r="0.95"/>
<circle cx="114.5" cy="369.5" r="0.95"/>
<circle cx="142.3" cy="327.5" r="0.95"/>
<circle cx="142.2" cy="329" r="0.95"/>
<circle cx="141.8" cy="330.5" r="0.95"/>
<circle cx="141.9" cy="332" r="0.95"/>
<circle cx="141.7" cy="333.4" r="0.95"/>
<circle cx="141.7" cy="334.9" r="0.95"/>
<circle cx="141.3" cy="336.4" r="0.95"/>
<circle cx="141.3" cy="337.9" r="0.95"/>
<circle cx="141.2" cy="339.4" r="0.95"/>
<circle cx="141.1" cy="340.9" r="0.95"/>
<circle cx="141" cy="342.4" r="0.95"/>
<circle cx="140.7" cy="343.9" r="0.95"/>
<circle cx="140.5" cy="345.3" r="0.95"/>
<circle cx="140.3" cy="346.8" r="0.95"/>
<circle cx="140.4" cy="348.3" r="0.95"/>
<circle cx="140" cy="349.8" r="0.95"/>
<circle cx="140.1" cy="351.3" r="0.95"/>
<circle cx="140" cy="352.8" r="0.95"/>
<circle cx="139.7" cy="354.3" r="0.95"/>
<circle cx="139.7" cy="355.8" r="0.95"/>
<circle cx="139.4" cy="357.2" r="0.95"/>
<circle cx="139.5" cy="358.7" r="0.95"/>
<circle cx="139.6" cy="363.4" r="0.95"/>
<circle cx="139.7" cy="364.9" r="0.95"/>
<circle cx="139.7" cy="366.4" r="0.95"/>
<circle cx="139.5" cy="367.9" r="0.95"/>
<circle cx="139.4" cy="369.3" r="0.95"/>
<circle cx="139" cy="370.8" r="0.95"/>
<circle cx="138.9" cy="372.3" r="0.95"/>
<circle cx="139" cy="373.8" r="0.95"/>
<circle cx="138.7" cy="375.3" r="0.95"/>
<circle cx="138.7" cy="376.8" r="0.95"/>
<circle cx="138.4" cy="378.3" r="0.95"/>
<circle cx="123.2" cy="346.3" r="0.95"/>
<circle cx="123.1" cy="347.8" r="0.95"/>
<circle cx="123" cy="349.3" r="0.95"/>
<circle cx="122.8" cy="350.8" r="0.95"/>
<circle cx="122.6" cy="352.3" r="0.95"/>
<circle cx="122.3" cy="353.8" r="0.95"/>
<circle cx="122.2" cy="355.2" r="0.95"/>
<circle cx="122" cy="356.7" r="0.95"/>
<circle cx="121.9" cy="358.2" r="0.95"/>
<circle cx="121.8" cy="359.7" r="0.95"/>
<circle cx="121.6" cy="361.2" r="0.95"/>
<circle cx="121.7" cy="362.7" r="0.95"/>
<circle cx="121.3" cy="364.2" r="0.95"/>
<circle cx="121.3" cy="365.7" r="0.95"/>
<circle cx="121.1" cy="367.1" r="0.95"/>
<circle cx="120.9" cy="368.6" r="0.95"/>
<circle cx="121" cy="370.1" r="0.95"/>
<circle cx="120.8" cy="371.6" r="0.95"/>
<circle cx="120.8" cy="373.1" r="0.95"/>
<circle cx="145.9" cy="353.9" r="0.95"/>
<circle cx="145.6" cy="355.4" r="0.95"/>
<circle cx="145.3" cy="356.9" r="0.95"/>
<circle cx="145.2" cy="358.4" r="0.95"/>
<circle cx="145.2" cy="359.9" r="0.95"/>
<circle cx="145" cy="361.4" r="0.95"/>
<circle cx="144.7" cy="362.9" r="0.95"/>
<circle cx="144.9" cy="364.4" r="0.95"/>
<circle cx="144.6" cy="365.8" r="0.95"/>
<circle cx="144.2" cy="367.3" r="0.95"/>
<circle cx="144.2" cy="368.8" r="0.95"/>
<circle cx="144.2" cy="370.3" r="0.95"/>
<circle cx="143.9" cy="371.8" r="0.95"/>
<circle cx="143.9" cy="373.3" r="0.95"/>
<circle cx="143.8" cy="374.8" r="0.95"/>
<circle cx="143.8" cy="376.3" r="0.95"/>
<circle cx="143.3" cy="377.7" r="0.95"/>
<circle cx="143.1" cy="379.2" r="0.95"/>
<circle cx="143.1" cy="380.7" r="0.95"/>
<circle cx="143.2" cy="382.2" r="0.95"/>
<circle cx="142.9" cy="383.7" r="0.95"/>
<circle cx="131.5" cy="356.9" r="0.95"/>
<circle cx="131.4" cy="358.4" r="0.95"/>
<circle cx="131.1" cy="359.9" r="0.95"/>
<circle cx="130.9" cy="361.4" r="0.95"/>
<circle cx="130.8" cy="362.9" r="0.95"/>
<circle cx="130.5" cy="364.4" r="0.95"/>
<circle cx="130.5" cy="365.9" r="0.95"/>
<circle cx="130.2" cy="367.3" r="0.95"/>
<circle cx="130.3" cy="368.8" r="0.95"/>
<circle cx="130.1" cy="370.3" r="0.95"/>
<circle cx="129.8" cy="371.8" r="0.95"/>
<circle cx="129.9" cy="373.3" r="0.95"/>
<circle cx="129.7" cy="374.8" r="0.95"/>
<circle cx="129.6" cy="376.3" r="0.95"/>
<circle cx="129.6" cy="377.8" r="0.95"/>
<circle cx="129.5" cy="379.3" r="0.95"/>
<circle cx="129.1" cy="380.7" r="0.95"/>
<circle cx="129.1" cy="382.2" r="0.95"/>
<circle cx="129.1" cy="383.7" r="0.95"/>
<circle cx="161.2" cy="325.5" r="0.95"/>
<circle cx="161.4" cy="327" r="0.95"/>
<circle cx="161.1" cy="328.5" r="0.95"/>
<circle cx="160.8" cy="330" r="0.95"/>
<circle cx="160.9" cy="331.5" r="0.95"/>
<circle cx="160.8" cy="333" r="0.95"/>
<circle cx="160.4" cy="334.5" r="0.95"/>
<circle cx="160.4" cy="335.9" r="0.95"/>
<circle cx="160.2" cy="337.4" r="0.95"/>
<circle cx="144.7" cy="364.3" r="0.95"/>
<circle cx="144.5" cy="365.8" r="0.95"/>
<circle cx="144.4" cy="367.3" r="0.95"/>
<circle cx="144.4" cy="368.7" r="0.95"/>
<circle cx="144.4" cy="370.2" r="0.95"/>
<circle cx="144.2" cy="371.7" r="0.95"/>
<circle cx="144.2" cy="373.2" r="0.95"/>
<circle cx="143.8" cy="374.7" r="0.95"/>
<circle cx="143.7" cy="376.2" r="0.95"/>
<circle cx="143.6" cy="377.7" r="0.95"/>
<circle cx="143.6" cy="379.2" r="0.95"/>
<circle cx="143.4" cy="380.6" r="0.95"/>
<circle cx="143.2" cy="382.1" r="0.95"/>
<circle cx="143" cy="383.6" r="0.95"/>
<circle cx="157.6" cy="335.8" r="0.95"/>
<circle cx="157.5" cy="337.2" r="0.95"/>
<circle cx="157.3" cy="338.7" r="0.95"/>
<circle cx="157" cy="340.2" r="0.95"/>
<circle cx="157" cy="341.7" r="0.95"/>
<circle cx="156.6" cy="343.2" r="0.95"/>
<circle cx="156.5" cy="344.7" r="0.95"/>
<circle cx="139" cy="320.7" r="0.95"/>
<circle cx="138.8" cy="322.2" r="0.95"/>
<circle cx="138.6" cy="323.6" r="0.95"/>
<circle cx="138.6" cy="325.1" r="0.95"/>
<circle cx="138.3" cy="326.6" r="0.95"/>
<circle cx="138.1" cy="328.1" r="0.95"/>
<circle cx="138.2" cy="329.6" r="0.95"/>
<circle cx="138" cy="331.1" r="0.95"/>
<circle cx="137.7" cy="332.6" r="0.95"/>
<circle cx="137.8" cy="334.1" r="0.95"/>
<circle cx="137.4" cy="335.5" r="0.95"/>
<circle cx="137.5" cy="337" r="0.95"/>
<circle cx="137.2" cy="338.5" r="0.95"/>
<circle cx="137.2" cy="340" r="0.95"/>
<circle cx="137.1" cy="341.5" r="0.95"/>
<circle cx="138.2" cy="364.4" r="0.95"/>
<circle cx="138.3" cy="365.9" r="0.95"/>
<circle cx="138.3" cy="367.4" r="0.95"/>
<circle cx="138" cy="368.8" r="0.95"/>
<circle cx="137.7" cy="370.3" r="0.95"/>
<circle cx="137.7" cy="371.8" r="0.95"/>
<circle cx="137.4" cy="373.3" r="0.95"/>
<circle cx="137.4" cy="374.8" r="0.95"/>
<circle cx="137.4" cy="376.3" r="0.95"/>
<circle cx="137" cy="377.8" r="0.95"/>
<circle cx="137.2" cy="379.3" r="0.95"/>
<circle cx="136.9" cy="380.7" r="0.95"/>
<circle cx="150.6" cy="318" r="0.95"/>
<circle cx="150.4" cy="319.5" r="0.95"/>
<circle cx="150.4" cy="321" r="0.95"/>
<circle cx="150.2" cy="322.4" r="0.95"/>
<circle cx="150.1" cy="323.9" r="0.95"/>
<circle cx="149.7" cy="325.4" r="0.95"/>
<circle cx="149.6" cy="326.9" r="0.95"/>
<circle cx="149.4" cy="328.4" r="0.95"/>
<circle cx="149.2" cy="329.9" r="0.95"/>
<circle cx="149.3" cy="331.4" r="0.95"/>
<circle cx="149.1" cy="332.9" r="0.95"/>
<circle cx="148.8" cy="334.4" r="0.95"/>
<circle cx="148.7" cy="335.8" r="0.95"/>
<circle cx="133.2" cy="328.4" r="0.95"/>
<circle cx="132.9" cy="329.9" r="0.95"/>
<circle cx="132.9" cy="331.4" r="0.95"/>
<circle cx="132.7" cy="332.9" r="0.95"/>
<circle cx="132.5" cy="334.4" r="0.95"/>
<circle cx="132.3" cy="335.9" r="0.95"/>
<circle cx="132" cy="337.4" r="0.95"/>
<circle cx="132.1" cy="338.8" r="0.95"/>
<circle cx="131.8" cy="340.3" r="0.95"/>
<circle cx="131.6" cy="341.8" r="0.95"/>
<circle cx="131.6" cy="343.3" r="0.95"/>
<circle cx="131.3" cy="344.8" r="0.95"/>
<circle cx="131.4" cy="346.3" r="0.95"/>
<circle cx="131.2" cy="347.8" r="0.95"/>
<circle cx="130.9" cy="349.3" r="0.95"/>
<circle cx="131.1" cy="350.7" r="0.95"/>
<circle cx="141.8" cy="326.5" r="0.95"/>
<circle cx="141.8" cy="328" r="0.95"/>
<circle cx="141.7" cy="329.4" r="0.95"/>
<circle cx="141.4" cy="330.9" r="0.95"/>
<circle cx="141.3" cy="332.4" r="0.95"/>
<circle cx="141.2" cy="333.9" r="0.95"/>
<circle cx="141.3" cy="335.4" r="0.95"/>
<circle cx="141.1" cy="336.9" r="0.95"/>
<circle cx="141" cy="338.4" r="0.95"/>
<circle cx="140.8" cy="339.9" r="0.95"/>
<circle cx="140.6" cy="341.3" r="0.95"/>
<circle cx="140.4" cy="342.8" r="0.95"/>
<circle cx="140.3" cy="344.3" r="0.95"/>
<circle cx="140.2" cy="345.8" r="0.95"/>
<circle cx="139.9" cy="347.3" r="0.95"/>
<circle cx="140.1" cy="348.8" r="0.95"/>
<circle cx="139.8" cy="350.3" r="0.95"/>
<circle cx="123" cy="356.2" r="0.95"/>
<circle cx="123.1" cy="357.7" r="0.95"/>
<circle cx="123" cy="359.2" r="0.95"/>
<circle cx="122.7" cy="360.7" r="0.95"/>
<circle cx="122.5" cy="362.2" r="0.95"/>
<circle cx="122.2" cy="363.7" r="0.95"/>
<circle cx="122.4" cy="365.2" r="0.95"/>
<circle cx="122.2" cy="366.7" r="0.95"/>
<circle cx="122.2" cy="368.2" r="0.95"/>
<circle cx="122" cy="369.6" r="0.95"/>
<circle cx="121.9" cy="371.1" r="0.95"/>
<circle cx="121.7" cy="372.6" r="0.95"/>
<circle cx="121.6" cy="374.1" r="0.95"/>
<circle cx="121.5" cy="375.6" r="0.95"/>
<circle cx="121.2" cy="377.1" r="0.95"/>
<circle cx="121.3" cy="378.6" r="0.95"/>
<circle cx="121" cy="380.1" r="0.95"/>
<circle cx="120.7" cy="381.5" r="0.95"/>
<circle cx="120.8" cy="383" r="0.95"/>
<circle cx="154.4" cy="323.2" r="0.95"/>
<circle cx="154.5" cy="324.7" r="0.95"/>
<circle cx="154.3" cy="326.2" r="0.95"/>
<circle cx="154.2" cy="327.7" r="0.95"/>
<circle cx="153.8" cy="329.2" r="0.95"/>
<circle cx="153.7" cy="330.7" r="0.95"/>
<circle cx="153.7" cy="332.2" r="0.95"/>
<circle cx="153.5" cy="333.6" r="0.95"/>
<circle cx="153.3" cy="335.1" r="0.95"/>
<circle cx="153.4" cy="336.6" r="0.95"/>
<circle cx="153.2" cy="338.1" r="0.95"/>
<circle cx="152.9" cy="339.6" r="0.95"/>
<circle cx="152.9" cy="341.1" r="0.95"/>
<circle cx="152.6" cy="342.6" r="0.95"/>
<circle cx="156.8" cy="316.1" r="0.95"/>
<circle cx="156.6" cy="317.6" r="0.95"/>
<circle cx="156.7" cy="319.1" r="0.95"/>
<circle cx="156.5" cy="320.6" r="0.95"/>
<circle cx="156.3" cy="322.1" r="0.95"/>
<circle cx="156" cy="323.6" r="0.95"/>
<circle cx="155.8" cy="325.1" r="0.95"/>
<circle cx="155.9" cy="326.5" r="0.95"/>
<circle cx="155.6" cy="328" r="0.95"/>
<circle cx="155.5" cy="329.5" r="0.95"/>
<circle cx="155.4" cy="331" r="0.95"/>
<circle cx="155.2" cy="332.5" r="0.95"/>
<circle cx="155" cy="334" r="0.95"/>
<circle cx="154.9" cy="335.5" r="0.95"/>
<circle cx="154.8" cy="337" r="0.95"/>
<circle cx="154.6" cy="338.4" r="0.95"/>
<circle cx="113.2" cy="351.3" r="0.95"/>
<circle cx="113.3" cy="352.8" r="0.95"/>
<circle cx="113.1" cy="354.3" r="0.95"/>
<circle cx="113" cy="355.8" r="0.95"/>
<circle cx="112.9" cy="357.2" r="0.95"/>
<circle cx="112.6" cy="358.7" r="0.95"/>
<circle cx="112.4" cy="360.2" r="0.95"/>
<circle cx="112.5" cy="361.7" r="0.95"/>
<circle cx="112.3" cy="363.2" r="0.95"/>
<circle cx="112.1" cy="364.7" r="0.95"/>
<circle cx="111.9" cy="366.2" r="0.95"/>
<circle cx="111.8" cy="367.7" r="0.95"/>
<circle cx="111.5" cy="369.1" r="0.95"/>
<circle cx="194.9" cy="51.7" r="0.95"/>
<circle cx="194.5" cy="53.2" r="0.95"/>
<circle cx="194.7" cy="54.7" r="0.95"/>
<circle cx="194.3" cy="56.2" r="0.95"/>
<circle cx="194.2" cy="57.6" r="0.95"/>
<circle cx="194" cy="59.1" r="0.95"/>
<circle cx="193.9" cy="60.6" r="0.95"/>
<circle cx="193.9" cy="62.1" r="0.95"/>
<circle cx="193.8" cy="63.6" r="0.95"/>
<circle cx="193.8" cy="65.1" r="0.95"/>
<circle cx="193.6" cy="66.6" r="0.95"/>
<circle cx="193.5" cy="68.1" r="0.95"/>
<circle cx="198.1" cy="50.4" r="0.95"/>
<circle cx="197.8" cy="51.9" r="0.95"/>
<circle cx="197.9" cy="53.4" r="0.95"/>
<circle cx="197.7" cy="54.9" r="0.95"/>
<circle cx="197.6" cy="56.4" r="0.95"/>
<circle cx="197.5" cy="57.9" r="0.95"/>
<circle cx="197.1" cy="59.3" r="0.95"/>
<circle cx="229" cy="55.9" r="0.95"/>
<circle cx="228.8" cy="57.4" r="0.95"/>
<circle cx="228.5" cy="58.9" r="0.95"/>
<circle cx="228.7" cy="60.3" r="0.95"/>
<circle cx="228.5" cy="61.8" r="0.95"/>
<circle cx="228.2" cy="63.3" r="0.95"/>
<circle cx="228.1" cy="64.8" r="0.95"/>
<circle cx="228" cy="66.3" r="0.95"/>
<circle cx="228" cy="67.8" r="0.95"/>
<circle cx="227.6" cy="69.3" r="0.95"/>
<circle cx="227.4" cy="70.8" r="0.95"/>
<circle cx="227.6" cy="72.2" r="0.95"/>
<circle cx="227.5" cy="73.7" r="0.95"/>
<circle cx="227" cy="75.2" r="0.95"/>
<circle cx="227.1" cy="76.7" r="0.95"/>
<circle cx="191.7" cy="59.8" r="0.95"/>
<circle cx="191.7" cy="61.2" r="0.95"/>
<circle cx="191.6" cy="62.7" r="0.95"/>
<circle cx="191.4" cy="64.2" r="0.95"/>
<circle cx="191.1" cy="65.7" r="0.95"/>
<circle cx="191.1" cy="67.2" r="0.95"/>
<circle cx="190.9" cy="68.7" r="0.95"/>
<circle cx="191" cy="70.2" r="0.95"/>
<circle cx="190.8" cy="71.7" r="0.95"/>
<circle cx="190.7" cy="73.1" r="0.95"/>
<circle cx="212.2" cy="61.1" r="0.95"/>
<circle cx="212.2" cy="62.6" r="0.95"/>
<circle cx="211.8" cy="64.1" r="0.95"/>
<circle cx="211.9" cy="65.6" r="0.95"/>
<circle cx="211.7" cy="67.1" r="0.95"/>
<circle cx="211.3" cy="68.5" r="0.95"/>
<circle cx="211.5" cy="70" r="0.95"/>
<circle cx="211.3" cy="71.5" r="0.95"/>
<circle cx="211" cy="73" r="0.95"/>
<circle cx="232.2" cy="60.5" r="0.95"/>
<circle cx="231.9" cy="62" r="0.95"/>
<circle cx="231.9" cy="63.5" r="0.95"/>
<circle cx="231.9" cy="64.9" r="0.95"/>
<circle cx="231.8" cy="66.4" r="0.95"/>
<circle cx="231.5" cy="67.9" r="0.95"/>
<circle cx="231.5" cy="69.4" r="0.95"/>
<circle cx="231.1" cy="70.9" r="0.95"/>
<circle cx="231" cy="72.4" r="0.95"/>
<circle cx="231.1" cy="73.9" r="0.95"/>
<circle cx="230.9" cy="75.4" r="0.95"/>
<circle cx="230.6" cy="76.9" r="0.95"/>
<circle cx="230.7" cy="78.3" r="0.95"/>
<circle cx="230.5" cy="79.8" r="0.95"/>
<circle cx="220" cy="67.8" r="0.95"/>
<circle cx="219.8" cy="69.3" r="0.95"/>
<circle cx="219.7" cy="70.7" r="0.95"/>
<circle cx="219.7" cy="72.2" r="0.95"/>
<circle cx="219.6" cy="73.7" r="0.95"/>
<circle cx="219.5" cy="75.2" r="0.95"/>
<circle cx="219.2" cy="76.7" r="0.95"/>
<circle cx="219" cy="78.2" r="0.95"/>
<circle cx="218.9" cy="79.7" r="0.95"/>
<circle cx="218.8" cy="81.2" r="0.95"/>
<circle cx="218.5" cy="82.6" r="0.95"/>
<circle cx="218.5" cy="84.1" r="0.95"/>
<circle cx="218.2" cy="85.6" r="0.95"/>
<circle cx="218.1" cy="87.1" r="0.95"/>
<circle cx="218.1" cy="88.6" r="0.95"/>
<circle cx="227" cy="64.1" r="0.95"/>
<circle cx="227" cy="65.6" r="0.95"/>
<circle cx="226.8" cy="67.1" r="0.95"/>
<circle cx="226.9" cy="68.6" r="0.95"/>
<circle cx="226.4" cy="70.1" r="0.95"/>
<circle cx="226.4" cy="71.6" r="0.95"/>
<circle cx="226.2" cy="73.1" r="0.95"/>
<circle cx="226.2" cy="74.5" r="0.95"/>
<circle cx="226.1" cy="76" r="0.95"/>
<circle cx="225.9" cy="77.5" r="0.95"/>
<circle cx="225.6" cy="79" r="0.95"/>
<circle cx="234.3" cy="48.1" r="0.95"/>
<circle cx="234.1" cy="49.6" r="0.95"/>
<circle cx="234" cy="51" r="0.95"/>
<circle cx="233.8" cy="52.5" r="0.95"/>
<circle cx="234" cy="54" r="0.95"/>
<circle cx="233.7" cy="55.5" r="0.95"/>
<circle cx="233.5" cy="57" r="0.95"/>
<circle cx="233.5" cy="58.5" r="0.95"/>
<circle cx="233.1" cy="60" r="0.95"/>
<circle cx="233.2" cy="61.5" r="0.95"/>
<circle cx="219.1" cy="64.5" r="0.95"/>
<circle cx="219.2" cy="66" r="0.95"/>
<circle cx="219" cy="67.5" r="0.95"/>
<circle cx="218.8" cy="69" r="0.95"/>
<circle cx="218.8" cy="70.5" r="0.95"/>
<circle cx="218.6" cy="72" r="0.95"/>
<circle cx="218.4" cy="73.5" r="0.95"/>
<circle cx="218.2" cy="75" r="0.95"/>
<circle cx="218.3" cy="76.4" r="0.95"/>
<circle cx="218" cy="77.9" r="0.95"/>
<circle cx="217.8" cy="79.4" r="0.95"/>
<circle cx="217.7" cy="80.9" r="0.95"/>
<circle cx="217.7" cy="82.4" r="0.95"/>
<circle cx="201.1" cy="48.3" r="0.95"/>
<circle cx="200.9" cy="49.8" r="0.95"/>
<circle cx="200.8" cy="51.3" r="0.95"/>
<circle cx="200.6" cy="52.8" r="0.95"/>
<circle cx="200.7" cy="54.3" r="0.95"/>
<circle cx="200.6" cy="55.8" r="0.95"/>
<circle cx="200.4" cy="57.3" r="0.95"/>
<circle cx="200.2" cy="58.8" r="0.95"/>
<circle cx="199.8" cy="60.2" r="0.95"/>
<circle cx="199.7" cy="61.7" r="0.95"/>
<circle cx="199.6" cy="63.2" r="0.95"/>
<circle cx="199.7" cy="64.7" r="0.95"/>
<circle cx="199.4" cy="66.2" r="0.95"/>
<circle cx="216.3" cy="55.2" r="0.95"/>
<circle cx="216" cy="56.7" r="0.95"/>
<circle cx="216.2" cy="58.2" r="0.95"/>
<circle cx="215.8" cy="59.7" r="0.95"/>
<circle cx="215.8" cy="61.2" r="0.95"/>
<circle cx="215.6" cy="62.7" r="0.95"/>
<circle cx="215.6" cy="64.1" r="0.95"/>
<circle cx="215.4" cy="65.6" r="0.95"/>
<circle cx="215.4" cy="67.1" r="0.95"/>
<circle cx="215.1" cy="68.6" r="0.95"/>
<circle cx="214.9" cy="70.1" r="0.95"/>
<circle cx="214.6" cy="71.6" r="0.95"/>
<circle cx="214.5" cy="73.1" r="0.95"/>
<circle cx="214.4" cy="74.6" r="0.95"/>
<circle cx="214.3" cy="76" r="0.95"/>
<circle cx="214.1" cy="77.5" r="0.95"/>
<circle cx="214.1" cy="79" r="0.95"/>
<circle cx="228.5" cy="54.8" r="0.95"/>
<circle cx="228.4" cy="56.3" r="0.95"/>
<circle cx="228.3" cy="57.8" r="0.95"/>
<circle cx="228" cy="59.3" r="0.95"/>
<circle cx="228.1" cy="60.8" r="0.95"/>
<circle cx="227.9" cy="62.3" r="0.95"/>
<circle cx="227.7" cy="63.7" r="0.95"/>
<circle cx="227.8" cy="65.2" r="0.95"/>
<circle cx="227.6" cy="66.7" r="0.95"/>
<circle cx="227.4" cy="68.2" r="0.95"/>
<circle cx="227.2" cy="69.7" r="0.95"/>
<circle cx="227.1" cy="71.2" r="0.95"/>
<circle cx="227" cy="72.7" r="0.95"/>
<circle cx="227" cy="74.2" r="0.95"/>
<circle cx="218.4" cy="44.2" r="0.95"/>
<circle cx="218.2" cy="45.7" r="0.95"/>
<circle cx="218.2" cy="47.2" r="0.95"/>
<circle cx="218" cy="48.7" r="0.95"/>
<circle cx="217.8" cy="50.2" r="0.95"/>
<circle cx="217.7" cy="51.7" r="0.95"/>
<circle cx="217.7" cy="53.2" r="0.95"/>
<circle cx="217.6" cy="54.7" r="0.95"/>
<circle cx="217.5" cy="56.1" r="0.95"/>
<circle cx="217.2" cy="57.6" r="0.95"/>
<circle cx="216.8" cy="59.1" r="0.95"/>
<circle cx="217" cy="60.6" r="0.95"/>
<circle cx="216.6" cy="62.1" r="0.95"/>
<circle cx="216.8" cy="63.6" r="0.95"/>
<circle cx="216.4" cy="65.1" r="0.95"/>
<circle cx="209.6" cy="46.9" r="0.95"/>
<circle cx="209.5" cy="48.4" r="0.95"/>
<circle cx="209.1" cy="49.9" r="0.95"/>
<circle cx="209.2" cy="51.4" r="0.95"/>
<circle cx="208.8" cy="52.9" r="0.95"/>
<circle cx="208.8" cy="54.3" r="0.95"/>
<circle cx="208.6" cy="55.8" r="0.95"/>
<circle cx="208.3" cy="57.3" r="0.95"/>
<circle cx="208.4" cy="58.8" r="0.95"/>
<circle cx="208.1" cy="60.3" r="0.95"/>
<circle cx="207.9" cy="61.8" r="0.95"/>
<circle cx="207.7" cy="63.3" r="0.95"/>
<circle cx="207.8" cy="64.8" r="0.95"/>
<circle cx="207.5" cy="66.2" r="0.95"/>
<circle cx="218.3" cy="56.7" r="0.95"/>
<circle cx="218.3" cy="58.2" r="0.95"/>
<circle cx="218.2" cy="59.7" r="0.95"/>
<circle cx="218" cy="61.2" r="0.95"/>
<circle cx="217.7" cy="62.6" r="0.95"/>
<circle cx="217.8" cy="64.1" r="0.95"/>
<circle cx="217.5" cy="65.6" r="0.95"/>
<circle cx="217.3" cy="67.1" r="0.95"/>
<circle cx="217.2" cy="68.6" r="0.95"/>
<circle cx="217" cy="70.1" r="0.95"/>
<circle cx="217" cy="71.6" r="0.95"/>
<circle cx="217" cy="73.1" r="0.95"/>
<circle cx="216.6" cy="74.6" r="0.95"/>
<circle cx="212.9" cy="39" r="0.95"/>
<circle cx="212.8" cy="40.5" r="0.95"/>
<circle cx="212.6" cy="41.9" r="0.95"/>
<circle cx="212.7" cy="43.4" r="0.95"/>
<circle cx="212.2" cy="44.9" r="0.95"/>
<circle cx="212.1" cy="46.4" r="0.95"/>
<circle cx="212" cy="47.9" r="0.95"/>
<circle cx="194.3" cy="43.6" r="0.95"/>
<circle cx="194" cy="45.1" r="0.95"/>
<circle cx="193.8" cy="46.6" r="0.95"/>
<circle cx="193.8" cy="48" r="0.95"/>
<circle cx="193.9" cy="49.5" r="0.95"/>
<circle cx="193.6" cy="51" r="0.95"/>
<circle cx="193.3" cy="52.5" r="0.95"/>
<circle cx="193.4" cy="54" r="0.95"/>
<circle cx="196.7" cy="41.4" r="0.95"/>
<circle cx="196.5" cy="42.9" r="0.95"/>
<circle cx="196.3" cy="44.4" r="0.95"/>
<circle cx="196" cy="45.9" r="0.95"/>
<circle cx="196" cy="47.4" r="0.95"/>
<circle cx="195.9" cy="48.8" r="0.95"/>
<circle cx="195.6" cy="50.3" r="0.95"/>
<circle cx="195.7" cy="51.8" r="0.95"/>
<circle cx="195.4" cy="53.3" r="0.95"/>
<circle cx="195.3" cy="54.8" r="0.95"/>
<circle cx="195.1" cy="56.3" r="0.95"/>
<circle cx="195.1" cy="57.8" r="0.95"/>
<circle cx="194.9" cy="59.3" r="0.95"/>
<circle cx="194.9" cy="60.7" r="0.95"/>
<circle cx="206.2" cy="48.1" r="0.95"/>
<circle cx="206.4" cy="49.5" r="0.95"/>
<circle cx="206" cy="51" r="0.95"/>
<circle cx="206.1" cy="52.5" r="0.95"/>
<circle cx="206" cy="54" r="0.95"/>
<circle cx="205.9" cy="55.5" r="0.95"/>
<circle cx="205.7" cy="57" r="0.95"/>
<circle cx="205.6" cy="58.5" r="0.95"/>
<circle cx="205.2" cy="60" r="0.95"/>
<circle cx="205.2" cy="61.5" r="0.95"/>
<circle cx="191.9" cy="64.6" r="0.95"/>
<circle cx="191.9" cy="66.1" r="0.95"/>
<circle cx="191.6" cy="67.6" r="0.95"/>
<circle cx="191.6" cy="69.1" r="0.95"/>
<circle cx="191.5" cy="70.6" r="0.95"/>
<circle cx="191.1" cy="72.1" r="0.95"/>
<circle cx="191" cy="73.6" r="0.95"/>
<circle cx="191.2" cy="75" r="0.95"/>
<circle cx="190.7" cy="76.5" r="0.95"/>
<circle cx="190.7" cy="78" r="0.95"/>
<circle cx="190.7" cy="79.5" r="0.95"/>
<circle cx="190.4" cy="81" r="0.95"/>
<circle cx="190.2" cy="82.5" r="0.95"/>
<circle cx="190.3" cy="84" r="0.95"/>
<circle cx="190" cy="85.5" r="0.95"/>
<circle cx="189.8" cy="86.9" r="0.95"/>
<circle cx="213.5" cy="45" r="0.95"/>
<circle cx="213.1" cy="46.4" r="0.95"/>
<circle cx="213.2" cy="47.9" r="0.95"/>
<circle cx="212.9" cy="49.4" r="0.95"/>
<circle cx="213" cy="50.9" r="0.95"/>
<circle cx="212.7" cy="52.4" r="0.95"/>
<circle cx="212.4" cy="53.9" r="0.95"/>
<circle cx="212.6" cy="55.4" r="0.95"/>
<circle cx="201.7" cy="40.8" r="0.95"/>
<circle cx="201.2" cy="42.3" r="0.95"/>
<circle cx="201.4" cy="43.7" r="0.95"/>
<circle cx="201.1" cy="45.2" r="0.95"/>
<circle cx="201" cy="46.7" r="0.95"/>
<circle cx="200.6" cy="48.2" r="0.95"/>
<circle cx="200.8" cy="49.7" r="0.95"/>
<circle cx="200.4" cy="51.2" r="0.95"/>
<circle cx="200.5" cy="52.7" r="0.95"/>
<circle cx="200.2" cy="54.2" r="0.95"/>
<circle cx="200" cy="55.6" r="0.95"/>
<circle cx="200.2" cy="57.1" r="0.95"/>
<circle cx="200" cy="58.6" r="0.95"/>
<circle cx="199.8" cy="60.1" r="0.95"/>
<circle cx="199.4" cy="61.6" r="0.95"/>
<circle cx="215.4" cy="40" r="0.95"/>
<circle cx="215.1" cy="41.5" r="0.95"/>
<circle cx="215.1" cy="42.9" r="0.95"/>
<circle cx="214.8" cy="44.4" r="0.95"/>
<circle cx="214.7" cy="45.9" r="0.95"/>
<circle cx="214.5" cy="47.4" r="0.95"/>
<circle cx="214.5" cy="48.9" r="0.95"/>
<circle cx="214.4" cy="50.4" r="0.95"/>
<circle cx="214.1" cy="51.9" r="0.95"/>
<circle cx="214" cy="53.4" r="0.95"/>
<circle cx="214" cy="54.8" r="0.95"/>
<circle cx="202.1" cy="43.2" r="0.95"/>
<circle cx="201.7" cy="44.7" r="0.95"/>
<circle cx="201.7" cy="46.1" r="0.95"/>
<circle cx="201.4" cy="47.6" r="0.95"/>
<circle cx="201.2" cy="49.1" r="0.95"/>
<circle cx="201.1" cy="50.6" r="0.95"/>
<circle cx="200.9" cy="52.1" r="0.95"/>
<circle cx="201.1" cy="53.6" r="0.95"/>
<circle cx="201" cy="55.1" r="0.95"/>
<circle cx="200.5" cy="56.6" r="0.95"/>
<circle cx="200.5" cy="58" r="0.95"/>
<circle cx="200.5" cy="59.5" r="0.95"/>
<circle cx="200.4" cy="61" r="0.95"/>
<circle cx="232.6" cy="41.7" r="0.95"/>
<circle cx="232.4" cy="43.2" r="0.95"/>
<circle cx="232.2" cy="44.7" r="0.95"/>
<circle cx="232.1" cy="46.1" r="0.95"/>
<circle cx="232" cy="47.6" r="0.95"/>
<circle cx="232.1" cy="49.1" r="0.95"/>
<circle cx="231.8" cy="50.6" r="0.95"/>
<circle cx="231.6" cy="52.1" r="0.95"/>
<circle cx="231.5" cy="53.6" r="0.95"/>
<circle cx="202.4" cy="54.1" r="0.95"/>
<circle cx="202.2" cy="55.6" r="0.95"/>
<circle cx="202.2" cy="57.1" r="0.95"/>
<circle cx="201.8" cy="58.6" r="0.95"/>
<circle cx="201.8" cy="60.1" r="0.95"/>
<circle cx="201.6" cy="61.6" r="0.95"/>
<circle cx="201.6" cy="63.1" r="0.95"/>
<circle cx="201.4" cy="64.6" r="0.95"/>
<circle cx="201.2" cy="66" r="0.95"/>
<circle cx="201" cy="67.5" r="0.95"/>
<circle cx="201.1" cy="69" r="0.95"/>
<circle cx="200.9" cy="70.5" r="0.95"/>
<circle cx="200.6" cy="72" r="0.95"/>
<circle cx="200.8" cy="73.5" r="0.95"/>
<circle cx="200.3" cy="75" r="0.95"/>
<circle cx="204.4" cy="40.1" r="0.95"/>
<circle cx="204.3" cy="41.6" r="0.95"/>
<circle cx="204.1" cy="43.1" r="0.95"/>
<circle cx="204.2" cy="44.6" r="0.95"/>
<circle cx="203.9" cy="46.1" r="0.95"/>
<circle cx="203.9" cy="47.6" r="0.95"/>
<circle cx="203.8" cy="49.1" r="0.95"/>
<circle cx="203.7" cy="50.6" r="0.95"/>
<circle cx="203.5" cy="52" r="0.95"/>
<circle cx="203.2" cy="53.5" r="0.95"/>
<circle cx="203.4" cy="55" r="0.95"/>
<circle cx="203.1" cy="56.5" r="0.95"/>
<circle cx="191.1" cy="54.6" r="0.95"/>
<circle cx="191" cy="56.1" r="0.95"/>
<circle cx="191.1" cy="57.6" r="0.95"/>
<circle cx="190.8" cy="59.1" r="0.95"/>
<circle cx="190.8" cy="60.6" r="0.95"/>
<circle cx="190.4" cy="62" r="0.95"/>
<circle cx="228.4" cy="49.3" r="0.95"/>
<circle cx="228.3" cy="50.8" r="0.95"/>
<circle cx="228" cy="52.3" r="0.95"/>
<circle cx="228.2" cy="53.8" r="0.95"/>
<circle cx="228" cy="55.2" r="0.95"/>
<circle cx="227.9" cy="56.7" r="0.95"/>
<circle cx="227.6" cy="58.2" r="0.95"/>
<circle cx="227.5" cy="59.7" r="0.95"/>
<circle cx="227.5" cy="61.2" r="0.95"/>
<circle cx="227.3" cy="62.7" r="0.95"/>
<circle cx="226.9" cy="64.2" r="0.95"/>
<circle cx="226.9" cy="65.7" r="0.95"/>
<circle cx="227" cy="67.1" r="0.95"/>
<circle cx="226.8" cy="68.6" r="0.95"/>
<circle cx="226.7" cy="70.1" r="0.95"/>
<circle cx="208" cy="38" r="0.95"/>
<circle cx="207.9" cy="39.5" r="0.95"/>
<circle cx="207.9" cy="41" r="0.95"/>
<circle cx="207.7" cy="42.5" r="0.95"/>
<circle cx="207.4" cy="44" r="0.95"/>
<circle cx="207.4" cy="45.5" r="0.95"/>
<circle cx="207.3" cy="47" r="0.95"/>
<circle cx="207" cy="48.5" r="0.95"/>
<circle cx="206.9" cy="49.9" r="0.95"/>
<circle cx="206.9" cy="51.4" r="0.95"/>
<circle cx="206.5" cy="52.9" r="0.95"/>
<circle cx="203.9" cy="45.8" r="0.95"/>
<circle cx="203.6" cy="47.3" r="0.95"/>
<circle cx="203.6" cy="48.8" r="0.95"/>
<circle cx="203.7" cy="50.3" r="0.95"/>
<circle cx="203.4" cy="51.8" r="0.95"/>
<circle cx="203.2" cy="53.2" r="0.95"/>
<circle cx="203" cy="54.7" r="0.95"/>
<circle cx="202.8" cy="56.2" r="0.95"/>
<circle cx="202.7" cy="57.7" r="0.95"/>
<circle cx="202.7" cy="59.2" r="0.95"/>
<circle cx="202.6" cy="60.7" r="0.95"/>
<circle cx="202.5" cy="62.2" r="0.95"/>
<circle cx="202.2" cy="63.7" r="0.95"/>
<circle cx="227.5" cy="59.7" r="0.95"/>
<circle cx="227.4" cy="61.1" r="0.95"/>
<circle cx="227.4" cy="62.6" r="0.95"/>
<circle cx="227" cy="64.1" r="0.95"/>
<circle cx="226.9" cy="65.6" r="0.95"/>
<circle cx="226.8" cy="67.1" r="0.95"/>
<circle cx="203.3" cy="60.9" r="0.95"/>
<circle cx="203.1" cy="62.4" r="0.95"/>
<circle cx="203" cy="63.9" r="0.95"/>
<circle cx="202.8" cy="65.4" r="0.95"/>
<circle cx="202.6" cy="66.9" r="0.95"/>
<circle cx="202.5" cy="68.4" r="0.95"/>
<circle cx="202.4" cy="69.8" r="0.95"/>
<circle cx="202.3" cy="71.3" r="0.95"/>
<circle cx="193.8" cy="51.6" r="0.95"/>
<circle cx="193.3" cy="53.1" r="0.95"/>
<circle cx="193.3" cy="54.6" r="0.95"/>
<circle cx="193.2" cy="56" r="0.95"/>
<circle cx="193.2" cy="57.5" r="0.95"/>
<circle cx="192.7" cy="59" r="0.95"/>
<circle cx="192.6" cy="60.5" r="0.95"/>
<circle cx="192.7" cy="62" r="0.95"/>
<circle cx="192.5" cy="63.5" r="0.95"/>
<circle cx="192.4" cy="65" r="0.95"/>
<circle cx="192.3" cy="66.5" r="0.95"/>
<circle cx="191.9" cy="67.9" r="0.95"/>
<circle cx="191.9" cy="69.4" r="0.95"/>
<circle cx="205.7" cy="44.4" r="0.95"/>
<circle cx="205.5" cy="45.9" r="0.95"/>
<circle cx="205.3" cy="47.4" r="0.95"/>
<circle cx="205.3" cy="48.9" r="0.95"/>
<circle cx="205.1" cy="50.4" r="0.95"/>
<circle cx="204.8" cy="51.9" r="0.95"/>
<circle cx="204.7" cy="53.4" r="0.95"/>
<circle cx="204.7" cy="54.8" r="0.95"/>
<circle cx="204.7" cy="56.3" r="0.95"/>
<circle cx="204.4" cy="57.8" r="0.95"/>
<circle cx="204.4" cy="59.3" r="0.95"/>
<circle cx="204.1" cy="60.8" r="0.95"/>
<circle cx="204" cy="62.3" r="0.95"/>
<circle cx="203.6" cy="63.8" r="0.95"/>
<circle cx="203.8" cy="65.3" r="0.95"/>
<circle cx="203.5" cy="66.7" r="0.95"/>
<circle cx="104.1" cy="333.4" r="0.95"/>
<circle cx="104.3" cy="334.9" r="0.95"/>
<circle cx="104.1" cy="336.3" r="0.95"/>
<circle cx="104.1" cy="337.8" r="0.95"/>
<circle cx="103.8" cy="339.3" r="0.95"/>
<circle cx="103.8" cy="340.8" r="0.95"/>
<circle cx="107.7" cy="345" r="0.95"/>
<circle cx="107.4" cy="346.5" r="0.95"/>
<circle cx="107.3" cy="348" r="0.95"/>
<circle cx="107.2" cy="349.5" r="0.95"/>
<circle cx="107.1" cy="350.9" r="0.95"/>
<circle cx="110.7" cy="332.1" r="0.95"/>
<circle cx="110.3" cy="333.6" r="0.95"/>
<circle cx="110.1" cy="335.1" r="0.95"/>
<circle cx="110.2" cy="336.6" r="0.95"/>
<circle cx="109.9" cy="338.1" r="0.95"/>
<circle cx="109.7" cy="339.6" r="0.95"/>
<circle cx="109.9" cy="341.1" r="0.95"/>
<circle cx="109.5" cy="342.5" r="0.95"/>
<circle cx="108.6" cy="341.1" r="0.95"/>
<circle cx="108.4" cy="342.6" r="0.95"/>
<circle cx="108.2" cy="344" r="0.95"/>
<circle cx="108.1" cy="345.5" r="0.95"/>
<circle cx="107.5" cy="334.3" r="0.95"/>
<circle cx="107.2" cy="335.8" r="0.95"/>
<circle cx="107" cy="337.3" r="0.95"/>
<circle cx="106.8" cy="338.8" r="0.95"/>
<circle cx="106.7" cy="340.3" r="0.95"/>
<circle cx="104.8" cy="336" r="0.95"/>
<circle cx="104.5" cy="337.5" r="0.95"/>
<circle cx="104.4" cy="339" r="0.95"/>
<circle cx="104.3" cy="340.5" r="0.95"/>
<circle cx="104.4" cy="342" r="0.95"/>
<circle cx="104.3" cy="343.5" r="0.95"/>
<circle cx="103.9" cy="345" r="0.95"/>
<circle cx="104" cy="346.5" r="0.95"/>
<circle cx="103.5" cy="343.2" r="0.95"/>
<circle cx="103.3" cy="344.7" r="0.95"/>
<circle cx="102.9" cy="346.1" r="0.95"/>
<circle cx="102.8" cy="347.6" r="0.95"/>
<circle cx="102.7" cy="349.1" r="0.95"/>
<circle cx="102.6" cy="350.6" r="0.95"/>
<circle cx="102.7" cy="352.1" r="0.95"/>
<circle cx="102.3" cy="353.6" r="0.95"/>
<circle cx="91.3" cy="408.2" r="0.95"/>
<circle cx="94.4" cy="406.7" r="0.95"/>
<circle cx="101.5" cy="413.3" r="0.95"/>
<circle cx="96.9" cy="409.2" r="0.95"/>
<circle cx="96.9" cy="398" r="0.95"/>
<circle cx="100.2" cy="399.8" r="0.95"/>
<circle cx="102.3" cy="403.1" r="0.95"/>
<circle cx="99" cy="394.7" r="0.95"/>
<circle cx="101.5" cy="383.8" r="0.95"/>
<circle cx="104.1" cy="387.1" r="0.95"/>
<circle cx="102.8" cy="390.9" r="0.95"/>
<circle cx="106.1" cy="385.3" r="0.95"/>
<circle cx="100.2" cy="388.3" r="0.95"/>
<circle cx="104.6" cy="392.9" r="0.95"/>
<circle cx="96.4" cy="350.7" r="0.95"/>
<circle cx="100.2" cy="354" r="0.95"/>
<circle cx="102.8" cy="352.2" r="0.95"/>
<circle cx="99" cy="357.3" r="0.95"/>
<circle cx="104.1" cy="357.8" r="0.95"/>
<circle cx="97.7" cy="355.3" r="0.95"/>
<circle cx="116.6" cy="379" r="0.95"/>
<circle cx="116.2" cy="382.5" r="0.95"/>
<circle cx="115.8" cy="386" r="0.95"/>
<circle cx="115.4" cy="389.5" r="0.95"/>
<circle cx="115" cy="393" r="0.95"/>
<circle cx="108.5" cy="368" r="0.95"/>
<circle cx="111" cy="371.5" r="0.95"/>
<circle cx="106.5" cy="374" r="0.95"/>
</g>
<text x="196.4" y="30" font-family="'Liberation Serif', serif" font-weight="bold" font-size="11.5" fill="#ffffff" fill-opacity="1.0" text-anchor="middle">Inner Mongolia</text>
<text x="123" y="205.9" font-family="'Liberation Serif', serif" font-weight="bold" font-size="11.5" fill="#ffffff" fill-opacity="1.0" text-anchor="middle">Hebei</text>
<text x="76" y="245" font-family="'Liberation Serif', serif" font-weight="bold" font-size="11.5" fill="#ffffff" fill-opacity="1.0" text-anchor="middle">Shanxi</text>
<text x="228" y="220.2" font-family="'Liberation Serif', serif" font-weight="bold" font-size="11.5" fill="#ffffff" fill-opacity="1.0" text-anchor="middle">Beijing</text>
<text x="207.2" y="329.8" font-family="'Liberation Serif', serif" font-weight="bold" font-size="11.5" fill="#ffffff" fill-opacity="0.8" text-anchor="middle">Hebei</text>
<rect x="23.9" y="20.6" width="121.6" height="123.9" fill="#ffffff" stroke="#222222" stroke-width="0.8"/>
<circle cx="40.5" cy="32.3" r="1.05" fill="#7c1010" stroke="#2b0505" stroke-width="0.4"/>
<text x="56.5" y="35.8" font-family="'Liberation Serif', serif" font-weight="bold" font-size="9.5" fill="#111111" stroke="#111111" stroke-width="0.22">ATLAS LAPs</text>
<text x="56.5" y="50.6" font-family="'Liberation Serif', serif" font-weight="bold" font-size="9.5" fill="#111111" stroke="#111111" stroke-width="0.22">Experiment imagery</text>
<text x="56.5" y="65.3" font-family="'Liberation Serif', serif" font-weight="bold" font-size="9.5" fill="#111111" stroke="#111111" stroke-width="0.22">Provincial boundary</text>
<text x="29.6" y="79.8" font-family="'Liberation Serif', serif" font-weight="bold" font-size="9.5" fill="#111111" stroke="#111111" stroke-width="0.22">Terrain type</text>
<text x="56.5" y="94.6" font-family="'Liberation Serif', serif" font-weight="bold" font-size="9.5" fill="#111111" stroke="#111111" stroke-width="0.22">Flat</text>
<text x="56.5" y="108.7" font-family="'Liberation Serif', serif" font-weight="bold" font-size="9.5" fill="#111111" stroke="#111111" stroke-width="0.22">Hilly</text>
<text x="56.5" y="123.7" font-family="'Liberation Serif', serif" font-weight="bold" font-size="9.5" fill="#111111" stroke="#111111" stroke-width="0.22">Mountainous</text>
<text x="56.5" y="138.5" font-family="'Liberation Serif', serif" font-weight="bold" font-size="9.5" fill="#111111" stroke="#111111" stroke-width="0.22">High-mountainous</text>
<rect x="28.4" y="41.6" width="24.2" height="11" fill="#ffffff" stroke="#eeee55" stroke-width="1"/>
<rect x="28.4" y="56.3" width="24.2" height="11" fill="#ffffff" stroke="#7a7a7a" stroke-width="1"/>
<rect x="28.4" y="85.6" width="24.2" height="11" fill="#d6d6fa"/>
<rect x="28.4" y="99.7" width="24.2" height="11" fill="#7a8ee2"/>
<rect x="28.4" y="114.7" width="24.2" height="11" fill="#155bc6"/>
<rect x="28.4" y="129.5" width="24.2" height="11" fill="#0638a6"/>
<rect x="151.1" y="395.6" width="99.5" height="29.1" fill="#ffffff"/>
<rect x="155.8" y="403.4" width="75.2" height="4.4" fill="#000000"/>
<rect x="175" y="404.3" width="18.4" height="2.6" fill="#ffffff"/>
<text x="155.8" y="420.6" font-family="'Liberation Serif', serif" font-weight="bold" font-size="10.7" fill="#111111" stroke="#111111" stroke-width="0.22" text-anchor="middle">0</text>
<text x="193.4" y="420.6" font-family="'Liberation Serif', serif" font-weight="bold" font-size="10.7" fill="#111111" stroke="#111111" stroke-width="0.22" text-anchor="middle">50</text>
<text x="231" y="420.6" font-family="'Liberation Serif', serif" font-weight="bold" font-size="10.7" fill="#111111" stroke="#111111" stroke-width="0.22" text-anchor="middle">100</text>
<text x="234.2" y="408.3" font-family="'Liberation Serif', serif" font-weight="bold" font-size="10.2" fill="#111111" stroke="#111111" stroke-width="0.22">km</text>
</g>
<rect x="22.4" y="19" width="233.4" height="408.8" fill="none" stroke="#2a2a2a" stroke-width="1.25"/>
<g clip-path="url(#cb)">
<rect x="299.5" y="18.3" width="232.2" height="409.5" fill="#d6d6fa"/>
<rect x="424.4" y="18.3" width="33.7" height="7.5" fill="#7a8ee2"/>
<rect x="474.5" y="18.3" width="57.5" height="7.5" fill="#ffffff"/>
<rect x="424.4" y="25.5" width="50.4" height="11.3" fill="#7a8ee2"/>
<rect x="474.5" y="25.5" width="57.5" height="11.3" fill="#ffffff"/>
<rect x="424.4" y="36.5" width="33.7" height="11.3" fill="#155bc6"/>
<rect x="457.8" y="36.5" width="17" height="11.3" fill="#7a8ee2"/>
<rect x="474.5" y="36.5" width="57.5" height="11.3" fill="#ffffff"/>
<rect x="424.4" y="47.5" width="17" height="11.3" fill="#7a8ee2"/>
<rect x="441.1" y="47.5" width="17" height="11.3" fill="#155bc6"/>
<rect x="457.8" y="47.5" width="17" height="11.3" fill="#7a8ee2"/>
<rect x="491.2" y="47.5" width="40.8" height="11.3" fill="#ffffff"/>
<rect x="424.4" y="58.5" width="50.4" height="11.3" fill="#7a8ee2"/>
<rect x="491.2" y="58.5" width="40.8" height="11.3" fill="#ffffff"/>
<rect x="424.4" y="69.5" width="50.4" height="11.3" fill="#7a8ee2"/>
<rect x="491.2" y="69.5" width="40.8" height="11.3" fill="#ffffff"/>
<rect x="424.4" y="80.6" width="67.1" height="11.3" fill="#7a8ee2"/>
<rect x="491.2" y="80.6" width="40.8" height="11.3" fill="#ffffff"/>
<rect x="424.4" y="91.6" width="67.1" height="11.3" fill="#7a8ee2"/>
<rect x="424.4" y="102.6" width="107.6" height="11.3" fill="#7a8ee2"/>
<rect x="424.4" y="113.6" width="107.6" height="11.3" fill="#7a8ee2"/>
<rect x="424.4" y="124.6" width="83.8" height="11.3" fill="#7a8ee2"/>
<rect x="524.6" y="124.6" width="7.4" height="11.3" fill="#7a8ee2"/>
<rect x="457.8" y="135.7" width="67.1" height="11.3" fill="#7a8ee2"/>
<rect x="441.1" y="146.7" width="67.1" height="11.3" fill="#7a8ee2"/>
<rect x="524.6" y="146.7" width="7.4" height="11.3" fill="#7a8ee2"/>
<rect x="357.6" y="157.7" width="17" height="11.3" fill="#7a8ee2"/>
<rect x="424.4" y="157.7" width="100.5" height="11.3" fill="#7a8ee2"/>
<rect x="357.6" y="168.7" width="33.7" height="11.3" fill="#7a8ee2"/>
<rect x="407.7" y="168.7" width="17" height="11.3" fill="#7a8ee2"/>
<rect x="441.1" y="168.7" width="67.1" height="11.3" fill="#7a8ee2"/>
<rect x="524.6" y="168.7" width="7.4" height="11.3" fill="#7a8ee2"/>
<rect x="357.6" y="179.7" width="33.7" height="11.3" fill="#7a8ee2"/>
<rect x="424.4" y="179.7" width="67.1" height="11.3" fill="#7a8ee2"/>
<rect x="524.6" y="179.7" width="7.4" height="11.3" fill="#7a8ee2"/>
<rect x="357.6" y="190.8" width="17" height="11.3" fill="#7a8ee2"/>
<rect x="457.8" y="190.8" width="74.2" height="11.3" fill="#7a8ee2"/>
<rect x="391" y="201.8" width="50.4" height="11.3" fill="#7a8ee2"/>
<rect x="457.8" y="201.8" width="67.1" height="11.3" fill="#7a8ee2"/>
<rect x="524.6" y="201.8" width="7.4" height="11.3" fill="#155bc6"/>
<rect x="374.3" y="212.8" width="33.7" height="11.3" fill="#7a8ee2"/>
<rect x="474.5" y="212.8" width="50.4" height="11.3" fill="#7a8ee2"/>
<rect x="524.6" y="212.8" width="7.4" height="11.3" fill="#155bc6"/>
<rect x="391" y="223.8" width="17" height="11.3" fill="#7a8ee2"/>
<rect x="474.5" y="223.8" width="33.7" height="11.3" fill="#7a8ee2"/>
<rect x="507.9" y="223.8" width="24.1" height="11.3" fill="#155bc6"/>
<rect x="374.3" y="234.8" width="17" height="11.3" fill="#7a8ee2"/>
<rect x="491.2" y="234.8" width="40.8" height="11.3" fill="#155bc6"/>
<rect x="507.9" y="245.9" width="17" height="11.3" fill="#7a8ee2"/>
<rect x="524.6" y="245.9" width="7.4" height="11.3" fill="#155bc6"/>
<rect x="524.6" y="256.9" width="7.4" height="11.3" fill="#155bc6"/>
<rect x="507.9" y="267.9" width="17" height="11.3" fill="#7a8ee2"/>
<rect x="524.6" y="267.9" width="7.4" height="11.3" fill="#155bc6"/>
<rect x="507.9" y="278.9" width="17" height="11.3" fill="#7a8ee2"/>
<rect x="524.6" y="278.9" width="7.4" height="11.3" fill="#155bc6"/>
<rect x="457.8" y="289.9" width="50.4" height="11.3" fill="#7a8ee2"/>
<rect x="507.9" y="289.9" width="24.1" height="11.3" fill="#155bc6"/>
<rect x="457.8" y="301" width="50.4" height="11.3" fill="#7a8ee2"/>
<rect x="507.9" y="301" width="24.1" height="11.3" fill="#155bc6"/>
<rect x="457.8" y="312" width="33.7" height="11.3" fill="#7a8ee2"/>
<rect x="507.9" y="312" width="24.1" height="11.3" fill="#155bc6"/>
<rect x="441.1" y="323" width="17" height="11.3" fill="#7a8ee2"/>
<rect x="474.5" y="323" width="57.5" height="11.3" fill="#7a8ee2"/>
<rect x="441.1" y="334" width="33.7" height="11.3" fill="#7a8ee2"/>
<rect x="491.2" y="334" width="33.7" height="11.3" fill="#7a8ee2"/>
<rect x="524.6" y="334" width="7.4" height="11.3" fill="#155bc6"/>
<rect x="441.1" y="345" width="67.1" height="11.3" fill="#7a8ee2"/>
<rect x="507.9" y="345" width="24.1" height="11.3" fill="#155bc6"/>
<rect x="424.4" y="356.1" width="17" height="11.3" fill="#7a8ee2"/>
<rect x="441.1" y="356.1" width="83.8" height="11.3" fill="#155bc6"/>
<rect x="524.6" y="356.1" width="7.4" height="11.3" fill="#7a8ee2"/>
<rect x="441.1" y="367.1" width="67.1" height="11.3" fill="#155bc6"/>
<rect x="507.9" y="367.1" width="24.1" height="11.3" fill="#7a8ee2"/>
<rect x="441.1" y="378.1" width="50.4" height="11.3" fill="#155bc6"/>
<rect x="491.2" y="378.1" width="33.7" height="11.3" fill="#7a8ee2"/>
<rect x="524.6" y="378.1" width="7.4" height="11.3" fill="#155bc6"/>
<rect x="407.7" y="389.1" width="17" height="11.3" fill="#7a8ee2"/>
<rect x="441.1" y="389.1" width="67.1" height="11.3" fill="#7a8ee2"/>
<rect x="507.9" y="389.1" width="24.1" height="11.3" fill="#155bc6"/>
<rect x="307.5" y="400.1" width="17" height="11.3" fill="#7a8ee2"/>
<rect x="424.4" y="422.2" width="17" height="5.9" fill="#7a8ee2"/>
<rect x="441.1" y="422.2" width="90.9" height="5.9" fill="#155bc6"/>
<path d="M307.5 18.3V427.8M324.2 18.3V427.8M340.9 18.3V427.8M357.6 18.3V427.8M374.3 18.3V427.8M391 18.3V427.8M407.7 18.3V427.8M424.4 18.3V427.8M441.1 18.3V427.8M457.8 18.3V427.8M474.5 18.3V427.8M491.2 18.3V427.8M507.9 18.3V427.8M524.6 18.3V427.8M299.5 25.5H531.7M299.5 36.5H531.7M299.5 47.5H531.7M299.5 58.5H531.7M299.5 69.5H531.7M299.5 80.6H531.7M299.5 91.6H531.7M299.5 102.6H531.7M299.5 113.6H531.7M299.5 124.6H531.7M299.5 135.7H531.7M299.5 146.7H531.7M299.5 157.7H531.7M299.5 168.7H531.7M299.5 179.7H531.7M299.5 190.8H531.7M299.5 201.8H531.7M299.5 212.8H531.7M299.5 223.8H531.7M299.5 234.8H531.7M299.5 245.9H531.7M299.5 256.9H531.7M299.5 267.9H531.7M299.5 278.9H531.7M299.5 289.9H531.7M299.5 301H531.7M299.5 312H531.7M299.5 323H531.7M299.5 334H531.7M299.5 345H531.7M299.5 356.1H531.7M299.5 367.1H531.7M299.5 378.1H531.7M299.5 389.1H531.7M299.5 400.1H531.7M299.5 411.2H531.7M299.5 422.2H531.7" fill="none" stroke="#8e8eb0" stroke-opacity="0.28" stroke-width="0.7"/>
<path d="M299.5 18.3H307.5V25.5H299.5ZM307.5 18.3H324.2V25.5H307.5ZM324.2 18.3H340.9V25.5H324.2ZM340.9 18.3H357.6V25.5H340.9ZM357.6 18.3H374.3V25.5H357.6ZM374.3 18.3H391V25.5H374.3ZM391 18.3H407.7V25.5H391ZM407.7 18.3H424.4V25.5H407.7ZM457.8 18.3H474.5V25.5H457.8ZM299.5 25.5H307.5V36.5H299.5ZM307.5 25.5H324.2V36.5H307.5ZM324.2 25.5H340.9V36.5H324.2ZM340.9 25.5H357.6V36.5H340.9ZM357.6 25.5H374.3V36.5H357.6ZM374.3 25.5H391V36.5H374.3ZM391 25.5H407.7V36.5H391ZM407.7 25.5H424.4V36.5H407.7ZM299.5 36.5H307.5V47.5H299.5ZM307.5 36.5H324.2V47.5H307.5ZM324.2 36.5H340.9V47.5H324.2ZM340.9 36.5H357.6V47.5H340.9ZM357.6 36.5H374.3V47.5H357.6ZM374.3 36.5H391V47.5H374.3ZM391 36.5H407.7V47.5H391ZM407.7 36.5H424.4V47.5H407.7ZM299.5 47.5H307.5V58.5H299.5ZM307.5 47.5H324.2V58.5H307.5ZM324.2 47.5H340.9V58.5H324.2ZM340.9 47.5H357.6V58.5H340.9ZM357.6 47.5H374.3V58.5H357.6ZM374.3 47.5H391V58.5H374.3ZM391 47.5H407.7V58.5H391ZM407.7 47.5H424.4V58.5H407.7ZM474.5 47.5H491.2V58.5H474.5ZM299.5 58.5H307.5V69.5H299.5ZM307.5 58.5H324.2V69.5H307.5ZM324.2 58.5H340.9V69.5H324.2ZM340.9 58.5H357.6V69.5H340.9ZM357.6 58.5H374.3V69.5H357.6ZM374.3 58.5H391V69.5H374.3ZM391 58.5H407.7V69.5H391ZM407.7 58.5H424.4V69.5H407.7ZM474.5 58.5H491.2V69.5H474.5ZM299.5 69.5H307.5V80.6H299.5ZM307.5 69.5H324.2V80.6H307.5ZM324.2 69.5H340.9V80.6H324.2ZM340.9 69.5H357.6V80.6H340.9ZM357.6 69.5H374.3V80.6H357.6ZM374.3 69.5H391V80.6H374.3ZM391 69.5H407.7V80.6H391ZM407.7 69.5H424.4V80.6H407.7ZM474.5 69.5H491.2V80.6H474.5ZM299.5 80.6H307.5V91.6H299.5ZM307.5 80.6H324.2V91.6H307.5ZM324.2 80.6H340.9V91.6H324.2ZM340.9 80.6H357.6V91.6H340.9ZM357.6 80.6H374.3V91.6H357.6ZM374.3 80.6H391V91.6H374.3ZM391 80.6H407.7V91.6H391ZM407.7 80.6H424.4V91.6H407.7ZM299.5 91.6H307.5V102.6H299.5ZM307.5 91.6H324.2V102.6H307.5ZM324.2 91.6H340.9V102.6H324.2ZM340.9 91.6H357.6V102.6H340.9ZM357.6 91.6H374.3V102.6H357.6ZM374.3 91.6H391V102.6H374.3ZM391 91.6H407.7V102.6H391ZM407.7 91.6H424.4V102.6H407.7ZM491.2 91.6H507.9V102.6H491.2ZM507.9 91.6H524.6V102.6H507.9ZM524.6 91.6H531.7V102.6H524.6ZM299.5 102.6H307.5V113.6H299.5ZM307.5 102.6H324.2V113.6H307.5ZM324.2 102.6H340.9V113.6H324.2ZM340.9 102.6H357.6V113.6H340.9ZM357.6 102.6H374.3V113.6H357.6ZM374.3 102.6H391V113.6H374.3ZM391 102.6H407.7V113.6H391ZM407.7 102.6H424.4V113.6H407.7ZM299.5 113.6H307.5V124.6H299.5ZM307.5 113.6H324.2V124.6H307.5ZM324.2 113.6H340.9V124.6H324.2ZM340.9 113.6H357.6V124.6H340.9ZM357.6 113.6H374.3V124.6H357.6ZM374.3 113.6H391V124.6H374.3ZM391 113.6H407.7V124.6H391ZM407.7 113.6H424.4V124.6H407.7ZM299.5 124.6H307.5V135.7H299.5ZM307.5 124.6H324.2V135.7H307.5ZM324.2 124.6H340.9V135.7H324.2ZM340.9 124.6H357.6V135.7H340.9ZM357.6 124.6H374.3V135.7H357.6ZM374.3 124.6H391V135.7H374.3ZM391 124.6H407.7V135.7H391ZM407.7 124.6H424.4V135.7H407.7ZM507.9 124.6H524.6V135.7H507.9ZM299.5 135.7H307.5V146.7H299.5ZM307.5 135.7H324.2V146.7H307.5ZM324.2 135.7H340.9V146.7H324.2ZM340.9 135.7H357.6V146.7H340.9ZM357.6 135.7H374.3V146.7H357.6ZM374.3 135.7H391V146.7H374.3ZM391 135.7H407.7V146.7H391ZM407.7 135.7H424.4V146.7H407.7ZM424.4 135.7H441.1V146.7H424.4ZM441.1 135.7H457.8V146.7H441.1ZM524.6 135.7H531.7V146.7H524.6ZM299.5 146.7H307.5V157.7H299.5ZM307.5 146.7H324.2V157.7H307.5ZM324.2 146.7H340.9V157.7H324.2ZM340.9 146.7H357.6V157.7H340.9ZM357.6 146.7H374.3V157.7H357.6ZM374.3 146.7H391V157.7H374.3ZM391 146.7H407.7V157.7H391ZM407.7 146.7H424.4V157.7H407.7ZM424.4 146.7H441.1V157.7H424.4ZM507.9 146.7H524.6V157.7H507.9ZM299.5 157.7H307.5V168.7H299.5ZM307.5 157.7H324.2V168.7H307.5ZM324.2 157.7H340.9V168.7H324.2ZM340.9 157.7H357.6V168.7H340.9ZM374.3 157.7H391V168.7H374.3ZM391 157.7H407.7V168.7H391ZM407.7 157.7H424.4V168.7H407.7ZM524.6 157.7H531.7V168.7H524.6ZM299.5 168.7H307.5V179.7H299.5ZM307.5 168.7H324.2V179.7H307.5ZM324.2 168.7H340.9V179.7H324.2ZM340.9 168.7H357.6V179.7H340.9ZM391 168.7H407.7V179.7H391ZM424.4 168.7H441.1V179.7H424.4ZM507.9 168.7H524.6V179.7H507.9ZM299.5 179.7H307.5V190.8H299.5ZM307.5 179.7H324.2V190.8H307.5ZM324.2 179.7H340.9V190.8H324.2ZM340.9 179.7H357.6V190.8H340.9ZM391 179.7H407.7V190.8H391ZM407.7 179.7H424.4V190.8H407.7ZM491.2 179.7H507.9V190.8H491.2ZM507.9 179.7H524.6V190.8H507.9ZM299.5 190.8H307.5V201.8H299.5ZM307.5 190.8H324.2V201.8H307.5ZM324.2 190.8H340.9V201.8H324.2ZM340.9 190.8H357.6V201.8H340.9ZM374.3 190.8H391V201.8H374.3ZM391 190.8H407.7V201.8H391ZM407.7 190.8H424.4V201.8H407.7ZM424.4 190.8H441.1V201.8H424.4ZM441.1 190.8H457.8V201.8H441.1ZM299.5 201.8H307.5V212.8H299.5ZM307.5 201.8H324.2V212.8H307.5ZM324.2 201.8H340.9V212.8H324.2ZM340.9 201.8H357.6V212.8H340.9ZM357.6 201.8H374.3V212.8H357.6ZM374.3 201.8H391V212.8H374.3ZM441.1 201.8H457.8V212.8H441.1ZM299.5 212.8H307.5V223.8H299.5ZM307.5 212.8H324.2V223.8H307.5ZM324.2 212.8H340.9V223.8H324.2ZM340.9 212.8H357.6V223.8H340.9ZM357.6 212.8H374.3V223.8H357.6ZM407.7 212.8H424.4V223.8H407.7ZM424.4 212.8H441.1V223.8H424.4ZM441.1 212.8H457.8V223.8H441.1ZM457.8 212.8H474.5V223.8H457.8ZM299.5 223.8H307.5V234.8H299.5ZM307.5 223.8H324.2V234.8H307.5ZM324.2 223.8H340.9V234.8H324.2ZM340.9 223.8H357.6V234.8H340.9ZM357.6 223.8H374.3V234.8H357.6ZM374.3 223.8H391V234.8H374.3ZM407.7 223.8H424.4V234.8H407.7ZM424.4 223.8H441.1V234.8H424.4ZM441.1 223.8H457.8V234.8H441.1ZM457.8 223.8H474.5V234.8H457.8ZM299.5 234.8H307.5V245.9H299.5ZM307.5 234.8H324.2V245.9H307.5ZM324.2 234.8H340.9V245.9H324.2ZM340.9 234.8H357.6V245.9H340.9ZM357.6 234.8H374.3V245.9H357.6ZM391 234.8H407.7V245.9H391ZM407.7 234.8H424.4V245.9H407.7ZM424.4 234.8H441.1V245.9H424.4ZM441.1 234.8H457.8V245.9H441.1ZM457.8 234.8H474.5V245.9H457.8ZM474.5 234.8H491.2V245.9H474.5ZM299.5 245.9H307.5V256.9H299.5ZM307.5 245.9H324.2V256.9H307.5ZM324.2 245.9H340.9V256.9H324.2ZM340.9 245.9H357.6V256.9H340.9ZM357.6 245.9H374.3V256.9H357.6ZM374.3 245.9H391V256.9H374.3ZM391 245.9H407.7V256.9H391ZM407.7 245.9H424.4V256.9H407.7ZM424.4 245.9H441.1V256.9H424.4ZM441.1 245.9H457.8V256.9H441.1ZM457.8 245.9H474.5V256.9H457.8ZM474.5 245.9H491.2V256.9H474.5ZM491.2 245.9H507.9V256.9H491.2ZM299.5 256.9H307.5V267.9H299.5ZM307.5 256.9H324.2V267.9H307.5ZM324.2 256.9H340.9V267.9H324.2ZM340.9 256.9H357.6V267.9H340.9ZM357.6 256.9H374.3V267.9H357.6ZM374.3 256.9H391V267.9H374.3ZM391 256.9H407.7V267.9H391ZM407.7 256.9H424.4V267.9H407.7ZM424.4 256.9H441.1V267.9H424.4ZM441.1 256.9H457.8V267.9H441.1ZM457.8 256.9H474.5V267.9H457.8ZM474.5 256.9H491.2V267.9H474.5ZM491.2 256.9H507.9V267.9H491.2ZM507.9 256.9H524.6V267.9H507.9ZM299.5 267.9H307.5V278.9H299.5ZM307.5 267.9H324.2V278.9H307.5ZM324.2 267.9H340.9V278.9H324.2ZM340.9 267.9H357.6V278.9H340.9ZM357.6 267.9H374.3V278.9H357.6ZM374.3 267.9H391V278.9H374.3ZM391 267.9H407.7V278.9H391ZM407.7 267.9H424.4V278.9H407.7ZM424.4 267.9H441.1V278.9H424.4ZM441.1 267.9H457.8V278.9H441.1ZM457.8 267.9H474.5V278.9H457.8ZM474.5 267.9H491.2V278.9H474.5ZM491.2 267.9H507.9V278.9H491.2ZM299.5 278.9H307.5V289.9H299.5ZM307.5 278.9H324.2V289.9H307.5ZM324.2 278.9H340.9V289.9H324.2ZM340.9 278.9H357.6V289.9H340.9ZM357.6 278.9H374.3V289.9H357.6ZM374.3 278.9H391V289.9H374.3ZM391 278.9H407.7V289.9H391ZM407.7 278.9H424.4V289.9H407.7ZM424.4 278.9H441.1V289.9H424.4ZM441.1 278.9H457.8V289.9H441.1ZM457.8 278.9H474.5V289.9H457.8ZM474.5 278.9H491.2V289.9H474.5ZM491.2 278.9H507.9V289.9H491.2ZM299.5 289.9H307.5V301H299.5ZM307.5 289.9H324.2V301H307.5ZM324.2 289.9H340.9V301H324.2ZM340.9 289.9H357.6V301H340.9ZM357.6 289.9H374.3V301H357.6ZM374.3 289.9H391V301H374.3ZM391 289.9H407.7V301H391ZM407.7 289.9H424.4V301H407.7ZM424.4 289.9H441.1V301H424.4ZM441.1 289.9H457.8V301H441.1ZM299.5 301H307.5V312H299.5ZM307.5 301H324.2V312H307.5ZM324.2 301H340.9V312H324.2ZM340.9 301H357.6V312H340.9ZM357.6 301H374.3V312H357.6ZM374.3 301H391V312H374.3ZM391 301H407.7V312H391ZM407.7 301H424.4V312H407.7ZM424.4 301H441.1V312H424.4ZM441.1 301H457.8V312H441.1ZM299.5 312H307.5V323H299.5ZM307.5 312H324.2V323H307.5ZM324.2 312H340.9V323H324.2ZM340.9 312H357.6V323H340.9ZM357.6 312H374.3V323H357.6ZM374.3 312H391V323H374.3ZM391 312H407.7V323H391ZM407.7 312H424.4V323H407.7ZM424.4 312H441.1V323H424.4ZM441.1 312H457.8V323H441.1ZM491.2 312H507.9V323H491.2ZM299.5 323H307.5V334H299.5ZM307.5 323H324.2V334H307.5ZM324.2 323H340.9V334H324.2ZM340.9 323H357.6V334H340.9ZM357.6 323H374.3V334H357.6ZM374.3 323H391V334H374.3ZM391 323H407.7V334H391ZM407.7 323H424.4V334H407.7ZM424.4 323H441.1V334H424.4ZM457.8 323H474.5V334H457.8ZM299.5 334H307.5V345H299.5ZM307.5 334H324.2V345H307.5ZM324.2 334H340.9V345H324.2ZM340.9 334H357.6V345H340.9ZM357.6 334H374.3V345H357.6ZM374.3 334H391V345H374.3ZM391 334H407.7V345H391ZM407.7 334H424.4V345H407.7ZM424.4 334H441.1V345H424.4ZM474.5 334H491.2V345H474.5ZM299.5 345H307.5V356.1H299.5ZM307.5 345H324.2V356.1H307.5ZM324.2 345H340.9V356.1H324.2ZM340.9 345H357.6V356.1H340.9ZM357.6 345H374.3V356.1H357.6ZM374.3 345H391V356.1H374.3ZM391 345H407.7V356.1H391ZM407.7 345H424.4V356.1H407.7ZM424.4 345H441.1V356.1H424.4ZM299.5 356.1H307.5V367.1H299.5ZM307.5 356.1H324.2V367.1H307.5ZM324.2 356.1H340.9V367.1H324.2ZM340.9 356.1H357.6V367.1H340.9ZM357.6 356.1H374.3V367.1H357.6ZM374.3 356.1H391V367.1H374.3ZM391 356.1H407.7V367.1H391ZM407.7 356.1H424.4V367.1H407.7ZM299.5 367.1H307.5V378.1H299.5ZM307.5 367.1H324.2V378.1H307.5ZM324.2 367.1H340.9V378.1H324.2ZM340.9 367.1H357.6V378.1H340.9ZM357.6 367.1H374.3V378.1H357.6ZM374.3 367.1H391V378.1H374.3ZM391 367.1H407.7V378.1H391ZM407.7 367.1H424.4V378.1H407.7ZM424.4 367.1H441.1V378.1H424.4ZM299.5 378.1H307.5V389.1H299.5ZM307.5 378.1H324.2V389.1H307.5ZM324.2 378.1H340.9V389.1H324.2ZM340.9 378.1H357.6V389.1H340.9ZM357.6 378.1H374.3V389.1H357.6ZM374.3 378.1H391V389.1H374.3ZM391 378.1H407.7V389.1H391ZM407.7 378.1H424.4V389.1H407.7ZM424.4 378.1H441.1V389.1H424.4ZM299.5 389.1H307.5V400.1H299.5ZM307.5 389.1H324.2V400.1H307.5ZM324.2 389.1H340.9V400.1H324.2ZM340.9 389.1H357.6V400.1H340.9ZM357.6 389.1H374.3V400.1H357.6ZM374.3 389.1H391V400.1H374.3ZM391 389.1H407.7V400.1H391ZM424.4 389.1H441.1V400.1H424.4ZM299.5 400.1H307.5V411.2H299.5ZM324.2 400.1H340.9V411.2H324.2ZM340.9 400.1H357.6V411.2H340.9ZM357.6 400.1H374.3V411.2H357.6ZM374.3 400.1H391V411.2H374.3ZM391 400.1H407.7V411.2H391ZM407.7 400.1H424.4V411.2H407.7ZM424.4 400.1H441.1V411.2H424.4ZM441.1 400.1H457.8V411.2H441.1ZM457.8 400.1H474.5V411.2H457.8ZM474.5 400.1H491.2V411.2H474.5ZM491.2 400.1H507.9V411.2H491.2ZM507.9 400.1H524.6V411.2H507.9ZM524.6 400.1H531.7V411.2H524.6ZM299.5 411.2H307.5V422.2H299.5ZM307.5 411.2H324.2V422.2H307.5ZM324.2 411.2H340.9V422.2H324.2ZM340.9 411.2H357.6V422.2H340.9ZM357.6 411.2H374.3V422.2H357.6ZM374.3 411.2H391V422.2H374.3ZM391 411.2H407.7V422.2H391ZM407.7 411.2H424.4V422.2H407.7ZM424.4 411.2H441.1V422.2H424.4ZM441.1 411.2H457.8V422.2H441.1ZM457.8 411.2H474.5V422.2H457.8ZM474.5 411.2H491.2V422.2H474.5ZM491.2 411.2H507.9V422.2H491.2ZM507.9 411.2H524.6V422.2H507.9ZM524.6 411.2H531.7V422.2H524.6ZM299.5 422.2H307.5V427.8H299.5ZM307.5 422.2H324.2V427.8H307.5ZM324.2 422.2H340.9V427.8H324.2ZM340.9 422.2H357.6V427.8H340.9ZM357.6 422.2H374.3V427.8H357.6ZM374.3 422.2H391V427.8H374.3ZM391 422.2H407.7V427.8H391ZM407.7 422.2H424.4V427.8H407.7Z" fill="none" stroke="#9a9aba" stroke-opacity="0.36" stroke-width="0.6"/>
<path d="M474.6 18H532V91.5H491.3V47.6H474.6Z" fill="#ffffff"/>
<polyline points="458.6,18 459.7,23.7 461.9,28.1 459.7,35.7 464.1,40.1 461.9,44.5 468.5,49.9 476.1,52.1 479.4,54.3 478.3,60.8 473.9,66.3 475,71.7 478.3,78.3 487,84.8 490.3,92.5 495.7,96.8 502.3,95.7 506.6,97.9 513.2,95.7 519.7,96.8 526.3,99 532,97.9" fill="none" stroke="#6e6e6e" stroke-width="1.3" stroke-linejoin="round"/>
<polyline points="299,370.7 300.7,365.7 304,365.3 307.3,368.5 310.5,369.6 312.7,374 317.1,374.4 320.4,371.8 326.9,371.8 329.1,372.9 334.5,370.1 338.9,368.5 345.5,367.5 352,366.4 355.3,370.7 354.8,375.1 356.4,379.5 360.7,383.8 366.2,387.1 371.6,389.3 378.2,390.4 385,391.6 392.3,390.2 398.7,387.4 405.1,385.6 412.4,385.6 419.7,387.4 427,390.2 434.4,391.1 438,393.8 440.8,399.3 444.4,403.9 442.6,407.5 439.8,410.3 441.7,414.8 443.5,419.4 443.1,428" fill="none" stroke="#6e6e6e" stroke-width="1.3" stroke-linejoin="round"/>
<polygon points="477.2,75 526.8,84.7 516.1,114.8 466.5,105.1" fill="none" stroke="#ecec4a" stroke-width="0.8"/>
<polygon points="467.7,101.8 517.3,111.5 506.9,140.8 457.3,131.1" fill="none" stroke="#ecec4a" stroke-width="0.8"/>
<polygon points="458.5,127.8 508.1,137.5 497.7,166.8 448.1,157.1" fill="none" stroke="#ecec4a" stroke-width="0.8"/>
<polygon points="449.2,153.8 498.8,163.5 488.4,192.8 438.8,183.1" fill="none" stroke="#ecec4a" stroke-width="0.8"/>
<polygon points="440,179.8 489.6,189.5 479.2,218.8 429.6,209.1" fill="none" stroke="#ecec4a" stroke-width="0.8"/>
<polygon points="430.8,205.8 480.4,215.5 470,244.8 420.4,235.1" fill="none" stroke="#ecec4a" stroke-width="0.8"/>
<polygon points="421.5,231.8 471.1,241.5 460.7,270.8 411.1,261.1" fill="none" stroke="#ecec4a" stroke-width="0.8"/>
<polygon points="412.3,257.8 461.9,267.5 451.5,296.8 401.9,287.1" fill="none" stroke="#ecec4a" stroke-width="0.8"/>
<polygon points="403.1,283.8 452.7,293.5 442.3,322.8 392.7,313.1" fill="none" stroke="#ecec4a" stroke-width="0.8"/>
<polygon points="393.8,309.8 443.4,319.5 433,348.8 383.4,339.1" fill="none" stroke="#ecec4a" stroke-width="0.8"/>
<polygon points="384.6,335.8 434.2,345.5 423.8,374.8 374.2,365.1" fill="none" stroke="#ecec4a" stroke-width="0.8"/>
<polygon points="375.4,361.8 425,371.5 415.3,398.7 365.7,389" fill="none" stroke="#ecec4a" stroke-width="0.8"/>
<g fill="#7a1010" stroke="#190202" stroke-width="0.6">
<circle cx="474.6" cy="86.5" r="1.3"/>
<circle cx="474.1" cy="88.7" r="1.3"/>
<circle cx="473.6" cy="90.9" r="1.3"/>
<circle cx="473.3" cy="93.1" r="1.3"/>
<circle cx="472.5" cy="95.3" r="1.3"/>
<circle cx="472.2" cy="97.4" r="1.3"/>
<circle cx="472" cy="99.6" r="1.3"/>
<circle cx="471.2" cy="101.8" r="1.3"/>
<circle cx="471.1" cy="104" r="1.3"/>
<circle cx="470.3" cy="106.2" r="1.3"/>
<circle cx="470.5" cy="106.2" r="1.3"/>
<circle cx="469.7" cy="108.4" r="1.3"/>
<circle cx="468.7" cy="110.6" r="1.3"/>
<circle cx="468.4" cy="112.8" r="1.3"/>
<circle cx="467.3" cy="114.9" r="1.3"/>
<circle cx="466.5" cy="117.1" r="1.3"/>
<circle cx="465.9" cy="119.3" r="1.3"/>
<circle cx="466.2" cy="119.3" r="1.3"/>
<circle cx="465.6" cy="121.5" r="1.3"/>
<circle cx="465.3" cy="123.6" r="1.3"/>
<circle cx="464.7" cy="125.8" r="1.3"/>
<circle cx="464.3" cy="128" r="1.3"/>
<circle cx="463.7" cy="130.2" r="1.3"/>
<circle cx="463.4" cy="132.3" r="1.3"/>
<circle cx="463.3" cy="134.5" r="1.3"/>
<circle cx="462.7" cy="136.7" r="1.3"/>
<circle cx="462.9" cy="136.7" r="1.3"/>
<circle cx="462.2" cy="138.9" r="1.3"/>
<circle cx="462.2" cy="141.1" r="1.3"/>
<circle cx="461.9" cy="143.3" r="1.3"/>
<circle cx="461.5" cy="145.5" r="1.3"/>
<circle cx="458.7" cy="152.5" r="1.3"/>
<circle cx="457.6" cy="155.2" r="1.3"/>
<circle cx="456.5" cy="158" r="1.3"/>
<circle cx="456.6" cy="158" r="1.3"/>
<circle cx="456.3" cy="161.3" r="1.3"/>
<circle cx="456.3" cy="164.6" r="1.3"/>
<circle cx="492.4" cy="94.2" r="1.3"/>
<circle cx="492.7" cy="96.5" r="1.3"/>
<circle cx="493.2" cy="98.9" r="1.3"/>
<circle cx="493.4" cy="101.2" r="1.3"/>
<circle cx="493.9" cy="103.5" r="1.3"/>
<circle cx="494.4" cy="105.8" r="1.3"/>
<circle cx="495.1" cy="108.2" r="1.3"/>
<circle cx="495.4" cy="110.5" r="1.3"/>
<circle cx="495.7" cy="110.5" r="1.3"/>
<circle cx="496.2" cy="113.2" r="1.3"/>
<circle cx="497.3" cy="116" r="1.3"/>
<circle cx="497.7" cy="118.8" r="1.3"/>
<circle cx="498.8" cy="121.5" r="1.3"/>
<circle cx="498.7" cy="121.5" r="1.3"/>
<circle cx="499.5" cy="124.1" r="1.3"/>
<circle cx="499.8" cy="126.7" r="1.3"/>
<circle cx="500.8" cy="129.3" r="1.3"/>
<circle cx="501.5" cy="131.9" r="1.3"/>
<circle cx="502" cy="134.5" r="1.3"/>
<circle cx="502.1" cy="134.5" r="1.3"/>
<circle cx="502.4" cy="136.8" r="1.3"/>
<circle cx="502.7" cy="139.2" r="1.3"/>
<circle cx="502.9" cy="141.5" r="1.3"/>
<circle cx="455.8" cy="170" r="1.3"/>
<circle cx="455.4" cy="171.4" r="1.3"/>
<circle cx="455.5" cy="172.8" r="1.3"/>
<circle cx="455.2" cy="174.2" r="1.3"/>
<circle cx="455.2" cy="175.6" r="1.3"/>
<circle cx="455.3" cy="175.6" r="1.3"/>
<circle cx="455.2" cy="176.9" r="1.3"/>
<circle cx="454.5" cy="178.1" r="1.3"/>
<circle cx="454.4" cy="179.4" r="1.3"/>
<circle cx="453.8" cy="180.7" r="1.3"/>
<circle cx="453.6" cy="182" r="1.3"/>
<circle cx="453.2" cy="183.2" r="1.3"/>
<circle cx="453" cy="184.5" r="1.3"/>
<circle cx="452.7" cy="185.8" r="1.3"/>
<circle cx="451.9" cy="187" r="1.3"/>
<circle cx="451.6" cy="188.3" r="1.3"/>
<circle cx="451.4" cy="189.6" r="1.3"/>
<circle cx="451.2" cy="190.9" r="1.3"/>
<circle cx="450.7" cy="192.1" r="1.3"/>
<circle cx="450.5" cy="193.4" r="1.3"/>
<circle cx="449.9" cy="194.7" r="1.3"/>
<circle cx="449.7" cy="195.9" r="1.3"/>
<circle cx="449.1" cy="197.2" r="1.3"/>
<circle cx="449" cy="198.5" r="1.3"/>
<circle cx="448.3" cy="199.8" r="1.3"/>
<circle cx="448.3" cy="201" r="1.3"/>
<circle cx="447.5" cy="202.3" r="1.3"/>
<circle cx="447.7" cy="202.3" r="1.3"/>
<circle cx="447.6" cy="203.6" r="1.3"/>
<circle cx="447.2" cy="205" r="1.3"/>
<circle cx="447" cy="206.3" r="1.3"/>
<circle cx="446.6" cy="207.6" r="1.3"/>
<circle cx="446.3" cy="209" r="1.3"/>
<circle cx="446.1" cy="210.3" r="1.3"/>
<circle cx="445.7" cy="211.6" r="1.3"/>
<circle cx="445.4" cy="213" r="1.3"/>
<circle cx="444.8" cy="214.3" r="1.3"/>
<circle cx="444.9" cy="215.7" r="1.3"/>
<circle cx="444.6" cy="217" r="1.3"/>
<circle cx="444.1" cy="218.3" r="1.3"/>
<circle cx="443.6" cy="219.7" r="1.3"/>
<circle cx="443.5" cy="221" r="1.3"/>
<circle cx="443.1" cy="222.3" r="1.3"/>
<circle cx="442.8" cy="223.7" r="1.3"/>
<circle cx="442.7" cy="225" r="1.3"/>
<circle cx="442.7" cy="225" r="1.3"/>
<circle cx="442.4" cy="226.3" r="1.3"/>
<circle cx="442.2" cy="227.6" r="1.3"/>
<circle cx="441.6" cy="228.9" r="1.3"/>
<circle cx="441.6" cy="230.2" r="1.3"/>
<circle cx="441.2" cy="231.5" r="1.3"/>
<circle cx="440.7" cy="232.8" r="1.3"/>
<circle cx="440.8" cy="234.2" r="1.3"/>
<circle cx="440.3" cy="235.5" r="1.3"/>
<circle cx="439.7" cy="236.8" r="1.3"/>
<circle cx="439.5" cy="238.1" r="1.3"/>
<circle cx="439.4" cy="239.4" r="1.3"/>
<circle cx="439.3" cy="240.7" r="1.3"/>
<circle cx="438.6" cy="242" r="1.3"/>
<circle cx="438.3" cy="243.3" r="1.3"/>
<circle cx="438.3" cy="244.6" r="1.3"/>
<circle cx="438" cy="245.9" r="1.3"/>
<circle cx="437.8" cy="247.2" r="1.3"/>
<circle cx="437.1" cy="248.5" r="1.3"/>
<circle cx="437.1" cy="249.8" r="1.3"/>
<circle cx="436.7" cy="251.1" r="1.3"/>
<circle cx="436.3" cy="252.5" r="1.3"/>
<circle cx="436.4" cy="253.8" r="1.3"/>
<circle cx="436.1" cy="255.1" r="1.3"/>
<circle cx="435.6" cy="256.4" r="1.3"/>
<circle cx="435.4" cy="257.7" r="1.3"/>
<circle cx="435.1" cy="259" r="1.3"/>
<circle cx="434.7" cy="260.3" r="1.3"/>
<circle cx="434.6" cy="261.6" r="1.3"/>
<circle cx="455.4" cy="175.6" r="1.3"/>
<circle cx="456.2" cy="176.8" r="1.3"/>
<circle cx="456.4" cy="178.1" r="1.3"/>
<circle cx="456.7" cy="179.3" r="1.3"/>
<circle cx="457.2" cy="180.6" r="1.3"/>
<circle cx="457.8" cy="181.8" r="1.3"/>
<circle cx="458.1" cy="183" r="1.3"/>
<circle cx="458.5" cy="184.3" r="1.3"/>
<circle cx="458.9" cy="185.5" r="1.3"/>
<circle cx="459.1" cy="186.7" r="1.3"/>
<circle cx="459.7" cy="188" r="1.3"/>
<circle cx="460" cy="189.2" r="1.3"/>
<circle cx="460.2" cy="190.4" r="1.3"/>
<circle cx="460.6" cy="191.7" r="1.3"/>
<circle cx="461" cy="192.9" r="1.3"/>
<circle cx="461.6" cy="194.2" r="1.3"/>
<circle cx="461.8" cy="195.4" r="1.3"/>
<circle cx="462" cy="195.4" r="1.3"/>
<circle cx="462.1" cy="196.7" r="1.3"/>
<circle cx="462.8" cy="198" r="1.3"/>
<circle cx="463.2" cy="199.3" r="1.3"/>
<circle cx="463.5" cy="200.6" r="1.3"/>
<circle cx="463.6" cy="201.9" r="1.3"/>
<circle cx="464.1" cy="203.2" r="1.3"/>
<circle cx="464.3" cy="204.6" r="1.3"/>
<circle cx="464.6" cy="205.9" r="1.3"/>
<circle cx="464.8" cy="207.2" r="1.3"/>
<circle cx="465.5" cy="208.5" r="1.3"/>
<circle cx="465.6" cy="209.8" r="1.3"/>
<circle cx="465.8" cy="211.1" r="1.3"/>
<circle cx="466.2" cy="212.4" r="1.3"/>
<circle cx="466.5" cy="213.7" r="1.3"/>
<circle cx="467" cy="215" r="1.3"/>
<circle cx="467.5" cy="216.3" r="1.3"/>
<circle cx="467.9" cy="217.6" r="1.3"/>
<circle cx="468" cy="219" r="1.3"/>
<circle cx="468.2" cy="220.3" r="1.3"/>
<circle cx="468.8" cy="221.6" r="1.3"/>
<circle cx="469.2" cy="222.9" r="1.3"/>
<circle cx="469.1" cy="224.2" r="1.3"/>
<circle cx="469.8" cy="225.5" r="1.3"/>
<circle cx="470.1" cy="226.8" r="1.3"/>
<circle cx="419.7" cy="238.7" r="1.3"/>
<circle cx="419.8" cy="239.9" r="1.3"/>
<circle cx="420.4" cy="241.1" r="1.3"/>
<circle cx="420.5" cy="242.3" r="1.3"/>
<circle cx="420.8" cy="243.5" r="1.3"/>
<circle cx="420.9" cy="244.7" r="1.3"/>
<circle cx="421.2" cy="245.9" r="1.3"/>
<circle cx="421.6" cy="247.1" r="1.3"/>
<circle cx="421.7" cy="248.3" r="1.3"/>
<circle cx="422.2" cy="249.6" r="1.3"/>
<circle cx="422.5" cy="250.8" r="1.3"/>
<circle cx="422.9" cy="252" r="1.3"/>
<circle cx="423" cy="253.2" r="1.3"/>
<circle cx="423.2" cy="254.4" r="1.3"/>
<circle cx="423.6" cy="255.6" r="1.3"/>
<circle cx="423.7" cy="256.8" r="1.3"/>
<circle cx="424.2" cy="258" r="1.3"/>
<circle cx="423.9" cy="258" r="1.3"/>
<circle cx="424.1" cy="259.2" r="1.3"/>
<circle cx="424.7" cy="260.4" r="1.3"/>
<circle cx="424.8" cy="261.6" r="1.3"/>
<circle cx="424.8" cy="262.9" r="1.3"/>
<circle cx="425.1" cy="264.1" r="1.3"/>
<circle cx="425.4" cy="265.3" r="1.3"/>
<circle cx="425.5" cy="266.5" r="1.3"/>
<circle cx="425.7" cy="267.7" r="1.3"/>
<circle cx="426.4" cy="268.9" r="1.3"/>
<circle cx="426.5" cy="270.1" r="1.3"/>
<circle cx="426.5" cy="271.4" r="1.3"/>
<circle cx="427" cy="272.6" r="1.3"/>
<circle cx="427.4" cy="273.8" r="1.3"/>
<circle cx="427.3" cy="275" r="1.3"/>
<circle cx="427.6" cy="276.2" r="1.3"/>
<circle cx="428" cy="277.4" r="1.3"/>
<circle cx="428.2" cy="278.6" r="1.3"/>
<circle cx="428.7" cy="279.9" r="1.3"/>
<circle cx="428.6" cy="281.1" r="1.3"/>
<circle cx="429" cy="282.3" r="1.3"/>
<circle cx="429" cy="283.5" r="1.3"/>
<circle cx="428.9" cy="283.5" r="1.3"/>
<circle cx="429" cy="284.7" r="1.3"/>
<circle cx="428.4" cy="285.9" r="1.3"/>
<circle cx="428.1" cy="287.1" r="1.3"/>
<circle cx="428.3" cy="288.3" r="1.3"/>
<circle cx="428.2" cy="289.5" r="1.3"/>
<circle cx="427.6" cy="290.7" r="1.3"/>
<circle cx="427.4" cy="291.9" r="1.3"/>
<circle cx="427.3" cy="293.1" r="1.3"/>
<circle cx="427.1" cy="294.3" r="1.3"/>
<circle cx="426.8" cy="295.5" r="1.3"/>
<circle cx="426.7" cy="296.7" r="1.3"/>
<circle cx="426.6" cy="297.9" r="1.3"/>
<circle cx="426" cy="299.1" r="1.3"/>
<circle cx="426" cy="300.3" r="1.3"/>
<circle cx="425.8" cy="301.5" r="1.3"/>
<circle cx="425.8" cy="302.7" r="1.3"/>
<circle cx="425.2" cy="303.9" r="1.3"/>
<circle cx="425.4" cy="305.1" r="1.3"/>
<circle cx="424.9" cy="306.3" r="1.3"/>
<circle cx="424.5" cy="307.5" r="1.3"/>
<circle cx="424.5" cy="308.7" r="1.3"/>
<circle cx="424.1" cy="309.9" r="1.3"/>
<circle cx="424" cy="311.1" r="1.3"/>
<circle cx="423.7" cy="312.4" r="1.3"/>
<circle cx="423.6" cy="313.6" r="1.3"/>
<circle cx="423.4" cy="314.8" r="1.3"/>
<circle cx="423.3" cy="316" r="1.3"/>
<circle cx="423.2" cy="317.2" r="1.3"/>
<circle cx="422.9" cy="318.4" r="1.3"/>
<circle cx="422.8" cy="319.6" r="1.3"/>
<circle cx="422.3" cy="320.8" r="1.3"/>
<circle cx="422" cy="322" r="1.3"/>
<circle cx="422.1" cy="323.2" r="1.3"/>
<circle cx="421.9" cy="324.4" r="1.3"/>
<circle cx="421.5" cy="325.6" r="1.3"/>
<circle cx="421.5" cy="326.8" r="1.3"/>
<circle cx="420.9" cy="328" r="1.3"/>
<circle cx="421.1" cy="329.2" r="1.3"/>
<circle cx="420.6" cy="330.4" r="1.3"/>
<circle cx="420.5" cy="331.6" r="1.3"/>
<circle cx="420.1" cy="332.8" r="1.3"/>
<circle cx="420.2" cy="334" r="1.3"/>
<circle cx="420" cy="335.2" r="1.3"/>
<circle cx="419.4" cy="336.4" r="1.3"/>
<circle cx="419.5" cy="337.6" r="1.3"/>
<circle cx="419.1" cy="338.8" r="1.3"/>
<circle cx="419" cy="340" r="1.3"/>
<circle cx="419" cy="340" r="1.3"/>
<circle cx="419" cy="341.2" r="1.3"/>
<circle cx="418.4" cy="342.4" r="1.3"/>
<circle cx="418" cy="343.5" r="1.3"/>
<circle cx="417.9" cy="344.7" r="1.3"/>
<circle cx="417.7" cy="345.9" r="1.3"/>
<circle cx="417.1" cy="347.1" r="1.3"/>
<circle cx="417.3" cy="348.3" r="1.3"/>
<circle cx="417" cy="349.4" r="1.3"/>
<circle cx="416.6" cy="350.6" r="1.3"/>
<circle cx="416.2" cy="351.8" r="1.3"/>
<circle cx="416" cy="353" r="1.3"/>
<circle cx="415.7" cy="354.2" r="1.3"/>
<circle cx="415.7" cy="355.3" r="1.3"/>
<circle cx="415.1" cy="356.5" r="1.3"/>
<circle cx="415.1" cy="357.7" r="1.3"/>
<circle cx="414.8" cy="358.9" r="1.3"/>
<circle cx="414.3" cy="360.1" r="1.3"/>
<circle cx="414.3" cy="361.2" r="1.3"/>
<circle cx="414" cy="362.4" r="1.3"/>
<circle cx="413.6" cy="363.6" r="1.3"/>
<circle cx="413.5" cy="364.8" r="1.3"/>
<circle cx="413" cy="365.9" r="1.3"/>
<circle cx="412.6" cy="367.1" r="1.3"/>
<circle cx="412.4" cy="368.3" r="1.3"/>
<circle cx="412.1" cy="369.5" r="1.3"/>
<circle cx="412.2" cy="370.7" r="1.3"/>
<circle cx="411.7" cy="371.8" r="1.3"/>
<circle cx="411.5" cy="373" r="1.3"/>
<circle cx="410.9" cy="374.2" r="1.3"/>
<circle cx="410.8" cy="375.4" r="1.3"/>
<circle cx="410.8" cy="376.6" r="1.3"/>
<circle cx="410.1" cy="377.7" r="1.3"/>
<circle cx="409.8" cy="378.9" r="1.3"/>
<circle cx="409.7" cy="380.1" r="1.3"/>
<circle cx="409.4" cy="381.3" r="1.3"/>
<circle cx="409.2" cy="382.5" r="1.3"/>
<circle cx="409.2" cy="383.6" r="1.3"/>
<circle cx="408.8" cy="384.8" r="1.3"/>
<circle cx="408.5" cy="386" r="1.3"/>
<circle cx="429.4" cy="284.5" r="1.3"/>
<circle cx="429.6" cy="285.7" r="1.3"/>
<circle cx="429.9" cy="286.9" r="1.3"/>
<circle cx="430.3" cy="288" r="1.3"/>
<circle cx="430.5" cy="289.2" r="1.3"/>
<circle cx="430.6" cy="290.4" r="1.3"/>
<circle cx="430.7" cy="291.6" r="1.3"/>
<circle cx="431.1" cy="292.7" r="1.3"/>
<circle cx="431.4" cy="293.9" r="1.3"/>
<circle cx="431.9" cy="295.1" r="1.3"/>
<circle cx="431.7" cy="296.3" r="1.3"/>
<circle cx="431.9" cy="297.5" r="1.3"/>
<circle cx="432.4" cy="298.6" r="1.3"/>
<circle cx="432.4" cy="299.8" r="1.3"/>
<circle cx="432.9" cy="301" r="1.3"/>
<circle cx="433" cy="302.2" r="1.3"/>
<circle cx="433.5" cy="303.3" r="1.3"/>
<circle cx="433.6" cy="304.5" r="1.3"/>
<circle cx="433.8" cy="305.7" r="1.3"/>
<circle cx="434.2" cy="306.9" r="1.3"/>
<circle cx="434.3" cy="308" r="1.3"/>
<circle cx="434.6" cy="309.2" r="1.3"/>
<circle cx="435" cy="310.4" r="1.3"/>
<circle cx="434.9" cy="311.6" r="1.3"/>
<circle cx="435.5" cy="312.8" r="1.3"/>
<circle cx="435.6" cy="313.9" r="1.3"/>
<circle cx="436.1" cy="315.1" r="1.3"/>
<circle cx="436" cy="316.3" r="1.3"/>
<circle cx="436.2" cy="317.5" r="1.3"/>
<circle cx="436.4" cy="318.6" r="1.3"/>
<circle cx="436.7" cy="319.8" r="1.3"/>
<circle cx="436.9" cy="321" r="1.3"/>
<circle cx="380.8" cy="351.7" r="1.3"/>
<circle cx="380.7" cy="352.9" r="1.3"/>
<circle cx="380.1" cy="354.1" r="1.3"/>
<circle cx="380" cy="355.3" r="1.3"/>
<circle cx="380" cy="356.4" r="1.3"/>
<circle cx="379.5" cy="357.6" r="1.3"/>
<circle cx="379.5" cy="358.8" r="1.3"/>
<circle cx="379.1" cy="360" r="1.3"/>
<circle cx="378.5" cy="361.2" r="1.3"/>
<circle cx="378.4" cy="362.4" r="1.3"/>
<circle cx="378.4" cy="363.6" r="1.3"/>
<circle cx="377.9" cy="364.8" r="1.3"/>
<circle cx="377.9" cy="365.9" r="1.3"/>
<circle cx="377.5" cy="367.1" r="1.3"/>
<circle cx="377" cy="368.3" r="1.3"/>
<circle cx="376.8" cy="369.5" r="1.3"/>
<circle cx="376.5" cy="370.7" r="1.3"/>
<circle cx="376.4" cy="371.9" r="1.3"/>
<circle cx="376.3" cy="373.1" r="1.3"/>
<circle cx="375.9" cy="374.3" r="1.3"/>
<circle cx="375.4" cy="375.4" r="1.3"/>
<circle cx="375.5" cy="376.6" r="1.3"/>
<circle cx="374.9" cy="377.8" r="1.3"/>
<circle cx="375.1" cy="379" r="1.3"/>
<circle cx="374.7" cy="380.2" r="1.3"/>
<circle cx="374.3" cy="381.4" r="1.3"/>
<circle cx="374" cy="382.6" r="1.3"/>
<circle cx="373.7" cy="383.8" r="1.3"/>
<circle cx="373.5" cy="384.9" r="1.3"/>
<circle cx="373.3" cy="386.1" r="1.3"/>
<circle cx="373.3" cy="387.3" r="1.3"/>
<circle cx="372.7" cy="388.5" r="1.3"/>
<circle cx="387.5" cy="334.9" r="1.3"/>
<circle cx="387.7" cy="336.1" r="1.3"/>
<circle cx="387.9" cy="337.3" r="1.3"/>
<circle cx="388.2" cy="338.5" r="1.3"/>
<circle cx="388.3" cy="339.7" r="1.3"/>
<circle cx="388.7" cy="340.9" r="1.3"/>
<circle cx="388.6" cy="342" r="1.3"/>
<circle cx="389" cy="343.2" r="1.3"/>
<circle cx="389.4" cy="344.4" r="1.3"/>
<circle cx="389.7" cy="345.6" r="1.3"/>
<circle cx="389.6" cy="346.8" r="1.3"/>
<circle cx="390" cy="348" r="1.3"/>
<circle cx="390.2" cy="349.2" r="1.3"/>
<circle cx="390.3" cy="350.4" r="1.3"/>
<circle cx="390.7" cy="351.6" r="1.3"/>
<circle cx="391" cy="352.8" r="1.3"/>
<circle cx="391" cy="354" r="1.3"/>
<circle cx="391.5" cy="355.1" r="1.3"/>
<circle cx="391.7" cy="356.3" r="1.3"/>
<circle cx="392" cy="357.5" r="1.3"/>
<circle cx="392" cy="358.7" r="1.3"/>
<circle cx="392.2" cy="359.9" r="1.3"/>
<circle cx="392.7" cy="361.1" r="1.3"/>
<circle cx="393.1" cy="362.3" r="1.3"/>
<circle cx="393.2" cy="363.5" r="1.3"/>
<circle cx="393.2" cy="364.7" r="1.3"/>
<circle cx="393.7" cy="365.9" r="1.3"/>
<circle cx="393.6" cy="367.1" r="1.3"/>
<circle cx="393.9" cy="368.2" r="1.3"/>
<circle cx="394.2" cy="369.4" r="1.3"/>
<circle cx="394.4" cy="370.6" r="1.3"/>
<circle cx="395.1" cy="371.8" r="1.3"/>
<circle cx="395.1" cy="373" r="1.3"/>
<circle cx="395.4" cy="374.2" r="1.3"/>
<circle cx="395.5" cy="375.4" r="1.3"/>
<circle cx="395.6" cy="376.6" r="1.3"/>
<circle cx="396.1" cy="377.8" r="1.3"/>
<circle cx="396.2" cy="379" r="1.3"/>
<circle cx="396.4" cy="380.2" r="1.3"/>
<circle cx="396.6" cy="381.3" r="1.3"/>
<circle cx="397.2" cy="382.5" r="1.3"/>
<circle cx="397.4" cy="383.7" r="1.3"/>
<circle cx="397.4" cy="384.9" r="1.3"/>
<circle cx="397.6" cy="386.1" r="1.3"/>
<circle cx="398.2" cy="387.3" r="1.3"/>
<circle cx="434" cy="263" r="1.3"/>
<circle cx="435" cy="269.1" r="1.3"/>
<circle cx="436" cy="275.1" r="1.3"/>
<circle cx="437.3" cy="281.2" r="1.3"/>
<circle cx="438.3" cy="287.2" r="1.3"/>
<circle cx="439.4" cy="293.3" r="1.3"/>
<circle cx="440.8" cy="299.3" r="1.3"/>
<circle cx="441.9" cy="305.4" r="1.3"/>
<circle cx="490.3" cy="167.4" r="1.3"/>
<circle cx="432.7" cy="207.9" r="1.3"/>
<circle cx="437.7" cy="225.9" r="1.3"/>
<circle cx="426" cy="231.6" r="1.3"/>
<circle cx="428" cy="237.8" r="1.3"/>
<circle cx="446" cy="243.3" r="1.3"/>
<circle cx="441.7" cy="302.7" r="1.3"/>
<circle cx="453.5" cy="153.7" r="1.3"/>
<circle cx="460" cy="157.3" r="1.3"/>
<circle cx="462" cy="152" r="1.3"/>
<circle cx="490.5" cy="92.5" r="1.3"/>
<circle cx="493.5" cy="95" r="1.3"/>
</g>
<text x="358" y="267.2" font-family="'Liberation Serif', serif" font-weight="bold" font-size="11.5" fill="#ffffff" fill-opacity="0.75" text-anchor="middle">Heilongjiang</text>
<text x="480.9" y="355.2" font-family="'Liberation Serif', serif" font-weight="bold" font-size="11.5" fill="#ffffff" fill-opacity="1.0" text-anchor="middle">Heilongjiang</text>
<text x="343.7" y="411.6" font-family="'Liberation Serif', serif" font-weight="bold" font-size="11.5" fill="#ffffff" fill-opacity="0.8" text-anchor="middle">Jilin</text>
<rect x="299.9" y="18.7" width="124.5" height="139.3" fill="#ffffff" stroke="#222222" stroke-width="0.8"/>
<circle cx="317.6" cy="30.5" r="1.05" fill="#7c1010" stroke="#2b0505" stroke-width="0.4"/>
<text x="336.3" y="34" font-family="'Liberation Serif', serif" font-weight="bold" font-size="9.5" fill="#111111" stroke="#111111" stroke-width="0.22">GLAS LAPs</text>
<text x="336.3" y="50.1" font-family="'Liberation Serif', serif" font-weight="bold" font-size="9.5" fill="#111111" stroke="#111111" stroke-width="0.22">Experiment imagery</text>
<text x="336.3" y="67.1" font-family="'Liberation Serif', serif" font-weight="bold" font-size="9.5" fill="#111111" stroke="#111111" stroke-width="0.22">Provincial boundary</text>
<text x="305.2" y="83.5" font-family="'Liberation Serif', serif" font-weight="bold" font-size="9.5" fill="#111111" stroke="#111111" stroke-width="0.22">Terrain type</text>
<text x="336.3" y="99.3" font-family="'Liberation Serif', serif" font-weight="bold" font-size="9.5" fill="#111111" stroke="#111111" stroke-width="0.22">Flat</text>
<text x="336.3" y="116" font-family="'Liberation Serif', serif" font-weight="bold" font-size="9.5" fill="#111111" stroke="#111111" stroke-width="0.22">Hilly</text>
<text x="336.3" y="133.1" font-family="'Liberation Serif', serif" font-weight="bold" font-size="9.5" fill="#111111" stroke="#111111" stroke-width="0.22">Mountainous</text>
<text x="336.3" y="150" font-family="'Liberation Serif', serif" font-weight="bold" font-size="9.5" fill="#111111" stroke="#111111" stroke-width="0.22">High-mountainous</text>
<rect x="304" y="40.5" width="27.3" height="12.2" fill="#ffffff" stroke="#eeee55" stroke-width="1"/>
<rect x="304" y="57.5" width="27.3" height="12.2" fill="#ffffff" stroke="#7a7a7a" stroke-width="1"/>
<rect x="304" y="89.7" width="27.3" height="12.2" fill="#d6d6fa"/>
<rect x="304" y="106.4" width="27.3" height="12.2" fill="#7a8ee2"/>
<rect x="304" y="123.5" width="27.3" height="12.2" fill="#155bc6"/>
<rect x="304" y="140.4" width="27.3" height="12.2" fill="#0638a6"/>
<rect x="445" y="396" width="84.6" height="29.3" fill="#ffffff"/>
<rect x="449.9" y="403.5" width="59.9" height="4.4" fill="#000000"/>
<rect x="465.1" y="404.4" width="14.4" height="2.6" fill="#ffffff"/>
<text x="449.9" y="420.9" font-family="'Liberation Serif', serif" font-weight="bold" font-size="10.7" fill="#111111" stroke="#111111" stroke-width="0.22" text-anchor="middle">0</text>
<text x="479.5" y="420.9" font-family="'Liberation Serif', serif" font-weight="bold" font-size="10.7" fill="#111111" stroke="#111111" stroke-width="0.22" text-anchor="middle">50</text>
<text x="509.8" y="420.9" font-family="'Liberation Serif', serif" font-weight="bold" font-size="10.7" fill="#111111" stroke="#111111" stroke-width="0.22" text-anchor="middle">100</text>
<text x="512.1" y="408.4" font-family="'Liberation Serif', serif" font-weight="bold" font-size="10.2" fill="#111111" stroke="#111111" stroke-width="0.22">km</text>
</g>
<rect x="299.5" y="18.3" width="232.2" height="409.5" fill="none" stroke="#2a2a2a" stroke-width="1.25"/>
<path d="M77.6 19v-2.6M77.6 427.8v2.6M161.6 19v-2.6M161.6 427.8v2.6M245.6 19v-2.6M245.6 427.8v2.6M22.4 40.2h-2.6M255.8 40.2h2.6M22.4 165.2h-2.6M255.8 165.2h2.6M22.4 290.2h-2.6M255.8 290.2h2.6M22.4 415.2h-2.6M255.8 415.2h2.6" stroke="#222222" stroke-width="0.8" fill="none"/>
<text x="77.6" y="14.3" font-family="'Liberation Serif', serif" font-weight="bold" font-size="9.3" fill="#111111" stroke="#111111" stroke-width="0.22" text-anchor="middle">114°00'E</text>
<text x="77.6" y="439.6" font-family="'Liberation Serif', serif" font-weight="bold" font-size="9.3" fill="#111111" stroke="#111111" stroke-width="0.22" text-anchor="middle">114°00'E</text>
<text x="161.6" y="14.3" font-family="'Liberation Serif', serif" font-weight="bold" font-size="9.3" fill="#111111" stroke="#111111" stroke-width="0.22" text-anchor="middle">115°00'E</text>
<text x="161.6" y="439.6" font-family="'Liberation Serif', serif" font-weight="bold" font-size="9.3" fill="#111111" stroke="#111111" stroke-width="0.22" text-anchor="middle">115°00'E</text>
<text x="245.6" y="14.3" font-family="'Liberation Serif', serif" font-weight="bold" font-size="9.3" fill="#111111" stroke="#111111" stroke-width="0.22" text-anchor="middle">116°00'E</text>
<text x="245.6" y="439.6" font-family="'Liberation Serif', serif" font-weight="bold" font-size="9.3" fill="#111111" stroke="#111111" stroke-width="0.22" text-anchor="middle">116°00'E</text>
<text transform="translate(17.2 40.2) rotate(-90)" font-family="'Liberation Serif', serif" font-weight="bold" font-size="9.3" fill="#111111" stroke="#111111" stroke-width="0.22" text-anchor="middle">42°00'N</text>
<text transform="translate(267.5 40.2) rotate(-90)" font-family="'Liberation Serif', serif" font-weight="bold" font-size="9.3" fill="#111111" stroke="#111111" stroke-width="0.22" text-anchor="middle">42°00'N</text>
<text transform="translate(17.2 165.2) rotate(-90)" font-family="'Liberation Serif', serif" font-weight="bold" font-size="9.3" fill="#111111" stroke="#111111" stroke-width="0.22" text-anchor="middle">40°30'N</text>
<text transform="translate(267.5 165.2) rotate(-90)" font-family="'Liberation Serif', serif" font-weight="bold" font-size="9.3" fill="#111111" stroke="#111111" stroke-width="0.22" text-anchor="middle">40°30'N</text>
<text transform="translate(17.2 290.2) rotate(-90)" font-family="'Liberation Serif', serif" font-weight="bold" font-size="9.3" fill="#111111" stroke="#111111" stroke-width="0.22" text-anchor="middle">39°00'N</text>
<text transform="translate(267.5 290.2) rotate(-90)" font-family="'Liberation Serif', serif" font-weight="bold" font-size="9.3" fill="#111111" stroke="#111111" stroke-width="0.22" text-anchor="middle">39°00'N</text>
<text transform="translate(17.2 415.2) rotate(-90)" font-family="'Liberation Serif', serif" font-weight="bold" font-size="9.3" fill="#111111" stroke="#111111" stroke-width="0.22" text-anchor="middle">37°30'N</text>
<path d="M307.5 18.3v-2.6M307.5 427.8v2.6M374.2 18.3v-2.6M374.2 427.8v2.6M441 18.3v-2.6M441 427.8v2.6M507.8 18.3v-2.6M507.8 427.8v2.6M299.5 102.6h-2.6M531.7 102.6h2.6M299.5 201.9h-2.6M531.7 201.9h2.6M299.5 301h-2.6M531.7 301h2.6M299.5 400.3h-2.6M531.7 400.3h2.6" stroke="#222222" stroke-width="0.8" fill="none"/>
<text x="307.5" y="13.3" font-family="'Liberation Serif', serif" font-weight="bold" font-size="9.3" fill="#111111" stroke="#111111" stroke-width="0.22" text-anchor="middle">125°00'E</text>
<text x="307.5" y="440.4" font-family="'Liberation Serif', serif" font-weight="bold" font-size="9.3" fill="#111111" stroke="#111111" stroke-width="0.22" text-anchor="middle">125°00'E</text>
<text x="374.2" y="13.3" font-family="'Liberation Serif', serif" font-weight="bold" font-size="9.3" fill="#111111" stroke="#111111" stroke-width="0.22" text-anchor="middle">126°00'E</text>
<text x="374.2" y="440.4" font-family="'Liberation Serif', serif" font-weight="bold" font-size="9.3" fill="#111111" stroke="#111111" stroke-width="0.22" text-anchor="middle">126°00'E</text>
<text x="441" y="13.3" font-family="'Liberation Serif', serif" font-weight="bold" font-size="9.3" fill="#111111" stroke="#111111" stroke-width="0.22" text-anchor="middle">127°00'E</text>
<text x="441" y="440.4" font-family="'Liberation Serif', serif" font-weight="bold" font-size="9.3" fill="#111111" stroke="#111111" stroke-width="0.22" text-anchor="middle">127°00'E</text>
<text x="507.8" y="13.3" font-family="'Liberation Serif', serif" font-weight="bold" font-size="9.3" fill="#111111" stroke="#111111" stroke-width="0.22" text-anchor="middle">128°00'E</text>
<text x="507.8" y="440.4" font-family="'Liberation Serif', serif" font-weight="bold" font-size="9.3" fill="#111111" stroke="#111111" stroke-width="0.22" text-anchor="middle">128°00'E</text>
<text transform="translate(293.9 102.6) rotate(-90)" font-family="'Liberation Serif', serif" font-weight="bold" font-size="9.3" fill="#111111" stroke="#111111" stroke-width="0.22" text-anchor="middle">49°30'N</text>
<text transform="translate(543.3 102.6) rotate(-90)" font-family="'Liberation Serif', serif" font-weight="bold" font-size="9.3" fill="#111111" stroke="#111111" stroke-width="0.22" text-anchor="middle">49°30'N</text>
<text transform="translate(293.9 201.9) rotate(-90)" font-family="'Liberation Serif', serif" font-weight="bold" font-size="9.3" fill="#111111" stroke="#111111" stroke-width="0.22" text-anchor="middle">48°00'N</text>
<text transform="translate(543.3 201.9) rotate(-90)" font-family="'Liberation Serif', serif" font-weight="bold" font-size="9.3" fill="#111111" stroke="#111111" stroke-width="0.22" text-anchor="middle">48°00'N</text>
<text transform="translate(293.9 301) rotate(-90)" font-family="'Liberation Serif', serif" font-weight="bold" font-size="9.3" fill="#111111" stroke="#111111" stroke-width="0.22" text-anchor="middle">46°30'N</text>
<text transform="translate(543.3 301) rotate(-90)" font-family="'Liberation Serif', serif" font-weight="bold" font-size="9.3" fill="#111111" stroke="#111111" stroke-width="0.22" text-anchor="middle">46°30'N</text>
<text transform="translate(293.9 400.3) rotate(-90)" font-family="'Liberation Serif', serif" font-weight="bold" font-size="9.3" fill="#111111" stroke="#111111" stroke-width="0.22" text-anchor="middle">45°00'N</text>
<text transform="translate(543.3 400.3) rotate(-90)" font-family="'Liberation Serif', serif" font-weight="bold" font-size="9.3" fill="#111111" stroke="#111111" stroke-width="0.22" text-anchor="middle">45°00'N</text>
<text x="138.9" y="457.8" font-family="'Liberation Serif', serif" font-size="13.4" fill="#111111" text-anchor="middle">(<tspan font-weight="bold">a</tspan>)</text>
<text x="415.5" y="457.8" font-family="'Liberation Serif', serif" font-size="13.4" fill="#111111" text-anchor="middle">(<tspan font-weight="bold">b</tspan>)</text>
</svg>
</body>
</html>
